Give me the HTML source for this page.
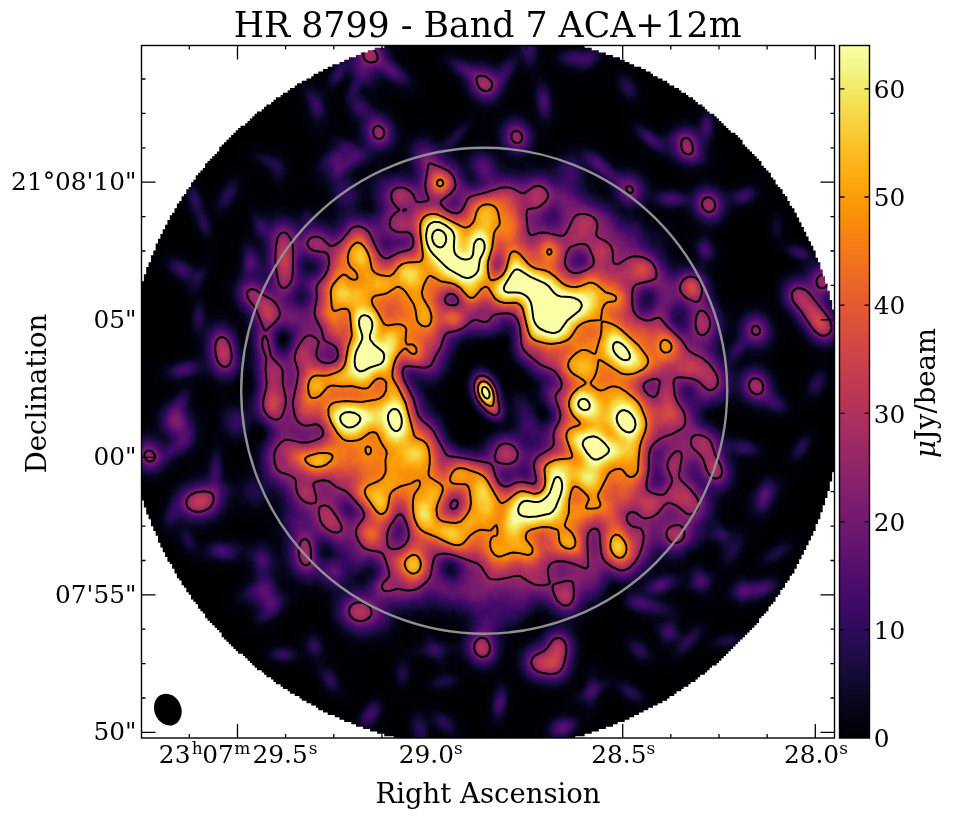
<!DOCTYPE html>
<html><head><meta charset="utf-8"><title>HR 8799 - Band 7 ACA+12m</title>
<style>html,body{margin:0;padding:0;background:#fff}svg{display:block}text{font-family:'DejaVu Serif','Liberation Serif',serif;fill:#000}.b circle{mix-blend-mode:plus-lighter}</style></head><body>
<svg width="953" height="819" viewBox="0 0 953 819">
<defs>
<clipPath id="ax"><rect x="141.5" y="45.5" width="693" height="692.5"/></clipPath>
<clipPath id="disc"><path d="M584.64 45.5L584.64 47.86L591.71 47.86L591.71 50.21L598.79 50.21L598.79 52.57L605.86 52.57L605.86 54.93L612.93 54.93L612.93 57.29L620 57.29L620 59.64L624.71 59.64L624.71 62L629.43 62L629.43 64.36L634.14 64.36L634.14 66.71L641.21 66.71L641.21 69.07L645.93 69.07L645.93 71.43L650.64 71.43L650.64 73.79L653 73.79L653 76.14L657.71 76.14L657.71 78.5L662.43 78.5L662.43 80.86L667.14 80.86L667.14 83.21L669.5 83.21L669.5 85.57L674.21 85.57L674.21 87.93L678.93 87.93L678.93 90.29L681.29 90.29L681.29 92.64L686 92.64L686 95L688.36 95L688.36 97.36L693.07 97.36L693.07 99.71L695.43 99.71L695.43 102.07L697.79 102.07L697.79 104.43L702.5 104.43L702.5 106.79L704.86 106.79L704.86 109.14L707.21 109.14L707.21 111.5L709.57 111.5L709.57 113.86L714.29 113.86L714.29 116.21L716.64 116.21L716.64 118.57L719 118.57L719 120.93L721.36 120.93L721.36 123.29L723.71 123.29L723.71 125.64L726.07 125.64L726.07 128L728.43 128L728.43 130.36L730.79 130.36L730.79 132.71L735.5 132.71L735.5 135.07L737.86 135.07L737.86 137.43L740.21 137.43L740.21 139.79L742.57 139.79L742.57 142.14L742.57 142.14L742.57 144.5L744.93 144.5L744.93 146.86L747.29 146.86L747.29 149.21L749.64 149.21L749.64 151.57L752 151.57L752 153.93L754.36 153.93L754.36 156.29L756.71 156.29L756.71 158.64L759.07 158.64L759.07 161L761.43 161L761.43 163.36L761.43 163.36L761.43 165.71L763.79 165.71L763.79 168.07L766.14 168.07L766.14 170.43L768.5 170.43L768.5 172.79L770.86 172.79L770.86 175.14L770.86 175.14L770.86 177.5L773.21 177.5L773.21 179.86L775.57 179.86L775.57 182.21L775.57 182.21L775.57 184.57L777.93 184.57L777.93 186.93L780.29 186.93L780.29 189.29L782.64 189.29L782.64 191.64L782.64 191.64L782.64 194L785 194L785 196.36L787.36 196.36L787.36 198.71L787.36 198.71L787.36 201.07L789.71 201.07L789.71 203.43L789.71 203.43L789.71 205.79L792.07 205.79L792.07 208.14L794.43 208.14L794.43 210.5L794.43 210.5L794.43 212.86L796.79 212.86L796.79 215.21L796.79 215.21L796.79 217.57L799.14 217.57L799.14 219.93L799.14 219.93L799.14 222.29L801.5 222.29L801.5 224.64L801.5 224.64L801.5 227L803.86 227L803.86 229.36L803.86 229.36L803.86 231.71L806.21 231.71L806.21 234.07L806.21 234.07L806.21 236.43L808.57 236.43L808.57 238.79L808.57 238.79L808.57 241.14L810.93 241.14L810.93 243.5L810.93 243.5L810.93 245.86L813.29 245.86L813.29 248.21L813.29 248.21L813.29 250.57L815.64 250.57L815.64 252.93L815.64 252.93L815.64 255.29L815.64 255.29L815.64 257.64L818 257.64L818 260L818 260L818 262.36L820.36 262.36L820.36 264.71L820.36 264.71L820.36 267.07L820.36 267.07L820.36 269.43L822.71 269.43L822.71 271.79L822.71 271.79L822.71 274.14L822.71 274.14L822.71 276.5L825.07 276.5L825.07 278.86L825.07 278.86L825.07 281.21L825.07 281.21L825.07 283.57L827.43 283.57L827.43 285.93L827.43 285.93L827.43 288.29L827.43 288.29L827.43 290.64L829.79 290.64L829.79 293L829.79 293L829.79 295.36L829.79 295.36L829.79 297.71L829.79 297.71L829.79 300.07L832.14 300.07L832.14 302.43L832.14 302.43L832.14 304.79L832.14 304.79L832.14 307.14L832.14 307.14L832.14 309.5L834.5 309.5L834.5 311.86L834.5 311.86L834.5 314.21L834.5 314.21L834.5 316.57L834.5 316.57L834.5 318.93L834.5 318.93L834.5 321.29L834.5 321.29L834.5 323.64L834.5 323.64L834.5 326L834.5 326L834.5 328.36L834.5 328.36L834.5 330.71L834.5 330.71L834.5 333.07L834.5 333.07L834.5 335.43L834.5 335.43L834.5 337.79L834.5 337.79L834.5 340.14L834.5 340.14L834.5 342.5L834.5 342.5L834.5 344.86L834.5 344.86L834.5 347.21L834.5 347.21L834.5 349.57L834.5 349.57L834.5 351.93L834.5 351.93L834.5 354.29L834.5 354.29L834.5 356.64L834.5 356.64L834.5 359L834.5 359L834.5 361.36L834.5 361.36L834.5 363.71L834.5 363.71L834.5 366.07L834.5 366.07L834.5 368.43L834.5 368.43L834.5 370.79L834.5 370.79L834.5 373.14L834.5 373.14L834.5 375.5L834.5 375.5L834.5 377.86L834.5 377.86L834.5 380.21L834.5 380.21L834.5 382.57L834.5 382.57L834.5 384.93L834.5 384.93L834.5 387.29L834.5 387.29L834.5 389.64L834.5 389.64L834.5 392L834.5 392L834.5 394.36L834.5 394.36L834.5 396.71L834.5 396.71L834.5 399.07L834.5 399.07L834.5 401.43L834.5 401.43L834.5 403.79L834.5 403.79L834.5 406.14L834.5 406.14L834.5 408.5L834.5 408.5L834.5 410.86L834.5 410.86L834.5 413.21L834.5 413.21L834.5 415.57L834.5 415.57L834.5 417.93L834.5 417.93L834.5 420.29L834.5 420.29L834.5 422.64L834.5 422.64L834.5 425L834.5 425L834.5 427.36L834.5 427.36L834.5 429.71L834.5 429.71L834.5 432.07L834.5 432.07L834.5 434.43L834.5 434.43L834.5 436.79L834.5 436.79L834.5 439.14L834.5 439.14L834.5 441.5L834.5 441.5L834.5 443.86L834.5 443.86L834.5 446.21L834.5 446.21L834.5 448.57L834.5 448.57L834.5 450.93L834.5 450.93L834.5 453.29L834.5 453.29L834.5 455.64L834.5 455.64L834.5 458L834.5 458L834.5 460.36L834.5 460.36L834.5 462.71L834.5 462.71L834.5 465.07L834.5 465.07L834.5 467.43L834.5 467.43L834.5 469.79L834.5 469.79L834.5 472.14L832.14 472.14L832.14 474.5L832.14 474.5L832.14 476.86L832.14 476.86L832.14 479.21L832.14 479.21L832.14 481.57L829.79 481.57L829.79 483.93L829.79 483.93L829.79 486.29L829.79 486.29L829.79 488.64L829.79 488.64L829.79 491L827.43 491L827.43 493.36L827.43 493.36L827.43 495.71L827.43 495.71L827.43 498.07L825.07 498.07L825.07 500.43L825.07 500.43L825.07 502.79L825.07 502.79L825.07 505.14L822.71 505.14L822.71 507.5L822.71 507.5L822.71 509.86L822.71 509.86L822.71 512.21L820.36 512.21L820.36 514.57L820.36 514.57L820.36 516.93L820.36 516.93L820.36 519.29L818 519.29L818 521.64L818 521.64L818 524L815.64 524L815.64 526.36L815.64 526.36L815.64 528.71L815.64 528.71L815.64 531.07L813.29 531.07L813.29 533.43L813.29 533.43L813.29 535.79L810.93 535.79L810.93 538.14L810.93 538.14L810.93 540.5L808.57 540.5L808.57 542.86L808.57 542.86L808.57 545.21L806.21 545.21L806.21 547.57L806.21 547.57L806.21 549.93L803.86 549.93L803.86 552.29L803.86 552.29L803.86 554.64L801.5 554.64L801.5 557L801.5 557L801.5 559.36L799.14 559.36L799.14 561.71L799.14 561.71L799.14 564.07L796.79 564.07L796.79 566.43L796.79 566.43L796.79 568.79L794.43 568.79L794.43 571.14L794.43 571.14L794.43 573.5L792.07 573.5L792.07 575.86L789.71 575.86L789.71 578.21L789.71 578.21L789.71 580.57L787.36 580.57L787.36 582.93L785 582.93L785 585.29L785 585.29L785 587.64L782.64 587.64L782.64 590L780.29 590L780.29 592.36L780.29 592.36L780.29 594.71L777.93 594.71L777.93 597.07L775.57 597.07L775.57 599.43L775.57 599.43L775.57 601.79L773.21 601.79L773.21 604.14L770.86 604.14L770.86 606.5L768.5 606.5L768.5 608.86L768.5 608.86L768.5 611.21L766.14 611.21L766.14 613.57L763.79 613.57L763.79 615.93L761.43 615.93L761.43 618.29L759.07 618.29L759.07 620.64L759.07 620.64L759.07 623L756.71 623L756.71 625.36L754.36 625.36L754.36 627.71L752 627.71L752 630.07L749.64 630.07L749.64 632.43L747.29 632.43L747.29 634.79L744.93 634.79L744.93 637.14L742.57 637.14L742.57 639.5L740.21 639.5L740.21 641.86L737.86 641.86L737.86 644.21L735.5 644.21L735.5 646.57L733.14 646.57L733.14 648.93L730.79 648.93L730.79 651.29L728.43 651.29L728.43 653.64L726.07 653.64L726.07 656L723.71 656L723.71 658.36L721.36 658.36L721.36 660.71L719 660.71L719 663.07L716.64 663.07L716.64 665.43L711.93 665.43L711.93 667.79L709.57 667.79L709.57 670.14L707.21 670.14L707.21 672.5L704.86 672.5L704.86 674.86L700.14 674.86L700.14 677.21L697.79 677.21L697.79 679.57L695.43 679.57L695.43 681.93L690.71 681.93L690.71 684.29L688.36 684.29L688.36 686.64L683.64 686.64L683.64 689L681.29 689L681.29 691.36L676.57 691.36L676.57 693.71L674.21 693.71L674.21 696.07L669.5 696.07L669.5 698.43L667.14 698.43L667.14 700.79L662.43 700.79L662.43 703.14L657.71 703.14L657.71 705.5L653 705.5L653 707.86L648.29 707.86L648.29 710.21L643.57 710.21L643.57 712.57L638.86 712.57L638.86 714.93L634.14 714.93L634.14 717.29L629.43 717.29L629.43 719.64L624.71 719.64L624.71 722L617.64 722L617.64 724.36L612.93 724.36L612.93 726.71L605.86 726.71L605.86 729.07L598.79 729.07L598.79 731.43L591.71 731.43L591.71 733.79L584.64 733.79L584.64 736.14L575.21 736.14L575.21 738.5L393.71 738.5L393.71 736.14L384.29 736.14L384.29 733.79L377.21 733.79L377.21 731.43L370.14 731.43L370.14 729.07L363.07 729.07L363.07 726.71L356 726.71L356 724.36L351.29 724.36L351.29 722L344.21 722L344.21 719.64L339.5 719.64L339.5 717.29L334.79 717.29L334.79 714.93L327.71 714.93L327.71 712.57L323 712.57L323 710.21L318.29 710.21L318.29 707.86L315.93 707.86L315.93 705.5L311.21 705.5L311.21 703.14L306.5 703.14L306.5 700.79L301.79 700.79L301.79 698.43L299.43 698.43L299.43 696.07L294.71 696.07L294.71 693.71L290 693.71L290 691.36L287.64 691.36L287.64 689L282.93 689L282.93 686.64L280.57 686.64L280.57 684.29L275.86 684.29L275.86 681.93L273.5 681.93L273.5 679.57L271.14 679.57L271.14 677.21L266.43 677.21L266.43 674.86L264.07 674.86L264.07 672.5L261.71 672.5L261.71 670.14L257 670.14L257 667.79L254.64 667.79L254.64 665.43L252.29 665.43L252.29 663.07L249.93 663.07L249.93 660.71L247.57 660.71L247.57 658.36L245.21 658.36L245.21 656L242.86 656L242.86 653.64L238.14 653.64L238.14 651.29L235.79 651.29L235.79 648.93L233.43 648.93L233.43 646.57L231.07 646.57L231.07 644.21L228.71 644.21L228.71 641.86L226.36 641.86L226.36 639.5L224 639.5L224 637.14L221.64 637.14L221.64 634.79L221.64 634.79L221.64 632.43L219.29 632.43L219.29 630.07L216.93 630.07L216.93 627.71L214.57 627.71L214.57 625.36L212.21 625.36L212.21 623L209.86 623L209.86 620.64L207.5 620.64L207.5 618.29L205.14 618.29L205.14 615.93L205.14 615.93L205.14 613.57L202.79 613.57L202.79 611.21L200.43 611.21L200.43 608.86L198.07 608.86L198.07 606.5L198.07 606.5L198.07 604.14L195.71 604.14L195.71 601.79L193.36 601.79L193.36 599.43L191 599.43L191 597.07L191 597.07L191 594.71L188.64 594.71L188.64 592.36L186.29 592.36L186.29 590L186.29 590L186.29 587.64L183.93 587.64L183.93 585.29L181.57 585.29L181.57 582.93L181.57 582.93L181.57 580.57L179.21 580.57L179.21 578.21L176.86 578.21L176.86 575.86L176.86 575.86L176.86 573.5L174.5 573.5L174.5 571.14L174.5 571.14L174.5 568.79L172.14 568.79L172.14 566.43L172.14 566.43L172.14 564.07L169.79 564.07L169.79 561.71L167.43 561.71L167.43 559.36L167.43 559.36L167.43 557L165.07 557L165.07 554.64L165.07 554.64L165.07 552.29L162.71 552.29L162.71 549.93L162.71 549.93L162.71 547.57L160.36 547.57L160.36 545.21L160.36 545.21L160.36 542.86L158 542.86L158 540.5L158 540.5L158 538.14L158 538.14L158 535.79L155.64 535.79L155.64 533.43L155.64 533.43L155.64 531.07L153.29 531.07L153.29 528.71L153.29 528.71L153.29 526.36L150.93 526.36L150.93 524L150.93 524L150.93 521.64L150.93 521.64L150.93 519.29L148.57 519.29L148.57 516.93L148.57 516.93L148.57 514.57L146.21 514.57L146.21 512.21L146.21 512.21L146.21 509.86L146.21 509.86L146.21 507.5L143.86 507.5L143.86 505.14L143.86 505.14L143.86 502.79L143.86 502.79L143.86 500.43L141.5 500.43L141.5 498.07L141.5 498.07L141.5 495.71L141.5 495.71L141.5 493.36L141.5 493.36L141.5 491L141.5 491L141.5 488.64L141.5 488.64L141.5 486.29L141.5 486.29L141.5 483.93L141.5 483.93L141.5 481.57L141.5 481.57L141.5 479.21L141.5 479.21L141.5 476.86L141.5 476.86L141.5 474.5L141.5 474.5L141.5 472.14L141.5 472.14L141.5 469.79L141.5 469.79L141.5 467.43L141.5 467.43L141.5 465.07L141.5 465.07L141.5 462.71L141.5 462.71L141.5 460.36L141.5 460.36L141.5 458L141.5 458L141.5 455.64L141.5 455.64L141.5 453.29L141.5 453.29L141.5 450.93L141.5 450.93L141.5 448.57L141.5 448.57L141.5 446.21L141.5 446.21L141.5 443.86L141.5 443.86L141.5 441.5L141.5 441.5L141.5 439.14L141.5 439.14L141.5 436.79L141.5 436.79L141.5 434.43L141.5 434.43L141.5 432.07L141.5 432.07L141.5 429.71L141.5 429.71L141.5 427.36L141.5 427.36L141.5 425L141.5 425L141.5 422.64L141.5 422.64L141.5 420.29L141.5 420.29L141.5 417.93L141.5 417.93L141.5 415.57L141.5 415.57L141.5 413.21L141.5 413.21L141.5 410.86L141.5 410.86L141.5 408.5L141.5 408.5L141.5 406.14L141.5 406.14L141.5 403.79L141.5 403.79L141.5 401.43L141.5 401.43L141.5 399.07L141.5 399.07L141.5 396.71L141.5 396.71L141.5 394.36L141.5 394.36L141.5 392L141.5 392L141.5 389.64L141.5 389.64L141.5 387.29L141.5 387.29L141.5 384.93L141.5 384.93L141.5 382.57L141.5 382.57L141.5 380.21L141.5 380.21L141.5 377.86L141.5 377.86L141.5 375.5L141.5 375.5L141.5 373.14L141.5 373.14L141.5 370.79L141.5 370.79L141.5 368.43L141.5 368.43L141.5 366.07L141.5 366.07L141.5 363.71L141.5 363.71L141.5 361.36L141.5 361.36L141.5 359L141.5 359L141.5 356.64L141.5 356.64L141.5 354.29L141.5 354.29L141.5 351.93L141.5 351.93L141.5 349.57L141.5 349.57L141.5 347.21L141.5 347.21L141.5 344.86L141.5 344.86L141.5 342.5L141.5 342.5L141.5 340.14L141.5 340.14L141.5 337.79L141.5 337.79L141.5 335.43L141.5 335.43L141.5 333.07L141.5 333.07L141.5 330.71L141.5 330.71L141.5 328.36L141.5 328.36L141.5 326L141.5 326L141.5 323.64L141.5 323.64L141.5 321.29L141.5 321.29L141.5 318.93L141.5 318.93L141.5 316.57L141.5 316.57L141.5 314.21L141.5 314.21L141.5 311.86L141.5 311.86L141.5 309.5L141.5 309.5L141.5 307.14L141.5 307.14L141.5 304.79L141.5 304.79L141.5 302.43L141.5 302.43L141.5 300.07L141.5 300.07L141.5 297.71L141.5 297.71L141.5 295.36L141.5 295.36L141.5 293L141.5 293L141.5 290.64L141.5 290.64L141.5 288.29L141.5 288.29L141.5 285.93L141.5 285.93L141.5 283.57L141.5 283.57L141.5 281.21L143.86 281.21L143.86 278.86L143.86 278.86L143.86 276.5L143.86 276.5L143.86 274.14L146.21 274.14L146.21 271.79L146.21 271.79L146.21 269.43L146.21 269.43L146.21 267.07L148.57 267.07L148.57 264.71L148.57 264.71L148.57 262.36L150.93 262.36L150.93 260L150.93 260L150.93 257.64L150.93 257.64L150.93 255.29L153.29 255.29L153.29 252.93L153.29 252.93L153.29 250.57L155.64 250.57L155.64 248.21L155.64 248.21L155.64 245.86L155.64 245.86L155.64 243.5L158 243.5L158 241.14L158 241.14L158 238.79L160.36 238.79L160.36 236.43L160.36 236.43L160.36 234.07L162.71 234.07L162.71 231.71L162.71 231.71L162.71 229.36L165.07 229.36L165.07 227L165.07 227L165.07 224.64L167.43 224.64L167.43 222.29L167.43 222.29L167.43 219.93L169.79 219.93L169.79 217.57L169.79 217.57L169.79 215.21L172.14 215.21L172.14 212.86L174.5 212.86L174.5 210.5L174.5 210.5L174.5 208.14L176.86 208.14L176.86 205.79L176.86 205.79L176.86 203.43L179.21 203.43L179.21 201.07L181.57 201.07L181.57 198.71L181.57 198.71L181.57 196.36L183.93 196.36L183.93 194L186.29 194L186.29 191.64L186.29 191.64L186.29 189.29L188.64 189.29L188.64 186.93L191 186.93L191 184.57L191 184.57L191 182.21L193.36 182.21L193.36 179.86L195.71 179.86L195.71 177.5L195.71 177.5L195.71 175.14L198.07 175.14L198.07 172.79L200.43 172.79L200.43 170.43L202.79 170.43L202.79 168.07L205.14 168.07L205.14 165.71L205.14 165.71L205.14 163.36L207.5 163.36L207.5 161L209.86 161L209.86 158.64L212.21 158.64L212.21 156.29L214.57 156.29L214.57 153.93L216.93 153.93L216.93 151.57L219.29 151.57L219.29 149.21L219.29 149.21L219.29 146.86L221.64 146.86L221.64 144.5L224 144.5L224 142.14L226.36 142.14L226.36 139.79L228.71 139.79L228.71 137.43L231.07 137.43L231.07 135.07L233.43 135.07L233.43 132.71L235.79 132.71L235.79 130.36L238.14 130.36L238.14 128L240.5 128L240.5 125.64L245.21 125.64L245.21 123.29L247.57 123.29L247.57 120.93L249.93 120.93L249.93 118.57L252.29 118.57L252.29 116.21L254.64 116.21L254.64 113.86L257 113.86L257 111.5L261.71 111.5L261.71 109.14L264.07 109.14L264.07 106.79L266.43 106.79L266.43 104.43L271.14 104.43L271.14 102.07L273.5 102.07L273.5 99.71L275.86 99.71L275.86 97.36L280.57 97.36L280.57 95L282.93 95L282.93 92.64L287.64 92.64L287.64 90.29L290 90.29L290 87.93L294.71 87.93L294.71 85.57L297.07 85.57L297.07 83.21L301.79 83.21L301.79 80.86L306.5 80.86L306.5 78.5L311.21 78.5L311.21 76.14L313.57 76.14L313.57 73.79L318.29 73.79L318.29 71.43L323 71.43L323 69.07L327.71 69.07L327.71 66.71L332.43 66.71L332.43 64.36L339.5 64.36L339.5 62L344.21 62L344.21 59.64L348.93 59.64L348.93 57.29L356 57.29L356 54.93L360.71 54.93L360.71 52.57L367.79 52.57L367.79 50.21L374.86 50.21L374.86 47.86L384.29 47.86L384.29 45.5Z"/></clipPath>
<linearGradient id="cb" x1="0" y1="1" x2="0" y2="0"><stop offset="0" stop-color="#000004"/><stop offset="0.0312" stop-color="#040312"/><stop offset="0.0625" stop-color="#0b0724"/><stop offset="0.0938" stop-color="#150b37"/><stop offset="0.125" stop-color="#210c4a"/><stop offset="0.1562" stop-color="#2f0a5b"/><stop offset="0.1875" stop-color="#3d0965"/><stop offset="0.2188" stop-color="#4a0c6b"/><stop offset="0.25" stop-color="#57106e"/><stop offset="0.2812" stop-color="#64156e"/><stop offset="0.3125" stop-color="#71196e"/><stop offset="0.3438" stop-color="#7d1e6d"/><stop offset="0.375" stop-color="#8a226a"/><stop offset="0.4062" stop-color="#972766"/><stop offset="0.4375" stop-color="#a32c61"/><stop offset="0.4688" stop-color="#b0315b"/><stop offset="0.5" stop-color="#bc3754"/><stop offset="0.5312" stop-color="#c73e4c"/><stop offset="0.5625" stop-color="#d24644"/><stop offset="0.5938" stop-color="#db503b"/><stop offset="0.625" stop-color="#e45a31"/><stop offset="0.6562" stop-color="#eb6628"/><stop offset="0.6875" stop-color="#f1731d"/><stop offset="0.7188" stop-color="#f68013"/><stop offset="0.75" stop-color="#f98e09"/><stop offset="0.7812" stop-color="#fb9d07"/><stop offset="0.8125" stop-color="#fcac11"/><stop offset="0.8438" stop-color="#fbbc21"/><stop offset="0.875" stop-color="#f9cb35"/><stop offset="0.9062" stop-color="#f5db4c"/><stop offset="0.9375" stop-color="#f2ea69"/><stop offset="0.9688" stop-color="#f3f68a"/><stop offset="1" stop-color="#fcffa4"/></linearGradient>
<radialGradient id="g" cx="0" cy="0" r="1" gradientUnits="userSpaceOnUse"><stop offset="0" stop-color="#f00" stop-opacity="1"/><stop offset=".0833" stop-color="#f00" stop-opacity=".9649"/><stop offset=".1667" stop-color="#f00" stop-opacity=".8666"/><stop offset=".25" stop-color="#f00" stop-opacity=".7245"/><stop offset=".3333" stop-color="#f00" stop-opacity=".5635"/><stop offset=".4167" stop-color="#f00" stop-opacity=".4076"/><stop offset=".5" stop-color="#f00" stop-opacity=".2737"/><stop offset=".5833" stop-color="#f00" stop-opacity=".1702"/><stop offset=".6667" stop-color="#f00" stop-opacity=".0973"/><stop offset=".75" stop-color="#f00" stop-opacity=".0505"/><stop offset=".8333" stop-color="#f00" stop-opacity=".0227"/><stop offset=".9167" stop-color="#f00" stop-opacity=".0076"/><stop offset="1" stop-color="#f00" stop-opacity="0"/></radialGradient>
<radialGradient id="k" cx="0" cy="0" r="1" gradientUnits="userSpaceOnUse"><stop offset="0" stop-color="#00f" stop-opacity="1"/><stop offset=".0833" stop-color="#00f" stop-opacity=".9649"/><stop offset=".1667" stop-color="#00f" stop-opacity=".8666"/><stop offset=".25" stop-color="#00f" stop-opacity=".7245"/><stop offset=".3333" stop-color="#00f" stop-opacity=".5635"/><stop offset=".4167" stop-color="#00f" stop-opacity=".4076"/><stop offset=".5" stop-color="#00f" stop-opacity=".2737"/><stop offset=".5833" stop-color="#00f" stop-opacity=".1702"/><stop offset=".6667" stop-color="#00f" stop-opacity=".0973"/><stop offset=".75" stop-color="#00f" stop-opacity=".0505"/><stop offset=".8333" stop-color="#00f" stop-opacity=".0227"/><stop offset=".9167" stop-color="#00f" stop-opacity=".0076"/><stop offset="1" stop-color="#00f" stop-opacity="0"/></radialGradient>
<filter id="inferno" filterUnits="userSpaceOnUse" x="130" y="30" width="720" height="720" color-interpolation-filters="sRGB"><feColorMatrix type="matrix" values="1 0 -1 0 0 1 0 -1 0 0 1 0 -1 0 0 0 0 0 0 1"/><feGaussianBlur stdDeviation="0.9"/><feComponentTransfer><feFuncR type="table" tableValues=".001 .006 .014 .026 .042 .061 .082 .105 .129 .156 .183 .211 .238 .265 .291 .316 .342 .367 .391 .416 .441 .466 .491 .516 .541 .566 .591 .616 .64 .665 .689 .712 .736 .758 .781 .802 .822 .842 .861 .878 .894 .909 .923 .936 .947 .957 .965 .973 .978 .983 .986 .988 .988 .987 .984 .98 .975 .968 .961 .953 .948 .947 .955 .971 .988 .988 .988 .988 .988 .988 .988 .988 .988 .988 .988 .988 .988 .988 .988 .988 .988 .988 .988 .988 .988 .988 .988 .988 .988 .988 .988 .988 .988 .988 .988 .988 .988 .988 .988 .988 .988 .988 .988 .988 .988 .988 .988 .988 .988 .988 .988 .988 .988 .988 .988 .988 .988 .988 .988 .988 .988 .988 .988 .988 .988 .988 .988 .988 .988"/><feFuncG type="table" tableValues="0 .005 .011 .019 .028 .037 .043 .047 .047 .045 .04 .037 .037 .04 .046 .053 .062 .072 .081 .09 .099 .108 .117 .126 .135 .144 .153 .162 .171 .182 .192 .204 .216 .229 .243 .259 .275 .293 .312 .332 .353 .376 .399 .424 .449 .475 .502 .53 .558 .587 .616 .645 .675 .706 .736 .767 .798 .829 .859 .889 .917 .943 .966 .985 .998 .998 .998 .998 .998 .998 .998 .998 .998 .998 .998 .998 .998 .998 .998 .998 .998 .998 .998 .998 .998 .998 .998 .998 .998 .998 .998 .998 .998 .998 .998 .998 .998 .998 .998 .998 .998 .998 .998 .998 .998 .998 .998 .998 .998 .998 .998 .998 .998 .998 .998 .998 .998 .998 .998 .998 .998 .998 .998 .998 .998 .998 .998 .998 .998"/><feFuncB type="table" tableValues=".014 .039 .072 .106 .141 .178 .215 .253 .291 .325 .355 .379 .396 .409 .419 .425 .429 .432 .433 .433 .432 .429 .426 .421 .415 .408 .4 .391 .381 .37 .358 .344 .33 .315 .3 .283 .266 .249 .231 .212 .194 .175 .155 .135 .115 .095 .074 .053 .035 .025 .026 .04 .065 .096 .13 .166 .206 .25 .298 .351 .411 .475 .54 .602 .645 .645 .645 .645 .645 .645 .645 .645 .645 .645 .645 .645 .645 .645 .645 .645 .645 .645 .645 .645 .645 .645 .645 .645 .645 .645 .645 .645 .645 .645 .645 .645 .645 .645 .645 .645 .645 .645 .645 .645 .645 .645 .645 .645 .645 .645 .645 .645 .645 .645 .645 .645 .645 .645 .645 .645 .645 .645 .645 .645 .645 .645 .645 .645 .645"/></feComponentTransfer></filter>
</defs>
<rect width="953" height="819" fill="#fff"/>
<g clip-path="url(#ax)"><g clip-path="url(#disc)">
<g filter="url(#inferno)"><rect x="130" y="30" width="720" height="720" fill="#000"/>
<g class="b">
<circle r="1" fill="url(#g)" opacity=".578" transform="matrix(21.05 -7.66 12.04 33.08 485.5 392)"/>
<circle r="1" fill="url(#g)" opacity=".172" transform="matrix(16.63 -9.6 13.6 23.56 495 411)"/>
<circle r="1" fill="url(#g)" opacity=".192" transform="matrix(28.57 -10.4 12.04 33.08 284 259)"/>
<circle r="1" fill="url(#g)" opacity=".111" transform="matrix(28.57 -10.4 12.04 33.08 283 241)"/>
<circle r="1" fill="url(#g)" opacity=".142" transform="matrix(28.57 -10.4 12.04 33.08 285 277)"/>
<circle r="1" fill="url(#g)" opacity=".08" transform="matrix(28.57 -10.4 12.04 33.08 284 231)"/>
<circle r="1" fill="url(#g)" opacity=".08" transform="matrix(28.57 -10.4 12.04 33.08 284 290)"/>
<circle r="1" fill="url(#g)" opacity=".105" transform="matrix(28.57 -10.4 12.04 33.08 318 246)"/>
<circle r="1" fill="url(#g)" opacity=".054" transform="matrix(28.57 -10.4 12.04 33.08 335 252)"/>
<circle r="1" fill="url(#g)" opacity=".16" transform="matrix(28.57 -10.4 12.04 33.08 359 241)"/>
<circle r="1" fill="url(#g)" opacity=".072" transform="matrix(28.57 -10.4 12.04 33.08 352.7 227.6)"/>
<circle r="1" fill="url(#g)" opacity=".17" transform="matrix(28.57 -10.4 12.04 33.08 360 259)"/>
<circle r="1" fill="url(#g)" opacity=".13" transform="matrix(28.57 -10.4 12.04 33.08 350 291)"/>
<circle r="1" fill="url(#g)" opacity=".166" transform="matrix(28.57 -10.4 12.04 33.08 366 277)"/>
<circle r="1" fill="url(#g)" opacity=".19" transform="matrix(28.57 -10.4 12.04 33.08 401 195)"/>
<circle r="1" fill="url(#g)" opacity=".175" transform="matrix(28.57 -10.4 12.04 33.08 401 224)"/>
<circle r="1" fill="url(#k)" opacity=".031" transform="matrix(28.57 -10.4 12.04 33.08 403 211.3)"/>
<circle r="1" fill="url(#g)" opacity=".034" transform="matrix(13.92 -1.58 3.54 31.1 337 168)"/>
<circle r="1" fill="url(#g)" opacity=".012" transform="matrix(5.55 -13.4 37.37 15.46 354 158)"/>
<circle r="1" fill="url(#g)" opacity=".05" transform="matrix(12.42 -7.6 18.86 30.83 261 226)"/>
<circle r="1" fill="url(#g)" opacity=".065" transform="matrix(13.86 2.15 -4.06 26.14 249 265)"/>
<circle r="1" fill="url(#g)" opacity=".056" transform="matrix(28.57 -10.4 12.04 33.08 382 189)"/>
<circle r="1" fill="url(#k)" opacity=".034" transform="matrix(28.57 -10.4 12.04 33.08 370 214)"/>
<circle r="1" fill="url(#k)" opacity=".048" transform="matrix(28.57 -10.4 12.04 33.08 311 267)"/>
<circle r="1" fill="url(#k)" opacity=".051" transform="matrix(28.57 -10.4 12.04 33.08 302 296)"/>
<circle r="1" fill="url(#g)" opacity=".125" transform="matrix(28.57 -10.4 12.04 33.08 268 306)"/>
<circle r="1" fill="url(#g)" opacity=".176" transform="matrix(28.57 -10.4 12.04 33.08 251 294)"/>
<circle r="1" fill="url(#g)" opacity=".068" transform="matrix(28.57 -10.4 12.04 33.08 385 303)"/>
<circle r="1" fill="url(#g)" opacity=".145" transform="matrix(28.57 -10.4 12.04 33.08 400.2 266.1)"/>
<circle r="1" fill="url(#g)" opacity=".116" transform="matrix(28.57 -10.4 12.04 33.08 329 284.8)"/>
<circle r="1" fill="url(#g)" opacity=".172" transform="matrix(28.57 -10.4 12.04 33.08 338.8 269.2)"/>
<circle r="1" fill="url(#g)" opacity=".138" transform="matrix(28.57 -10.4 12.04 33.08 348.5 251.6)"/>
<circle r="1" fill="url(#g)" opacity=".128" transform="matrix(28.57 -10.4 12.04 33.08 370 255.5)"/>
<circle r="1" fill="url(#g)" opacity=".086" transform="matrix(28.57 -10.4 12.04 33.08 381.8 275)"/>
<circle r="1" fill="url(#g)" opacity=".108" transform="matrix(28.57 -10.4 12.04 33.08 393.3 278.5)"/>
<circle r="1" fill="url(#g)" opacity=".019" transform="matrix(28.57 -10.4 12.04 33.08 336.8 245.7)"/>
<circle r="1" fill="url(#g)" opacity=".012" transform="matrix(28.57 -10.4 12.04 33.08 389.6 257.4)"/>
<circle r="1" fill="url(#g)" opacity=".087" transform="matrix(28.57 -10.4 12.04 33.08 307.5 245.7)"/>
<circle r="1" fill="url(#g)" opacity=".059" transform="matrix(28.57 -10.4 12.04 33.08 319.2 237.9)"/>
<circle r="1" fill="url(#k)" opacity=".008" transform="matrix(28.57 -10.4 12.04 33.08 327.1 275)"/>
<circle r="1" fill="url(#g)" opacity=".016" transform="matrix(28.57 -10.4 12.04 33.08 319.2 290.7)"/>
<circle r="1" fill="url(#g)" opacity=".183" transform="matrix(28.57 -10.4 12.04 33.08 438 238)"/>
<circle r="1" fill="url(#g)" opacity=".21" transform="matrix(28.57 -10.4 12.04 33.08 454 263)"/>
<circle r="1" fill="url(#g)" opacity=".207" transform="matrix(28.57 -10.4 12.04 33.08 469 268)"/>
<circle r="1" fill="url(#g)" opacity=".203" transform="matrix(28.57 -10.4 12.04 33.08 477 249)"/>
<circle r="1" fill="url(#g)" opacity=".125" transform="matrix(28.57 -10.4 12.04 33.08 458 251)"/>
<circle r="1" fill="url(#g)" opacity=".08" transform="matrix(28.57 -10.4 12.04 33.08 487 210)"/>
<circle r="1" fill="url(#k)" opacity=".093" transform="matrix(28.57 -10.4 12.04 33.08 497.8 263.1)"/>
<circle r="1" fill="url(#g)" opacity=".222" transform="matrix(28.57 -10.4 12.04 33.08 515.4 280.7)"/>
<circle r="1" fill="url(#g)" opacity=".191" transform="matrix(28.57 -10.4 12.04 33.08 542.6 292.5)"/>
<circle r="1" fill="url(#g)" opacity=".305" transform="matrix(28.57 -10.4 12.04 33.08 440 183.5)"/>
<circle r="1" fill="url(#g)" opacity=".11" transform="matrix(28.57 -10.4 12.04 33.08 427.6 161.2)"/>
<circle r="1" fill="url(#g)" opacity=".093" transform="matrix(28.57 -10.4 12.04 33.08 538 196)"/>
<circle r="1" fill="url(#g)" opacity=".133" transform="matrix(28.57 -10.4 12.04 33.08 517 223)"/>
<circle r="1" fill="url(#g)" opacity=".279" transform="matrix(28.57 -10.4 12.04 33.08 550.5 250.6)"/>
<circle r="1" fill="url(#k)" opacity=".068" transform="matrix(28.57 -10.4 12.04 33.08 473 179)"/>
<circle r="1" fill="url(#k)" opacity=".004" transform="matrix(28.57 -10.4 12.04 33.08 514 162)"/>
<circle r="1" fill="url(#k)" opacity=".042" transform="matrix(28.57 -10.4 12.04 33.08 452 205)"/>
<circle r="1" fill="url(#k)" opacity=".033" transform="matrix(28.57 -10.4 12.04 33.08 549.5 216)"/>
<circle r="1" fill="url(#g)" opacity=".213" transform="matrix(28.57 -10.4 12.04 33.08 411 275)"/>
<circle r="1" fill="url(#k)" opacity=".114" transform="matrix(28.57 -10.4 12.04 33.08 453 297.5)"/>
<circle r="1" fill="url(#g)" opacity=".139" transform="matrix(28.57 -10.4 12.04 33.08 483 168)"/>
<circle r="1" fill="url(#g)" opacity=".278" transform="matrix(28.57 -10.4 12.04 33.08 470 296)"/>
<circle r="1" fill="url(#g)" opacity=".153" transform="matrix(28.57 -10.4 12.04 33.08 498.1 300)"/>
<circle r="1" fill="url(#g)" opacity=".13" transform="matrix(28.57 -10.4 12.04 33.08 530 255)"/>
<circle r="1" fill="url(#g)" opacity=".07" transform="matrix(28.57 -10.4 12.04 33.08 520 245)"/>
<circle r="1" fill="url(#g)" opacity=".22" transform="matrix(28.57 -10.4 12.04 33.08 428.4 236.9)"/>
<circle r="1" fill="url(#g)" opacity=".211" transform="matrix(28.57 -10.4 12.04 33.08 438.2 224.7)"/>
<circle r="1" fill="url(#g)" opacity=".166" transform="matrix(28.57 -10.4 12.04 33.08 463.6 277)"/>
<circle r="1" fill="url(#g)" opacity=".143" transform="matrix(28.57 -10.4 12.04 33.08 478.3 238.9)"/>
<circle r="1" fill="url(#g)" opacity=".199" transform="matrix(28.57 -10.4 12.04 33.08 485.1 247.7)"/>
<circle r="1" fill="url(#g)" opacity=".211" transform="matrix(28.57 -10.4 12.04 33.08 480.2 269.2)"/>
<circle r="1" fill="url(#g)" opacity=".191" transform="matrix(28.57 -10.4 12.04 33.08 453.8 232.1)"/>
<circle r="1" fill="url(#g)" opacity=".177" transform="matrix(28.57 -10.4 12.04 33.08 444.1 265.3)"/>
<circle r="1" fill="url(#g)" opacity=".157" transform="matrix(28.57 -10.4 12.04 33.08 503.2 285.8)"/>
<circle r="1" fill="url(#g)" opacity=".211" transform="matrix(28.57 -10.4 12.04 33.08 514.8 268.3)"/>
<circle r="1" fill="url(#g)" opacity=".112" transform="matrix(28.57 -10.4 12.04 33.08 529.3 276.1)"/>
<circle r="1" fill="url(#g)" opacity=".11" transform="matrix(28.57 -10.4 12.04 33.08 542.5 282.5)"/>
<circle r="1" fill="url(#g)" opacity=".088" transform="matrix(28.57 -10.4 12.04 33.08 487.1 203.7)"/>
<circle r="1" fill="url(#g)" opacity=".049" transform="matrix(28.57 -10.4 12.04 33.08 496.8 208.6)"/>
<circle r="1" fill="url(#g)" opacity=".158" transform="matrix(28.57 -10.4 12.04 33.08 506.6 232.1)"/>
<circle r="1" fill="url(#g)" opacity=".022" transform="matrix(28.57 -10.4 12.04 33.08 489 259.4)"/>
<circle r="1" fill="url(#g)" opacity=".053" transform="matrix(28.57 -10.4 12.04 33.08 489.9 277.7)"/>
<circle r="1" fill="url(#g)" opacity=".178" transform="matrix(28.57 -10.4 12.04 33.08 420.6 218.4)"/>
<circle r="1" fill="url(#g)" opacity=".096" transform="matrix(28.57 -10.4 12.04 33.08 434.3 214.5)"/>
<circle r="1" fill="url(#g)" opacity=".082" transform="matrix(28.57 -10.4 12.04 33.08 463.6 228.1)"/>
<circle r="1" fill="url(#g)" opacity=".093" transform="matrix(28.57 -10.4 12.04 33.08 477.3 208.6)"/>
<circle r="1" fill="url(#g)" opacity=".085" transform="matrix(28.57 -10.4 12.04 33.08 422.6 251.6)"/>
<circle r="1" fill="url(#g)" opacity=".066" transform="matrix(28.57 -10.4 12.04 33.08 430.4 277)"/>
<circle r="1" fill="url(#g)" opacity=".107" transform="matrix(28.57 -10.4 12.04 33.08 453.8 284.8)"/>
<circle r="1" fill="url(#g)" opacity=".061" transform="matrix(28.57 -10.4 12.04 33.08 481.6 287.1)"/>
<circle r="1" fill="url(#k)" opacity=".024" transform="matrix(28.57 -10.4 12.04 33.08 501.3 268.1)"/>
<circle r="1" fill="url(#g)" opacity=".081" transform="matrix(28.57 -10.4 12.04 33.08 512.6 255.7)"/>
<circle r="1" fill="url(#k)" opacity=".009" transform="matrix(28.57 -10.4 12.04 33.08 530.2 267.4)"/>
<circle r="1" fill="url(#g)" opacity=".078" transform="matrix(28.57 -10.4 12.04 33.08 553.5 275)"/>
<circle r="1" fill="url(#g)" opacity=".021" transform="matrix(28.57 -10.4 12.04 33.08 453.8 183.2)"/>
<circle r="1" fill="url(#g)" opacity=".024" transform="matrix(28.57 -10.4 12.04 33.08 442.1 202.7)"/>
<circle r="1" fill="url(#g)" opacity=".051" transform="matrix(28.57 -10.4 12.04 33.08 453.8 210.6)"/>
<circle r="1" fill="url(#g)" opacity=".052" transform="matrix(28.57 -10.4 12.04 33.08 469.5 198.8)"/>
<circle r="1" fill="url(#g)" opacity=".036" transform="matrix(28.57 -10.4 12.04 33.08 491 191)"/>
<circle r="1" fill="url(#g)" opacity=".055" transform="matrix(28.57 -10.4 12.04 33.08 522.2 193)"/>
<circle r="1" fill="url(#g)" opacity=".061" transform="matrix(28.57 -10.4 12.04 33.08 537.8 185.2)"/>
<circle r="1" fill="url(#g)" opacity=".04" transform="matrix(28.57 -10.4 12.04 33.08 545.7 191)"/>
<circle r="1" fill="url(#g)" opacity=".085" transform="matrix(28.57 -10.4 12.04 33.08 537.8 208.6)"/>
<circle r="1" fill="url(#g)" opacity=".085" transform="matrix(28.57 -10.4 12.04 33.08 537.8 232.1)"/>
<circle r="1" fill="url(#g)" opacity=".032" transform="matrix(28.57 -10.4 12.04 33.08 549.6 234)"/>
<circle r="1" fill="url(#g)" opacity=".048" transform="matrix(28.57 -10.4 12.04 33.08 426.5 189.1)"/>
<circle r="1" fill="url(#k)" opacity=".023" transform="matrix(28.57 -10.4 12.04 33.08 416.7 208.6)"/>
<circle r="1" fill="url(#g)" opacity=".058" transform="matrix(28.57 -10.4 12.04 33.08 451.9 173.4)"/>
<circle r="1" fill="url(#g)" opacity=".235" transform="matrix(28.57 -10.4 12.04 33.08 438.2 248.7)"/>
<circle r="1" fill="url(#g)" opacity=".159" transform="matrix(28.57 -10.4 12.04 33.08 446 237.9)"/>
<circle r="1" fill="url(#g)" opacity=".174" transform="matrix(28.57 -10.4 12.04 33.08 630.4 190)"/>
<circle r="1" fill="url(#g)" opacity=".217" transform="matrix(28.57 -10.4 12.04 33.08 708.6 204.7)"/>
<circle r="1" fill="url(#g)" opacity=".059" transform="matrix(2.92 -17.13 33.55 5.72 670.5 199)"/>
<circle r="1" fill="url(#g)" opacity=".114" transform="matrix(28.57 -10.4 12.04 33.08 584.5 228)"/>
<circle r="1" fill="url(#g)" opacity=".125" transform="matrix(28.57 -10.4 12.04 33.08 600 253.5)"/>
<circle r="1" fill="url(#g)" opacity=".173" transform="matrix(28.57 -10.4 12.04 33.08 641 271)"/>
<circle r="1" fill="url(#g)" opacity=".273" transform="matrix(28.57 -10.4 12.04 33.08 692 287)"/>
<circle r="1" fill="url(#k)" opacity=".103" transform="matrix(28.57 -10.4 12.04 33.08 580.3 259.7)"/>
<circle r="1" fill="url(#g)" opacity=".089" transform="matrix(11.04 -13.04 25.88 21.9 596 162)"/>
<circle r="1" fill="url(#g)" opacity=".085" transform="matrix(28.57 -10.4 12.04 33.08 571 170)"/>
<circle r="1" fill="url(#g)" opacity=".038" transform="matrix(4.84 -16.18 36.51 10.92 692 156)"/>
<circle r="1" fill="url(#g)" opacity=".054" transform="matrix(11.12 -14.49 21.16 16.23 705.6 249.6)"/>
<circle r="1" fill="url(#g)" opacity=".069" transform="matrix(28.57 -10.4 12.04 33.08 575 303)"/>
<circle r="1" fill="url(#g)" opacity=".102" transform="matrix(28.57 -10.4 12.04 33.08 594 292.6)"/>
<circle r="1" fill="url(#k)" opacity=".012" transform="matrix(28.57 -10.4 12.04 33.08 623.6 214.5)"/>
<circle r="1" fill="url(#g)" opacity=".02" transform="matrix(28.57 -10.4 12.04 33.08 662.7 238)"/>
<circle r="1" fill="url(#k)" opacity=".058" transform="matrix(28.57 -10.4 12.04 33.08 647 302)"/>
<circle r="1" fill="url(#g)" opacity=".061" transform="matrix(28.57 -10.4 12.04 33.08 633 234)"/>
<circle r="1" fill="url(#g)" opacity=".055" transform="matrix(28.57 -10.4 12.04 33.08 615 280)"/>
<circle r="1" fill="url(#g)" opacity=".077" transform="matrix(28.57 -10.4 12.04 33.08 585 275)"/>
<circle r="1" fill="url(#g)" opacity=".072" transform="matrix(28.57 -10.4 12.04 33.08 588.4 214.5)"/>
<circle r="1" fill="url(#g)" opacity=".014" transform="matrix(28.57 -10.4 12.04 33.08 595.3 226.2)"/>
<circle r="1" fill="url(#g)" opacity=".014" transform="matrix(28.57 -10.4 12.04 33.08 594.3 239.9)"/>
<circle r="1" fill="url(#g)" opacity=".034" transform="matrix(28.57 -10.4 12.04 33.08 615.8 265.3)"/>
<circle r="1" fill="url(#g)" opacity=".036" transform="matrix(28.57 -10.4 12.04 33.08 637.3 257.4)"/>
<circle r="1" fill="url(#g)" opacity=".028" transform="matrix(28.57 -10.4 12.04 33.08 652.9 277)"/>
<circle r="1" fill="url(#g)" opacity=".074" transform="matrix(28.57 -10.4 12.04 33.08 633.4 290.7)"/>
<circle r="1" fill="url(#g)" opacity=".083" transform="matrix(28.57 -10.4 12.04 33.08 572.8 241.8)"/>
<circle r="1" fill="url(#g)" opacity=".062" transform="matrix(28.57 -10.4 12.04 33.08 566.8 266.7)"/>
<circle r="1" fill="url(#g)" opacity=".006" transform="matrix(28.57 -10.4 12.04 33.08 575.4 273.8)"/>
<circle r="1" fill="url(#g)" opacity=".031" transform="matrix(28.57 -10.4 12.04 33.08 591.4 267)"/>
<circle r="1" fill="url(#g)" opacity=".02" transform="matrix(28.57 -10.4 12.04 33.08 631.4 302.4)"/>
<circle r="1" fill="url(#g)" opacity=".112" transform="matrix(28.57 -10.4 12.04 33.08 592.5 283.3)"/>
<circle r="1" fill="url(#g)" opacity=".122" transform="matrix(28.57 -10.4 12.04 33.08 610.6 293.6)"/>
<circle r="1" fill="url(#g)" opacity=".063" transform="matrix(28.57 -10.4 12.04 33.08 565 284.8)"/>
<circle r="1" fill="url(#g)" opacity=".179" transform="matrix(28.57 -10.4 12.04 33.08 618.9 301.2)"/>
<circle r="1" fill="url(#g)" opacity=".221" transform="matrix(28.57 -10.4 12.04 33.08 364 322)"/>
<circle r="1" fill="url(#g)" opacity=".359" transform="matrix(28.57 -10.4 12.04 33.08 370 353)"/>
<circle r="1" fill="url(#g)" opacity=".154" transform="matrix(28.57 -10.4 12.04 33.08 350.5 419.4)"/>
<circle r="1" fill="url(#g)" opacity=".13" transform="matrix(28.57 -10.4 12.04 33.08 395.4 419.4)"/>
<circle r="1" fill="url(#g)" opacity=".077" transform="matrix(28.57 -10.4 12.04 33.08 385 313)"/>
<circle r="1" fill="url(#g)" opacity=".118" transform="matrix(28.57 -10.4 12.04 33.08 313 384)"/>
<circle r="1" fill="url(#k)" opacity=".026" transform="matrix(28.57 -10.4 12.04 33.08 328 356)"/>
<circle r="1" fill="url(#k)" opacity=".083" transform="matrix(28.57 -10.4 12.04 33.08 284 339)"/>
<circle r="1" fill="url(#g)" opacity=".134" transform="matrix(28.57 -10.4 12.04 33.08 274 404)"/>
<circle r="1" fill="url(#g)" opacity=".144" transform="matrix(28.57 -10.4 12.04 33.08 303.6 407.7)"/>
<circle r="1" fill="url(#g)" opacity=".095" transform="matrix(28.57 -10.4 12.04 33.08 272 368.6)"/>
<circle r="1" fill="url(#g)" opacity=".12" transform="matrix(28.57 -10.4 12.04 33.08 303.6 355)"/>
<circle r="1" fill="url(#g)" opacity=".147" transform="matrix(28.57 -10.4 12.04 33.08 268 318)"/>
<circle r="1" fill="url(#k)" opacity=".032" transform="matrix(28.57 -10.4 12.04 33.08 294 433)"/>
<circle r="1" fill="url(#k)" opacity=".055" transform="matrix(28.57 -10.4 12.04 33.08 264.5 431)"/>
<circle r="1" fill="url(#g)" opacity=".12" transform="matrix(28.57 -10.4 12.04 33.08 318 460.4)"/>
<circle r="1" fill="url(#g)" opacity=".131" transform="matrix(28.57 -10.4 12.04 33.08 294 452.6)"/>
<circle r="1" fill="url(#g)" opacity=".197" transform="matrix(28.57 -10.4 12.04 33.08 389.5 462)"/>
<circle r="1" fill="url(#k)" opacity=".05" transform="matrix(28.57 -10.4 12.04 33.08 403 374.5)"/>
<circle r="1" fill="url(#g)" opacity=".052" transform="matrix(28.57 -10.4 12.04 33.08 350 394)"/>
<circle r="1" fill="url(#g)" opacity=".038" transform="matrix(28.57 -10.4 12.04 33.08 375 391)"/>
<circle r="1" fill="url(#g)" opacity=".163" transform="matrix(28.57 -10.4 12.04 33.08 335 375)"/>
<circle r="1" fill="url(#g)" opacity=".071" transform="matrix(28.57 -10.4 12.04 33.08 348 376)"/>
<circle r="1" fill="url(#g)" opacity=".154" transform="matrix(28.57 -10.4 12.04 33.08 373 420)"/>
<circle r="1" fill="url(#k)" opacity=".024" transform="matrix(28.57 -10.4 12.04 33.08 252 380)"/>
<circle r="1" fill="url(#k)" opacity=".048" transform="matrix(28.57 -10.4 12.04 33.08 250 345)"/>
<circle r="1" fill="url(#g)" opacity=".266" transform="matrix(28.57 -10.4 12.04 33.08 395 385)"/>
<circle r="1" fill="url(#g)" opacity=".153" transform="matrix(28.57 -10.4 12.04 33.08 385 440)"/>
<circle r="1" fill="url(#g)" opacity=".037" transform="matrix(28.57 -10.4 12.04 33.08 350 438)"/>
<circle r="1" fill="url(#g)" opacity=".243" transform="matrix(28.57 -10.4 12.04 33.08 362.2 372.5)"/>
<circle r="1" fill="url(#g)" opacity=".206" transform="matrix(28.57 -10.4 12.04 33.08 353.4 360.8)"/>
<circle r="1" fill="url(#g)" opacity=".31" transform="matrix(28.57 -10.4 12.04 33.08 389.6 345.2)"/>
<circle r="1" fill="url(#g)" opacity=".117" transform="matrix(28.57 -10.4 12.04 33.08 358.3 321.7)"/>
<circle r="1" fill="url(#g)" opacity=".186" transform="matrix(28.57 -10.4 12.04 33.08 372 321.7)"/>
<circle r="1" fill="url(#g)" opacity=".128" transform="matrix(28.57 -10.4 12.04 33.08 354.4 345.2)"/>
<circle r="1" fill="url(#g)" opacity=".247" transform="matrix(28.57 -10.4 12.04 33.08 381.8 364.7)"/>
<circle r="1" fill="url(#g)" opacity=".182" transform="matrix(28.57 -10.4 12.04 33.08 339.7 419.4)"/>
<circle r="1" fill="url(#g)" opacity=".107" transform="matrix(28.57 -10.4 12.04 33.08 350.5 410.6)"/>
<circle r="1" fill="url(#g)" opacity=".177" transform="matrix(28.57 -10.4 12.04 33.08 361.2 419.4)"/>
<circle r="1" fill="url(#g)" opacity=".106" transform="matrix(28.57 -10.4 12.04 33.08 350.5 428.2)"/>
<circle r="1" fill="url(#g)" opacity=".12" transform="matrix(28.57 -10.4 12.04 33.08 386.6 416.5)"/>
<circle r="1" fill="url(#g)" opacity=".183" transform="matrix(28.57 -10.4 12.04 33.08 395.4 407.7)"/>
<circle r="1" fill="url(#g)" opacity=".115" transform="matrix(28.57 -10.4 12.04 33.08 401.3 421.4)"/>
<circle r="1" fill="url(#g)" opacity=".202" transform="matrix(28.57 -10.4 12.04 33.08 396.4 434.1)"/>
<circle r="1" fill="url(#g)" opacity=".087" transform="matrix(28.57 -10.4 12.04 33.08 309.5 380.3)"/>
<circle r="1" fill="url(#g)" opacity=".145" transform="matrix(28.57 -10.4 12.04 33.08 323.1 374.5)"/>
<circle r="1" fill="url(#g)" opacity=".047" transform="matrix(28.57 -10.4 12.04 33.08 342.7 372.5)"/>
<circle r="1" fill="url(#g)" opacity=".071" transform="matrix(28.57 -10.4 12.04 33.08 350.5 349.1)"/>
<circle r="1" fill="url(#k)" opacity=".039" transform="matrix(28.57 -10.4 12.04 33.08 356.4 335.4)"/>
<circle r="1" fill="url(#g)" opacity=".019" transform="matrix(28.57 -10.4 12.04 33.08 350.5 321.7)"/>
<circle r="1" fill="url(#g)" opacity=".113" transform="matrix(28.57 -10.4 12.04 33.08 309.5 396)"/>
<circle r="1" fill="url(#g)" opacity=".095" transform="matrix(28.57 -10.4 12.04 33.08 323.1 392.1)"/>
<circle r="1" fill="url(#g)" opacity=".091" transform="matrix(28.57 -10.4 12.04 33.08 342.7 384.2)"/>
<circle r="1" fill="url(#g)" opacity=".083" transform="matrix(28.57 -10.4 12.04 33.08 362.2 388.1)"/>
<circle r="1" fill="url(#g)" opacity=".062" transform="matrix(28.57 -10.4 12.04 33.08 372 382.3)"/>
<circle r="1" fill="url(#g)" opacity=".115" transform="matrix(28.57 -10.4 12.04 33.08 393.5 364.7)"/>
<circle r="1" fill="url(#g)" opacity=".087" transform="matrix(28.57 -10.4 12.04 33.08 336.8 401.8)"/>
<circle r="1" fill="url(#g)" opacity=".026" transform="matrix(28.57 -10.4 12.04 33.08 354.4 403.8)"/>
<circle r="1" fill="url(#g)" opacity=".095" transform="matrix(28.57 -10.4 12.04 33.08 381.8 397.9)"/>
<circle r="1" fill="url(#g)" opacity=".082" transform="matrix(28.57 -10.4 12.04 33.08 329 407.7)"/>
<circle r="1" fill="url(#g)" opacity=".1" transform="matrix(28.57 -10.4 12.04 33.08 329 419.4)"/>
<circle r="1" fill="url(#g)" opacity=".067" transform="matrix(28.57 -10.4 12.04 33.08 338.8 435)"/>
<circle r="1" fill="url(#g)" opacity=".051" transform="matrix(28.57 -10.4 12.04 33.08 354.4 440.9)"/>
<circle r="1" fill="url(#g)" opacity=".111" transform="matrix(28.57 -10.4 12.04 33.08 368.1 442.8)"/>
<circle r="1" fill="url(#g)" opacity=".11" transform="matrix(28.57 -10.4 12.04 33.08 370 450.7)"/>
<circle r="1" fill="url(#g)" opacity=".164" transform="matrix(28.57 -10.4 12.04 33.08 303.6 460.4)"/>
<circle r="1" fill="url(#g)" opacity=".077" transform="matrix(28.57 -10.4 12.04 33.08 318.3 452.6)"/>
<circle r="1" fill="url(#g)" opacity=".13" transform="matrix(28.57 -10.4 12.04 33.08 332.9 460.4)"/>
<circle r="1" fill="url(#g)" opacity=".112" transform="matrix(28.57 -10.4 12.04 33.08 318.3 468.2)"/>
<circle r="1" fill="url(#g)" opacity=".095" transform="matrix(28.57 -10.4 12.04 33.08 262.6 347.1)"/>
<circle r="1" fill="url(#g)" opacity=".048" transform="matrix(28.57 -10.4 12.04 33.08 266.5 372.5)"/>
<circle r="1" fill="url(#g)" opacity=".054" transform="matrix(28.57 -10.4 12.04 33.08 263.6 407.7)"/>
<circle r="1" fill="url(#g)" opacity=".094" transform="matrix(28.57 -10.4 12.04 33.08 272.4 419.4)"/>
<circle r="1" fill="url(#g)" opacity=".088" transform="matrix(28.57 -10.4 12.04 33.08 293.8 425.3)"/>
<circle r="1" fill="url(#g)" opacity=".071" transform="matrix(28.57 -10.4 12.04 33.08 309.5 429.2)"/>
<circle r="1" fill="url(#k)" opacity=".014" transform="matrix(28.57 -10.4 12.04 33.08 321.2 425.3)"/>
<circle r="1" fill="url(#g)" opacity=".003" transform="matrix(28.57 -10.4 12.04 33.08 309.5 442.8)"/>
<circle r="1" fill="url(#g)" opacity=".077" transform="matrix(28.57 -10.4 12.04 33.08 284.1 437)"/>
<circle r="1" fill="url(#g)" opacity=".113" transform="matrix(28.57 -10.4 12.04 33.08 274.3 450.7)"/>
<circle r="1" fill="url(#g)" opacity=".082" transform="matrix(28.57 -10.4 12.04 33.08 272.4 349.1)"/>
<circle r="1" fill="url(#g)" opacity=".022" transform="matrix(28.57 -10.4 12.04 33.08 284.1 382.3)"/>
<circle r="1" fill="url(#g)" opacity=".043" transform="matrix(28.57 -10.4 12.04 33.08 291.9 390.1)"/>
<circle r="1" fill="url(#k)" opacity=".01" transform="matrix(28.57 -10.4 12.04 33.08 297.7 378.4)"/>
<circle r="1" fill="url(#g)" opacity=".07" transform="matrix(28.57 -10.4 12.04 33.08 295.8 349.1)"/>
<circle r="1" fill="url(#g)" opacity=".036" transform="matrix(28.57 -10.4 12.04 33.08 303.6 339.3)"/>
<circle r="1" fill="url(#g)" opacity=".048" transform="matrix(28.57 -10.4 12.04 33.08 314.4 339.3)"/>
<circle r="1" fill="url(#g)" opacity=".054" transform="matrix(28.57 -10.4 12.04 33.08 309.5 331.5)"/>
<circle r="1" fill="url(#g)" opacity=".106" transform="matrix(28.57 -10.4 12.04 33.08 289.9 322.7)"/>
<circle r="1" fill="url(#g)" opacity=".079" transform="matrix(28.57 -10.4 12.04 33.08 264.5 336.4)"/>
<circle r="1" fill="url(#g)" opacity=".041" transform="matrix(28.57 -10.4 12.04 33.08 319.2 355.9)"/>
<circle r="1" fill="url(#g)" opacity=".099" transform="matrix(28.57 -10.4 12.04 33.08 328 346.1)"/>
<circle r="1" fill="url(#k)" opacity=".021" transform="matrix(28.57 -10.4 12.04 33.08 336.8 355.9)"/>
<circle r="1" fill="url(#k)" opacity=".042" transform="matrix(28.57 -10.4 12.04 33.08 328 365.7)"/>
<circle r="1" fill="url(#k)" opacity=".008" transform="matrix(28.57 -10.4 12.04 33.08 450 380)"/>
<circle r="1" fill="url(#k)" opacity=".023" transform="matrix(28.57 -10.4 12.04 33.08 520 370)"/>
<circle r="1" fill="url(#k)" opacity=".049" transform="matrix(28.57 -10.4 12.04 33.08 510 345)"/>
<circle r="1" fill="url(#k)" opacity=".012" transform="matrix(28.57 -10.4 12.04 33.08 470 345)"/>
<circle r="1" fill="url(#k)" opacity=".057" transform="matrix(28.57 -10.4 12.04 33.08 545.6 415.5)"/>
<circle r="1" fill="url(#k)" opacity=".018" transform="matrix(28.57 -10.4 12.04 33.08 455 435)"/>
<circle r="1" fill="url(#k)" opacity=".043" transform="matrix(28.57 -10.4 12.04 33.08 500 430)"/>
<circle r="1" fill="url(#k)" opacity=".014" transform="matrix(28.57 -10.4 12.04 33.08 530 395)"/>
<circle r="1" fill="url(#g)" opacity=".099" transform="matrix(28.57 -10.4 12.04 33.08 530 425)"/>
<circle r="1" fill="url(#g)" opacity=".062" transform="matrix(28.57 -10.4 12.04 33.08 522 404)"/>
<circle r="1" fill="url(#g)" opacity=".154" transform="matrix(28.57 -10.4 12.04 33.08 424.5 316)"/>
<circle r="1" fill="url(#g)" opacity=".122" transform="matrix(28.57 -10.4 12.04 33.08 430 339)"/>
<circle r="1" fill="url(#g)" opacity=".072" transform="matrix(28.57 -10.4 12.04 33.08 547.6 319.8)"/>
<circle r="1" fill="url(#g)" opacity=".113" transform="matrix(28.57 -10.4 12.04 33.08 553 360)"/>
<circle r="1" fill="url(#g)" opacity=".228" transform="matrix(28.57 -10.4 12.04 33.08 414.8 454.5)"/>
<circle r="1" fill="url(#g)" opacity=".165" transform="matrix(28.57 -10.4 12.04 33.08 459.7 468)"/>
<circle r="1" fill="url(#g)" opacity=".169" transform="matrix(28.57 -10.4 12.04 33.08 557 462)"/>
<circle r="1" fill="url(#g)" opacity=".121" transform="matrix(28.57 -10.4 12.04 33.08 506.5 459)"/>
<circle r="1" fill="url(#g)" opacity=".035" transform="matrix(28.57 -10.4 12.04 33.08 444.1 335.4)"/>
<circle r="1" fill="url(#g)" opacity=".045" transform="matrix(28.57 -10.4 12.04 33.08 469.5 321.7)"/>
<circle r="1" fill="url(#g)" opacity=".111" transform="matrix(28.57 -10.4 12.04 33.08 489.9 321.9)"/>
<circle r="1" fill="url(#g)" opacity=".036" transform="matrix(28.57 -10.4 12.04 33.08 510.9 314.3)"/>
<circle r="1" fill="url(#k)" opacity=".038" transform="matrix(28.57 -10.4 12.04 33.08 520.3 329.5)"/>
<circle r="1" fill="url(#g)" opacity=".082" transform="matrix(28.57 -10.4 12.04 33.08 522.2 349.1)"/>
<circle r="1" fill="url(#g)" opacity=".052" transform="matrix(28.57 -10.4 12.04 33.08 541.8 364.7)"/>
<circle r="1" fill="url(#k)" opacity=".019" transform="matrix(28.57 -10.4 12.04 33.08 561.3 376.4)"/>
<circle r="1" fill="url(#g)" opacity=".128" transform="matrix(28.57 -10.4 12.04 33.08 553.5 396)"/>
<circle r="1" fill="url(#g)" opacity=".016" transform="matrix(28.57 -10.4 12.04 33.08 561.3 415.5)"/>
<circle r="1" fill="url(#g)" opacity=".081" transform="matrix(28.57 -10.4 12.04 33.08 553.5 435)"/>
<circle r="1" fill="url(#g)" opacity=".047" transform="matrix(28.57 -10.4 12.04 33.08 541.8 454.6)"/>
<circle r="1" fill="url(#g)" opacity=".076" transform="matrix(28.57 -10.4 12.04 33.08 440.2 349.1)"/>
<circle r="1" fill="url(#g)" opacity=".115" transform="matrix(28.57 -10.4 12.04 33.08 430.4 366.7)"/>
<circle r="1" fill="url(#g)" opacity=".047" transform="matrix(28.57 -10.4 12.04 33.08 414.8 401.8)"/>
<circle r="1" fill="url(#g)" opacity=".078" transform="matrix(28.57 -10.4 12.04 33.08 430.4 427.2)"/>
<circle r="1" fill="url(#g)" opacity=".086" transform="matrix(28.57 -10.4 12.04 33.08 444.1 450.7)"/>
<circle r="1" fill="url(#k)" opacity=".022" transform="matrix(28.57 -10.4 12.04 33.08 469.5 460.4)"/>
<circle r="1" fill="url(#g)" opacity=".068" transform="matrix(28.57 -10.4 12.04 33.08 491 462.4)"/>
<circle r="1" fill="url(#g)" opacity=".062" transform="matrix(28.57 -10.4 12.04 33.08 498.8 446.8)"/>
<circle r="1" fill="url(#g)" opacity=".076" transform="matrix(28.57 -10.4 12.04 33.08 506.6 442.8)"/>
<circle r="1" fill="url(#g)" opacity=".083" transform="matrix(28.57 -10.4 12.04 33.08 518.3 454.6)"/>
<circle r="1" fill="url(#g)" opacity=".065" transform="matrix(28.57 -10.4 12.04 33.08 530 335.4)"/>
<circle r="1" fill="url(#g)" opacity=".093" transform="matrix(28.57 -10.4 12.04 33.08 548.1 343.6)"/>
<circle r="1" fill="url(#g)" opacity=".117" transform="matrix(28.57 -10.4 12.04 33.08 405 401.8)"/>
<circle r="1" fill="url(#g)" opacity=".138" transform="matrix(28.57 -10.4 12.04 33.08 412.8 427.2)"/>
<circle r="1" fill="url(#g)" opacity=".185" transform="matrix(28.57 -10.4 12.04 33.08 426.5 442.8)"/>
<circle r="1" fill="url(#g)" opacity=".147" transform="matrix(28.57 -10.4 12.04 33.08 430.4 462.4)"/>
<circle r="1" fill="url(#g)" opacity=".162" transform="matrix(28.57 -10.4 12.04 33.08 410.9 329.5)"/>
<circle r="1" fill="url(#g)" opacity=".128" transform="matrix(28.57 -10.4 12.04 33.08 430.4 322.7)"/>
<circle r="1" fill="url(#g)" opacity=".288" transform="matrix(28.57 -10.4 12.04 33.08 453.8 317.8)"/>
<circle r="1" fill="url(#g)" opacity=".129" transform="matrix(28.57 -10.4 12.04 33.08 414.8 349.1)"/>
<circle r="1" fill="url(#g)" opacity=".175" transform="matrix(28.57 -10.4 12.04 33.08 412.8 355.9)"/>
<circle r="1" fill="url(#g)" opacity=".125" transform="matrix(28.57 -10.4 12.04 33.08 621.6 351)"/>
<circle r="1" fill="url(#g)" opacity=".094" transform="matrix(28.57 -10.4 12.04 33.08 583.6 403.8)"/>
<circle r="1" fill="url(#g)" opacity=".177" transform="matrix(28.57 -10.4 12.04 33.08 625.5 421.3)"/>
<circle r="1" fill="url(#g)" opacity=".306" transform="matrix(28.57 -10.4 12.04 33.08 594.3 448.7)"/>
<circle r="1" fill="url(#g)" opacity=".061" transform="matrix(28.57 -10.4 12.04 33.08 570 312)"/>
<circle r="1" fill="url(#g)" opacity=".216" transform="matrix(28.57 -10.4 12.04 33.08 586.5 368.6)"/>
<circle r="1" fill="url(#g)" opacity=".141" transform="matrix(28.57 -10.4 12.04 33.08 616 333)"/>
<circle r="1" fill="url(#g)" opacity=".168" transform="matrix(28.57 -10.4 12.04 33.08 598 415.5)"/>
<circle r="1" fill="url(#g)" opacity=".096" transform="matrix(28.57 -10.4 12.04 33.08 623.6 398)"/>
<circle r="1" fill="url(#g)" opacity=".176" transform="matrix(28.57 -10.4 12.04 33.08 629.5 452.6)"/>
<circle r="1" fill="url(#g)" opacity=".074" transform="matrix(28.57 -10.4 12.04 33.08 666.6 346)"/>
<circle r="1" fill="url(#g)" opacity=".097" transform="matrix(28.57 -10.4 12.04 33.08 643 329.5)"/>
<circle r="1" fill="url(#g)" opacity=".13" transform="matrix(28.57 -10.4 12.04 33.08 692 366.6)"/>
<circle r="1" fill="url(#g)" opacity=".165" transform="matrix(28.57 -10.4 12.04 33.08 670.5 413.5)"/>
<circle r="1" fill="url(#g)" opacity=".064" transform="matrix(28.57 -10.4 12.04 33.08 705.6 374.5)"/>
<circle r="1" fill="url(#k)" opacity=".048" transform="matrix(28.57 -10.4 12.04 33.08 651 387)"/>
<circle r="1" fill="url(#g)" opacity=".065" transform="matrix(28.57 -10.4 12.04 33.08 702.7 322.7)"/>
<circle r="1" fill="url(#g)" opacity=".068" transform="matrix(28.57 -10.4 12.04 33.08 701.7 444.8)"/>
<circle r="1" fill="url(#g)" opacity=".096" transform="matrix(28.57 -10.4 12.04 33.08 672.4 463)"/>
<circle r="1" fill="url(#k)" opacity=".034" transform="matrix(28.57 -10.4 12.04 33.08 705.6 415.5)"/>
<circle r="1" fill="url(#k)" opacity=".101" transform="matrix(28.57 -10.4 12.04 33.08 686 392)"/>
<circle r="1" fill="url(#k)" opacity=".047" transform="matrix(28.57 -10.4 12.04 33.08 678 320)"/>
<circle r="1" fill="url(#k)" opacity=".023" transform="matrix(28.57 -10.4 12.04 33.08 657 460)"/>
<circle r="1" fill="url(#g)" opacity=".06" transform="matrix(28.57 -10.4 12.04 33.08 613 378)"/>
<circle r="1" fill="url(#g)" opacity=".007" transform="matrix(28.57 -10.4 12.04 33.08 599 375)"/>
<circle r="1" fill="url(#g)" opacity=".051" transform="matrix(28.57 -10.4 12.04 33.08 584.5 335.4)"/>
<circle r="1" fill="url(#g)" opacity=".101" transform="matrix(28.57 -10.4 12.04 33.08 660 365)"/>
<circle r="1" fill="url(#g)" opacity=".08" transform="matrix(28.57 -10.4 12.04 33.08 655 425)"/>
<circle r="1" fill="url(#g)" opacity=".124" transform="matrix(28.57 -10.4 12.04 33.08 647.1 358.8)"/>
<circle r="1" fill="url(#g)" opacity=".151" transform="matrix(28.57 -10.4 12.04 33.08 643.1 370.6)"/>
<circle r="1" fill="url(#g)" opacity=".112" transform="matrix(28.57 -10.4 12.04 33.08 629.5 374.5)"/>
<circle r="1" fill="url(#g)" opacity=".078" transform="matrix(28.57 -10.4 12.04 33.08 609.9 368.6)"/>
<circle r="1" fill="url(#g)" opacity=".118" transform="matrix(28.57 -10.4 12.04 33.08 600.2 360.8)"/>
<circle r="1" fill="url(#g)" opacity=".078" transform="matrix(28.57 -10.4 12.04 33.08 590.4 382.3)"/>
<circle r="1" fill="url(#g)" opacity=".064" transform="matrix(28.57 -10.4 12.04 33.08 596.3 388.1)"/>
<circle r="1" fill="url(#g)" opacity=".074" transform="matrix(28.57 -10.4 12.04 33.08 608 384.2)"/>
<circle r="1" fill="url(#g)" opacity=".095" transform="matrix(28.57 -10.4 12.04 33.08 623.6 388.1)"/>
<circle r="1" fill="url(#g)" opacity=".187" transform="matrix(28.57 -10.4 12.04 33.08 639.2 401.8)"/>
<circle r="1" fill="url(#g)" opacity=".076" transform="matrix(28.57 -10.4 12.04 33.08 645.1 419.4)"/>
<circle r="1" fill="url(#g)" opacity=".096" transform="matrix(28.57 -10.4 12.04 33.08 643.1 437)"/>
<circle r="1" fill="url(#g)" opacity=".118" transform="matrix(28.57 -10.4 12.04 33.08 639.2 450.7)"/>
<circle r="1" fill="url(#g)" opacity=".061" transform="matrix(28.57 -10.4 12.04 33.08 566.6 339.7)"/>
<circle r="1" fill="url(#g)" opacity=".076" transform="matrix(28.57 -10.4 12.04 33.08 578.3 327)"/>
<circle r="1" fill="url(#g)" opacity=".11" transform="matrix(28.57 -10.4 12.04 33.08 594.4 323.1)"/>
<circle r="1" fill="url(#g)" opacity=".041" transform="matrix(28.57 -10.4 12.04 33.08 604.5 324.8)"/>
<circle r="1" fill="url(#g)" opacity=".033" transform="matrix(28.57 -10.4 12.04 33.08 602.1 335.4)"/>
<circle r="1" fill="url(#g)" opacity=".111" transform="matrix(28.57 -10.4 12.04 33.08 595.2 345.1)"/>
<circle r="1" fill="url(#g)" opacity=".114" transform="matrix(28.57 -10.4 12.04 33.08 582.6 347.1)"/>
<circle r="1" fill="url(#g)" opacity=".047" transform="matrix(28.57 -10.4 12.04 33.08 570.9 358.8)"/>
<circle r="1" fill="url(#g)" opacity=".149" transform="matrix(28.57 -10.4 12.04 33.08 568.9 374.5)"/>
<circle r="1" fill="url(#g)" opacity=".063" transform="matrix(28.57 -10.4 12.04 33.08 574.8 392.1)"/>
<circle r="1" fill="url(#g)" opacity=".109" transform="matrix(28.57 -10.4 12.04 33.08 568.9 407.7)"/>
<circle r="1" fill="url(#g)" opacity=".051" transform="matrix(28.57 -10.4 12.04 33.08 576.7 423.3)"/>
<circle r="1" fill="url(#g)" opacity=".146" transform="matrix(28.57 -10.4 12.04 33.08 565 431.1)"/>
<circle r="1" fill="url(#g)" opacity=".088" transform="matrix(28.57 -10.4 12.04 33.08 609.9 321.7)"/>
<circle r="1" fill="url(#g)" opacity=".046" transform="matrix(28.57 -10.4 12.04 33.08 660.7 346.1)"/>
<circle r="1" fill="url(#g)" opacity=".073" transform="matrix(28.57 -10.4 12.04 33.08 666.6 339.3)"/>
<circle r="1" fill="url(#g)" opacity=".095" transform="matrix(28.57 -10.4 12.04 33.08 672.4 346.1)"/>
<circle r="1" fill="url(#g)" opacity=".066" transform="matrix(28.57 -10.4 12.04 33.08 666.6 353)"/>
<circle r="1" fill="url(#g)" opacity=".024" transform="matrix(28.57 -10.4 12.04 33.08 633.4 310)"/>
<circle r="1" fill="url(#g)" opacity=".119" transform="matrix(28.57 -10.4 12.04 33.08 658.8 313.9)"/>
<circle r="1" fill="url(#g)" opacity=".028" transform="matrix(28.57 -10.4 12.04 33.08 670.5 329.5)"/>
<circle r="1" fill="url(#g)" opacity=".061" transform="matrix(28.57 -10.4 12.04 33.08 686.1 347.1)"/>
<circle r="1" fill="url(#g)" opacity=".074" transform="matrix(28.57 -10.4 12.04 33.08 705.7 360.8)"/>
<circle r="1" fill="url(#g)" opacity=".074" transform="matrix(28.57 -10.4 12.04 33.08 717.4 376.4)"/>
<circle r="1" fill="url(#g)" opacity=".054" transform="matrix(28.57 -10.4 12.04 33.08 715.4 388.1)"/>
<circle r="1" fill="url(#g)" opacity=".06" transform="matrix(28.57 -10.4 12.04 33.08 709.6 390.1)"/>
<circle r="1" fill="url(#g)" opacity=".009" transform="matrix(28.57 -10.4 12.04 33.08 697.8 378.4)"/>
<circle r="1" fill="url(#g)" opacity=".058" transform="matrix(28.57 -10.4 12.04 33.08 684.2 380.3)"/>
<circle r="1" fill="url(#g)" opacity=".051" transform="matrix(28.57 -10.4 12.04 33.08 674.4 390.1)"/>
<circle r="1" fill="url(#g)" opacity=".021" transform="matrix(28.57 -10.4 12.04 33.08 676.4 399.9)"/>
<circle r="1" fill="url(#g)" opacity=".066" transform="matrix(28.57 -10.4 12.04 33.08 684.2 413.5)"/>
<circle r="1" fill="url(#g)" opacity=".033" transform="matrix(28.57 -10.4 12.04 33.08 678.3 429.2)"/>
<circle r="1" fill="url(#g)" opacity=".061" transform="matrix(28.57 -10.4 12.04 33.08 668.5 437)"/>
<circle r="1" fill="url(#g)" opacity=".048" transform="matrix(28.57 -10.4 12.04 33.08 656.8 440.9)"/>
<circle r="1" fill="url(#k)" opacity=".004" transform="matrix(28.57 -10.4 12.04 33.08 649 454.6)"/>
<circle r="1" fill="url(#g)" opacity=".012" transform="matrix(28.57 -10.4 12.04 33.08 643.1 387.2)"/>
<circle r="1" fill="url(#g)" opacity=".031" transform="matrix(28.57 -10.4 12.04 33.08 658.8 387.2)"/>
<circle r="1" fill="url(#g)" opacity=".017" transform="matrix(28.57 -10.4 12.04 33.08 651 395)"/>
<circle r="1" fill="url(#g)" opacity=".054" transform="matrix(28.57 -10.4 12.04 33.08 694.9 322.7)"/>
<circle r="1" fill="url(#g)" opacity=".074" transform="matrix(28.57 -10.4 12.04 33.08 702.7 310)"/>
<circle r="1" fill="url(#g)" opacity=".053" transform="matrix(28.57 -10.4 12.04 33.08 710.5 322.7)"/>
<circle r="1" fill="url(#g)" opacity=".084" transform="matrix(28.57 -10.4 12.04 33.08 702.7 336.4)"/>
<circle r="1" fill="url(#g)" opacity=".018" transform="matrix(28.57 -10.4 12.04 33.08 693.9 444.8)"/>
<circle r="1" fill="url(#g)" opacity=".056" transform="matrix(28.57 -10.4 12.04 33.08 700.9 438.5)"/>
<circle r="1" fill="url(#g)" opacity=".075" transform="matrix(28.57 -10.4 12.04 33.08 711.5 442.8)"/>
<circle r="1" fill="url(#g)" opacity=".026" transform="matrix(28.57 -10.4 12.04 33.08 705.7 464.3)"/>
<circle r="1" fill="url(#g)" opacity=".188" transform="matrix(28.57 -10.4 12.04 33.08 611.9 347.1)"/>
<circle r="1" fill="url(#g)" opacity=".088" transform="matrix(28.57 -10.4 12.04 33.08 621.7 343.2)"/>
<circle r="1" fill="url(#g)" opacity=".162" transform="matrix(28.57 -10.4 12.04 33.08 631.4 356.9)"/>
<circle r="1" fill="url(#g)" opacity=".132" transform="matrix(28.57 -10.4 12.04 33.08 623.6 359.8)"/>
<circle r="1" fill="url(#g)" opacity=".105" transform="matrix(28.57 -10.4 12.04 33.08 577.7 403.8)"/>
<circle r="1" fill="url(#g)" opacity=".084" transform="matrix(28.57 -10.4 12.04 33.08 583.6 397.9)"/>
<circle r="1" fill="url(#g)" opacity=".103" transform="matrix(28.57 -10.4 12.04 33.08 589.4 403.8)"/>
<circle r="1" fill="url(#g)" opacity=".1" transform="matrix(28.57 -10.4 12.04 33.08 583.6 409.6)"/>
<circle r="1" fill="url(#g)" opacity=".175" transform="matrix(28.57 -10.4 12.04 33.08 615.8 419.4)"/>
<circle r="1" fill="url(#g)" opacity=".138" transform="matrix(28.57 -10.4 12.04 33.08 623.6 409.6)"/>
<circle r="1" fill="url(#g)" opacity=".154" transform="matrix(28.57 -10.4 12.04 33.08 636.3 423.3)"/>
<circle r="1" fill="url(#g)" opacity=".179" transform="matrix(28.57 -10.4 12.04 33.08 627.5 433.1)"/>
<circle r="1" fill="url(#g)" opacity=".213" transform="matrix(28.57 -10.4 12.04 33.08 577.7 446.8)"/>
<circle r="1" fill="url(#g)" opacity=".198" transform="matrix(28.57 -10.4 12.04 33.08 592.4 436)"/>
<circle r="1" fill="url(#g)" opacity=".304" transform="matrix(28.57 -10.4 12.04 33.08 611.9 450.7)"/>
<circle r="1" fill="url(#g)" opacity=".216" transform="matrix(28.57 -10.4 12.04 33.08 594.3 462.4)"/>
<circle r="1" fill="url(#g)" opacity=".08" transform="matrix(28.57 -10.4 12.04 33.08 305.5 491.5)"/>
<circle r="1" fill="url(#g)" opacity=".138" transform="matrix(28.57 -10.4 12.04 33.08 379.8 499.3)"/>
<circle r="1" fill="url(#k)" opacity=".022" transform="matrix(28.57 -10.4 12.04 33.08 401 534.5)"/>
<circle r="1" fill="url(#g)" opacity=".235" transform="matrix(28.57 -10.4 12.04 33.08 370 534.5)"/>
<circle r="1" fill="url(#g)" opacity=".063" transform="matrix(28.57 -10.4 12.04 33.08 329 518.8)"/>
<circle r="1" fill="url(#g)" opacity=".117" transform="matrix(28.57 -10.4 12.04 33.08 305.5 541.3)"/>
<circle r="1" fill="url(#g)" opacity=".128" transform="matrix(28.57 -10.4 12.04 33.08 305.5 563.8)"/>
<circle r="1" fill="url(#g)" opacity=".09" transform="matrix(28.57 -10.4 12.04 33.08 359.4 611.7)"/>
<circle r="1" fill="url(#g)" opacity=".134" transform="matrix(28.57 -10.4 12.04 33.08 333 571.5)"/>
<circle r="1" fill="url(#g)" opacity=".019" transform="matrix(28.57 -10.4 12.04 33.08 350.5 548)"/>
<circle r="1" fill="url(#g)" opacity=".04" transform="matrix(7.17 -15.44 36.29 16.85 260.6 558)"/>
<circle r="1" fill="url(#g)" opacity=".076" transform="matrix(6.97 17.65 -35.68 14.1 256.7 591)"/>
<circle r="1" fill="url(#g)" opacity=".07" transform="matrix(9.81 12.82 -31.17 23.85 270.4 610.6)"/>
<circle r="1" fill="url(#g)" opacity=".057" transform="matrix(28.57 -10.4 12.04 33.08 254.8 491.5)"/>
<circle r="1" fill="url(#g)" opacity=".069" transform="matrix(28.57 -10.4 12.04 33.08 293.8 520.8)"/>
<circle r="1" fill="url(#g)" opacity=".043" transform="matrix(28.57 -10.4 12.04 33.08 381.7 618.4)"/>
<circle r="1" fill="url(#k)" opacity=".081" transform="matrix(28.57 -10.4 12.04 33.08 323 552)"/>
<circle r="1" fill="url(#k)" opacity=".085" transform="matrix(28.57 -10.4 12.04 33.08 372 571.5)"/>
<circle r="1" fill="url(#k)" opacity=".061" transform="matrix(28.57 -10.4 12.04 33.08 346.6 511)"/>
<circle r="1" fill="url(#g)" opacity=".093" transform="matrix(28.57 -10.4 12.04 33.08 342.7 476)"/>
<circle r="1" fill="url(#g)" opacity=".078" transform="matrix(28.57 -10.4 12.04 33.08 393.4 563.8)"/>
<circle r="1" fill="url(#g)" opacity=".067" transform="matrix(28.57 -10.4 12.04 33.08 385 520)"/>
<circle r="1" fill="url(#g)" opacity=".149" transform="matrix(28.57 -10.4 12.04 33.08 392 482)"/>
<circle r="1" fill="url(#g)" opacity=".109" transform="matrix(28.57 -10.4 12.04 33.08 276.3 470)"/>
<circle r="1" fill="url(#g)" opacity=".072" transform="matrix(28.57 -10.4 12.04 33.08 289.9 475.9)"/>
<circle r="1" fill="url(#g)" opacity=".057" transform="matrix(28.57 -10.4 12.04 33.08 297.7 491.5)"/>
<circle r="1" fill="url(#g)" opacity=".04" transform="matrix(28.57 -10.4 12.04 33.08 305.6 501.3)"/>
<circle r="1" fill="url(#g)" opacity=".027" transform="matrix(28.57 -10.4 12.04 33.08 313.4 504.2)"/>
<circle r="1" fill="url(#g)" opacity=".023" transform="matrix(28.57 -10.4 12.04 33.08 315.3 495.4)"/>
<circle r="1" fill="url(#g)" opacity=".026" transform="matrix(28.57 -10.4 12.04 33.08 311.4 485.6)"/>
<circle r="1" fill="url(#g)" opacity=".035" transform="matrix(28.57 -10.4 12.04 33.08 336.8 482.7)"/>
<circle r="1" fill="url(#g)" opacity=".048" transform="matrix(28.57 -10.4 12.04 33.08 350.5 495.4)"/>
<circle r="1" fill="url(#g)" opacity=".032" transform="matrix(28.57 -10.4 12.04 33.08 362.2 520.8)"/>
<circle r="1" fill="url(#g)" opacity=".012" transform="matrix(28.57 -10.4 12.04 33.08 357.3 530.6)"/>
<circle r="1" fill="url(#g)" opacity=".01" transform="matrix(28.57 -10.4 12.04 33.08 362.2 544.2)"/>
<circle r="1" fill="url(#g)" opacity=".056" transform="matrix(28.57 -10.4 12.04 33.08 377.8 552.1)"/>
<circle r="1" fill="url(#g)" opacity=".051" transform="matrix(28.57 -10.4 12.04 33.08 389.6 559.9)"/>
<circle r="1" fill="url(#g)" opacity=".005" transform="matrix(28.57 -10.4 12.04 33.08 393.5 573.5)"/>
<circle r="1" fill="url(#g)" opacity=".063" transform="matrix(28.57 -10.4 12.04 33.08 381.8 581.4)"/>
<circle r="1" fill="url(#g)" opacity=".1" transform="matrix(28.57 -10.4 12.04 33.08 381.8 587.2)"/>
<circle r="1" fill="url(#g)" opacity=".045" transform="matrix(28.57 -10.4 12.04 33.08 393.5 589.2)"/>
<circle r="1" fill="url(#g)" opacity=".027" transform="matrix(28.57 -10.4 12.04 33.08 385.7 530.6)"/>
<circle r="1" fill="url(#g)" opacity=".056" transform="matrix(28.57 -10.4 12.04 33.08 389.6 542.3)"/>
<circle r="1" fill="url(#g)" opacity=".006" transform="matrix(28.57 -10.4 12.04 33.08 401.3 548.1)"/>
<circle r="1" fill="url(#g)" opacity=".058" transform="matrix(28.57 -10.4 12.04 33.08 319.2 518.8)"/>
<circle r="1" fill="url(#g)" opacity=".053" transform="matrix(28.57 -10.4 12.04 33.08 329 507.1)"/>
<circle r="1" fill="url(#g)" opacity=".057" transform="matrix(28.57 -10.4 12.04 33.08 338.8 518.8)"/>
<circle r="1" fill="url(#g)" opacity=".06" transform="matrix(28.57 -10.4 12.04 33.08 329 530.6)"/>
<circle r="1" fill="url(#g)" opacity=".035" transform="matrix(28.57 -10.4 12.04 33.08 299.7 552.1)"/>
<circle r="1" fill="url(#g)" opacity=".066" transform="matrix(28.57 -10.4 12.04 33.08 311.4 552.1)"/>
<circle r="1" fill="url(#g)" opacity=".084" transform="matrix(28.57 -10.4 12.04 33.08 348.5 611.6)"/>
<circle r="1" fill="url(#g)" opacity=".047" transform="matrix(28.57 -10.4 12.04 33.08 360.3 602.8)"/>
<circle r="1" fill="url(#g)" opacity=".067" transform="matrix(28.57 -10.4 12.04 33.08 372 611.6)"/>
<circle r="1" fill="url(#g)" opacity=".045" transform="matrix(28.57 -10.4 12.04 33.08 360.3 620.4)"/>
<circle r="1" fill="url(#g)" opacity=".183" transform="matrix(28.57 -10.4 12.04 33.08 362.2 493.4)"/>
<circle r="1" fill="url(#g)" opacity=".067" transform="matrix(28.57 -10.4 12.04 33.08 372 487.6)"/>
<circle r="1" fill="url(#g)" opacity=".08" transform="matrix(28.57 -10.4 12.04 33.08 377.8 479.8)"/>
<circle r="1" fill="url(#g)" opacity=".076" transform="matrix(28.57 -10.4 12.04 33.08 390.5 489.5)"/>
<circle r="1" fill="url(#g)" opacity=".096" transform="matrix(28.57 -10.4 12.04 33.08 387.6 507.1)"/>
<circle r="1" fill="url(#g)" opacity=".086" transform="matrix(28.57 -10.4 12.04 33.08 381.8 513)"/>
<circle r="1" fill="url(#g)" opacity=".073" transform="matrix(28.57 -10.4 12.04 33.08 373.9 507.1)"/>
<circle r="1" fill="url(#g)" opacity=".182" transform="matrix(28.57 -10.4 12.04 33.08 532 508)"/>
<circle r="1" fill="url(#g)" opacity=".194" transform="matrix(28.57 -10.4 12.04 33.08 549.5 503)"/>
<circle r="1" fill="url(#g)" opacity=".15" transform="matrix(28.57 -10.4 12.04 33.08 557.9 487.6)"/>
<circle r="1" fill="url(#g)" opacity=".241" transform="matrix(28.57 -10.4 12.04 33.08 424.5 515)"/>
<circle r="1" fill="url(#g)" opacity=".221" transform="matrix(28.57 -10.4 12.04 33.08 448 530.5)"/>
<circle r="1" fill="url(#g)" opacity=".223" transform="matrix(28.57 -10.4 12.04 33.08 479 491.5)"/>
<circle r="1" fill="url(#g)" opacity=".228" transform="matrix(28.57 -10.4 12.04 33.08 510.5 526.6)"/>
<circle r="1" fill="url(#g)" opacity=".1" transform="matrix(28.57 -10.4 12.04 33.08 514.4 544)"/>
<circle r="1" fill="url(#k)" opacity=".016" transform="matrix(28.57 -10.4 12.04 33.08 455.1 504.1)"/>
<circle r="1" fill="url(#k)" opacity=".04" transform="matrix(28.57 -10.4 12.04 33.08 498.8 476)"/>
<circle r="1" fill="url(#k)" opacity=".035" transform="matrix(28.57 -10.4 12.04 33.08 530 476)"/>
<circle r="1" fill="url(#g)" opacity=".116" transform="matrix(28.57 -10.4 12.04 33.08 413.8 564.7)"/>
<circle r="1" fill="url(#g)" opacity=".102" transform="matrix(28.57 -10.4 12.04 33.08 561 597)"/>
<circle r="1" fill="url(#g)" opacity=".067" transform="matrix(28.57 -10.4 12.04 33.08 457.7 587)"/>
<circle r="1" fill="url(#g)" opacity=".037" transform="matrix(28.57 -10.4 12.04 33.08 424.5 595)"/>
<circle r="1" fill="url(#g)" opacity=".024" transform="matrix(28.57 -10.4 12.04 33.08 498.8 597)"/>
<circle r="1" fill="url(#g)" opacity=".059" transform="matrix(28.57 -10.4 12.04 33.08 522 606.7)"/>
<circle r="1" fill="url(#g)" opacity=".082" transform="matrix(28.57 -10.4 12.04 33.08 487 624)"/>
<circle r="1" fill="url(#k)" opacity=".081" transform="matrix(28.57 -10.4 12.04 33.08 452 570)"/>
<circle r="1" fill="url(#k)" opacity=".02" transform="matrix(28.57 -10.4 12.04 33.08 532 618.4)"/>
<circle r="1" fill="url(#g)" opacity=".125" transform="matrix(28.57 -10.4 12.04 33.08 553.4 548)"/>
<circle r="1" fill="url(#g)" opacity=".161" transform="matrix(28.57 -10.4 12.04 33.08 439 490)"/>
<circle r="1" fill="url(#g)" opacity=".211" transform="matrix(28.57 -10.4 12.04 33.08 470 520)"/>
<circle r="1" fill="url(#g)" opacity=".216" transform="matrix(28.57 -10.4 12.04 33.08 516.4 512)"/>
<circle r="1" fill="url(#g)" opacity=".2" transform="matrix(28.57 -10.4 12.04 33.08 556.7 478.4)"/>
<circle r="1" fill="url(#g)" opacity=".158" transform="matrix(28.57 -10.4 12.04 33.08 533.9 517.9)"/>
<circle r="1" fill="url(#g)" opacity=".166" transform="matrix(28.57 -10.4 12.04 33.08 549.6 514.9)"/>
<circle r="1" fill="url(#g)" opacity=".134" transform="matrix(28.57 -10.4 12.04 33.08 526.1 502.2)"/>
<circle r="1" fill="url(#g)" opacity=".133" transform="matrix(28.57 -10.4 12.04 33.08 545.7 499.3)"/>
<circle r="1" fill="url(#g)" opacity=".151" transform="matrix(28.57 -10.4 12.04 33.08 410.9 499.3)"/>
<circle r="1" fill="url(#g)" opacity=".129" transform="matrix(28.57 -10.4 12.04 33.08 416.7 524.7)"/>
<circle r="1" fill="url(#g)" opacity=".165" transform="matrix(28.57 -10.4 12.04 33.08 432.4 536.4)"/>
<circle r="1" fill="url(#g)" opacity=".14" transform="matrix(28.57 -10.4 12.04 33.08 453.8 545.2)"/>
<circle r="1" fill="url(#g)" opacity=".108" transform="matrix(28.57 -10.4 12.04 33.08 463.6 544.2)"/>
<circle r="1" fill="url(#g)" opacity=".073" transform="matrix(28.57 -10.4 12.04 33.08 469.5 534.5)"/>
<circle r="1" fill="url(#g)" opacity=".103" transform="matrix(28.57 -10.4 12.04 33.08 487.1 529.6)"/>
<circle r="1" fill="url(#g)" opacity=".102" transform="matrix(28.57 -10.4 12.04 33.08 496.8 536.4)"/>
<circle r="1" fill="url(#g)" opacity=".118" transform="matrix(28.57 -10.4 12.04 33.08 491 550.1)"/>
<circle r="1" fill="url(#g)" opacity=".119" transform="matrix(28.57 -10.4 12.04 33.08 496.8 557.9)"/>
<circle r="1" fill="url(#g)" opacity=".122" transform="matrix(28.57 -10.4 12.04 33.08 508.5 554)"/>
<circle r="1" fill="url(#g)" opacity=".058" transform="matrix(28.57 -10.4 12.04 33.08 520.3 552.1)"/>
<circle r="1" fill="url(#g)" opacity=".119" transform="matrix(28.57 -10.4 12.04 33.08 530 556)"/>
<circle r="1" fill="url(#g)" opacity=".141" transform="matrix(28.57 -10.4 12.04 33.08 533.9 548.1)"/>
<circle r="1" fill="url(#g)" opacity=".073" transform="matrix(28.57 -10.4 12.04 33.08 533.9 530.6)"/>
<circle r="1" fill="url(#g)" opacity=".011" transform="matrix(28.57 -10.4 12.04 33.08 541.8 524.7)"/>
<circle r="1" fill="url(#g)" opacity=".108" transform="matrix(28.57 -10.4 12.04 33.08 553.5 530.6)"/>
<circle r="1" fill="url(#g)" opacity=".088" transform="matrix(28.57 -10.4 12.04 33.08 565 548.1)"/>
<circle r="1" fill="url(#g)" opacity=".172" transform="matrix(28.57 -10.4 12.04 33.08 473.4 470)"/>
<circle r="1" fill="url(#g)" opacity=".168" transform="matrix(28.57 -10.4 12.04 33.08 487.1 479.8)"/>
<circle r="1" fill="url(#g)" opacity=".112" transform="matrix(28.57 -10.4 12.04 33.08 496.8 495.4)"/>
<circle r="1" fill="url(#g)" opacity=".076" transform="matrix(28.57 -10.4 12.04 33.08 504.6 503.2)"/>
<circle r="1" fill="url(#g)" opacity=".055" transform="matrix(28.57 -10.4 12.04 33.08 514.4 495.4)"/>
<circle r="1" fill="url(#g)" opacity=".159" transform="matrix(28.57 -10.4 12.04 33.08 522.2 489.5)"/>
<circle r="1" fill="url(#k)" opacity=".024" transform="matrix(28.57 -10.4 12.04 33.08 541.8 489.5)"/>
<circle r="1" fill="url(#k)" opacity=".032" transform="matrix(28.57 -10.4 12.04 33.08 547.6 481.7)"/>
<circle r="1" fill="url(#g)" opacity=".203" transform="matrix(28.57 -10.4 12.04 33.08 541.8 470)"/>
<circle r="1" fill="url(#g)" opacity=".099" transform="matrix(28.57 -10.4 12.04 33.08 439.2 499.3)"/>
<circle r="1" fill="url(#g)" opacity=".094" transform="matrix(28.57 -10.4 12.04 33.08 454.8 484.7)"/>
<circle r="1" fill="url(#g)" opacity=".127" transform="matrix(28.57 -10.4 12.04 33.08 470.4 504.2)"/>
<circle r="1" fill="url(#g)" opacity=".085" transform="matrix(28.57 -10.4 12.04 33.08 457.7 523.7)"/>
<circle r="1" fill="url(#g)" opacity=".097" transform="matrix(28.57 -10.4 12.04 33.08 405 564.7)"/>
<circle r="1" fill="url(#g)" opacity=".106" transform="matrix(28.57 -10.4 12.04 33.08 413.8 554)"/>
<circle r="1" fill="url(#g)" opacity=".098" transform="matrix(28.57 -10.4 12.04 33.08 422.6 564.7)"/>
<circle r="1" fill="url(#g)" opacity=".107" transform="matrix(28.57 -10.4 12.04 33.08 413.8 575.5)"/>
<circle r="1" fill="url(#g)" opacity=".083" transform="matrix(28.57 -10.4 12.04 33.08 405 592.1)"/>
<circle r="1" fill="url(#g)" opacity=".034" transform="matrix(28.57 -10.4 12.04 33.08 416.7 587.2)"/>
<circle r="1" fill="url(#k)" opacity=".003" transform="matrix(28.57 -10.4 12.04 33.08 428.4 571.6)"/>
<circle r="1" fill="url(#g)" opacity=".082" transform="matrix(28.57 -10.4 12.04 33.08 438.2 556)"/>
<circle r="1" fill="url(#g)" opacity=".041" transform="matrix(28.57 -10.4 12.04 33.08 469.5 559.9)"/>
<circle r="1" fill="url(#g)" opacity=".039" transform="matrix(28.57 -10.4 12.04 33.08 483.1 569.6)"/>
<circle r="1" fill="url(#g)" opacity=".077" transform="matrix(28.57 -10.4 12.04 33.08 489 581.4)"/>
<circle r="1" fill="url(#g)" opacity=".038" transform="matrix(28.57 -10.4 12.04 33.08 502.7 579.4)"/>
<circle r="1" fill="url(#g)" opacity=".042" transform="matrix(28.57 -10.4 12.04 33.08 518.3 576.5)"/>
<circle r="1" fill="url(#g)" opacity=".039" transform="matrix(28.57 -10.4 12.04 33.08 530 581.4)"/>
<circle r="1" fill="url(#g)" opacity=".079" transform="matrix(28.57 -10.4 12.04 33.08 539.8 587.2)"/>
<circle r="1" fill="url(#g)" opacity=".058" transform="matrix(28.57 -10.4 12.04 33.08 549.6 579.4)"/>
<circle r="1" fill="url(#g)" opacity=".045" transform="matrix(28.57 -10.4 12.04 33.08 553.5 563.8)"/>
<circle r="1" fill="url(#k)" opacity=".012" transform="matrix(28.57 -10.4 12.04 33.08 563.1 559.9)"/>
<circle r="1" fill="url(#k)" opacity=".014" transform="matrix(28.57 -10.4 12.04 33.08 455.4 498.9)"/>
<circle r="1" fill="url(#g)" opacity=".273" transform="matrix(28.57 -10.4 12.04 33.08 588.4 479.8)"/>
<circle r="1" fill="url(#g)" opacity=".084" transform="matrix(28.57 -10.4 12.04 33.08 568 538)"/>
<circle r="1" fill="url(#g)" opacity=".143" transform="matrix(28.57 -10.4 12.04 33.08 618.7 546)"/>
<circle r="1" fill="url(#g)" opacity=".172" transform="matrix(28.57 -10.4 12.04 33.08 623.6 495.4)"/>
<circle r="1" fill="url(#g)" opacity=".146" transform="matrix(28.57 -10.4 12.04 33.08 649 505)"/>
<circle r="1" fill="url(#g)" opacity=".114" transform="matrix(28.57 -10.4 12.04 33.08 682 493.4)"/>
<circle r="1" fill="url(#g)" opacity=".012" transform="matrix(28.57 -10.4 12.04 33.08 633 548)"/>
<circle r="1" fill="url(#k)" opacity=".012" transform="matrix(28.57 -10.4 12.04 33.08 594 550)"/>
<circle r="1" fill="url(#k)" opacity=".091" transform="matrix(28.57 -10.4 12.04 33.08 656.8 481.7)"/>
<circle r="1" fill="url(#g)" opacity=".071" transform="matrix(28.57 -10.4 12.04 33.08 675.4 534.5)"/>
<circle r="1" fill="url(#g)" opacity=".152" transform="matrix(28.57 -10.4 12.04 33.08 717 474)"/>
<circle r="1" fill="url(#g)" opacity=".116" transform="matrix(28.57 -10.4 12.04 33.08 568 600)"/>
<circle r="1" fill="url(#g)" opacity=".073" transform="matrix(28.57 -10.4 12.04 33.08 592 587)"/>
<circle r="1" fill="url(#g)" opacity=".064" transform="matrix(4.57 17.41 -36.67 9.62 662.7 585)"/>
<circle r="1" fill="url(#g)" opacity=".062" transform="matrix(17.83 -5.44 9.34 30.61 700 579)"/>
<circle r="1" fill="url(#g)" opacity=".078" transform="matrix(7.02 -17.69 25.26 10.03 637 603)"/>
<circle r="1" fill="url(#g)" opacity=".038" transform="matrix(12.98 -4.94 12.05 31.64 721 534)"/>
<circle r="1" fill="url(#g)" opacity=".068" transform="matrix(4.2 -16.63 40.86 10.32 655 607)"/>
<circle r="1" fill="url(#k)" opacity=".031" transform="matrix(11.39 -9.58 16.92 20.1 690 554)"/>
<circle r="1" fill="url(#k)" opacity=".025" transform="matrix(28.57 -10.4 12.04 33.08 614 587)"/>
<circle r="1" fill="url(#g)" opacity=".109" transform="matrix(28.57 -10.4 12.04 33.08 612 525)"/>
<circle r="1" fill="url(#g)" opacity=".109" transform="matrix(28.57 -10.4 12.04 33.08 580 520)"/>
<circle r="1" fill="url(#g)" opacity=".164" transform="matrix(28.57 -10.4 12.04 33.08 641.2 470)"/>
<circle r="1" fill="url(#g)" opacity=".161" transform="matrix(28.57 -10.4 12.04 33.08 631.4 477.8)"/>
<circle r="1" fill="url(#g)" opacity=".155" transform="matrix(28.57 -10.4 12.04 33.08 613.8 473.9)"/>
<circle r="1" fill="url(#g)" opacity=".126" transform="matrix(28.57 -10.4 12.04 33.08 604.1 483.7)"/>
<circle r="1" fill="url(#g)" opacity=".155" transform="matrix(28.57 -10.4 12.04 33.08 604.1 505.2)"/>
<circle r="1" fill="url(#g)" opacity=".123" transform="matrix(28.57 -10.4 12.04 33.08 594.3 509.1)"/>
<circle r="1" fill="url(#g)" opacity=".081" transform="matrix(28.57 -10.4 12.04 33.08 584.5 505.2)"/>
<circle r="1" fill="url(#g)" opacity=".028" transform="matrix(28.57 -10.4 12.04 33.08 576.7 487.6)"/>
<circle r="1" fill="url(#g)" opacity=".015" transform="matrix(28.57 -10.4 12.04 33.08 570.9 489.5)"/>
<circle r="1" fill="url(#g)" opacity=".028" transform="matrix(28.57 -10.4 12.04 33.08 568.9 499.3)"/>
<circle r="1" fill="url(#g)" opacity=".09" transform="matrix(28.57 -10.4 12.04 33.08 576.7 511)"/>
<circle r="1" fill="url(#g)" opacity=".071" transform="matrix(28.57 -10.4 12.04 33.08 565 524.7)"/>
<circle r="1" fill="url(#g)" opacity=".082" transform="matrix(28.57 -10.4 12.04 33.08 574.8 538.4)"/>
<circle r="1" fill="url(#g)" opacity=".128" transform="matrix(28.57 -10.4 12.04 33.08 574.8 548.1)"/>
<circle r="1" fill="url(#g)" opacity=".113" transform="matrix(28.57 -10.4 12.04 33.08 609.9 546.2)"/>
<circle r="1" fill="url(#g)" opacity=".096" transform="matrix(28.57 -10.4 12.04 33.08 618.7 534.5)"/>
<circle r="1" fill="url(#g)" opacity=".062" transform="matrix(28.57 -10.4 12.04 33.08 627.5 548.1)"/>
<circle r="1" fill="url(#g)" opacity=".135" transform="matrix(28.57 -10.4 12.04 33.08 618.7 558.9)"/>
<circle r="1" fill="url(#g)" opacity=".047" transform="matrix(28.57 -10.4 12.04 33.08 580.6 567.7)"/>
<circle r="1" fill="url(#g)" opacity=".051" transform="matrix(28.57 -10.4 12.04 33.08 588.4 556)"/>
<circle r="1" fill="url(#g)" opacity=".021" transform="matrix(28.57 -10.4 12.04 33.08 588.4 534.5)"/>
<circle r="1" fill="url(#g)" opacity=".029" transform="matrix(28.57 -10.4 12.04 33.08 594.3 528.6)"/>
<circle r="1" fill="url(#g)" opacity=".011" transform="matrix(28.57 -10.4 12.04 33.08 600.2 534.5)"/>
<circle r="1" fill="url(#g)" opacity=".015" transform="matrix(28.57 -10.4 12.04 33.08 600.2 552.1)"/>
<circle r="1" fill="url(#g)" opacity=".067" transform="matrix(28.57 -10.4 12.04 33.08 623.6 570.6)"/>
<circle r="1" fill="url(#g)" opacity=".063" transform="matrix(28.57 -10.4 12.04 33.08 637.3 559.9)"/>
<circle r="1" fill="url(#g)" opacity=".064" transform="matrix(28.57 -10.4 12.04 33.08 643.1 546.2)"/>
<circle r="1" fill="url(#g)" opacity=".008" transform="matrix(28.57 -10.4 12.04 33.08 629.5 526.7)"/>
<circle r="1" fill="url(#g)" opacity=".03" transform="matrix(28.57 -10.4 12.04 33.08 639.2 514.9)"/>
<circle r="1" fill="url(#g)" opacity=".038" transform="matrix(28.57 -10.4 12.04 33.08 654.9 514)"/>
<circle r="1" fill="url(#g)" opacity=".043" transform="matrix(28.57 -10.4 12.04 33.08 668.5 503.2)"/>
<circle r="1" fill="url(#g)" opacity=".037" transform="matrix(28.57 -10.4 12.04 33.08 682.2 509.1)"/>
<circle r="1" fill="url(#g)" opacity=".079" transform="matrix(28.57 -10.4 12.04 33.08 692 514.9)"/>
<circle r="1" fill="url(#g)" opacity=".1" transform="matrix(28.57 -10.4 12.04 33.08 699.8 503.2)"/>
<circle r="1" fill="url(#g)" opacity=".042" transform="matrix(28.57 -10.4 12.04 33.08 690 489.5)"/>
<circle r="1" fill="url(#g)" opacity=".021" transform="matrix(28.57 -10.4 12.04 33.08 680.3 479.8)"/>
<circle r="1" fill="url(#g)" opacity=".022" transform="matrix(28.57 -10.4 12.04 33.08 678.3 470)"/>
<circle r="1" fill="url(#g)" opacity=".01" transform="matrix(28.57 -10.4 12.04 33.08 647.1 470)"/>
<circle r="1" fill="url(#g)" opacity=".049" transform="matrix(28.57 -10.4 12.04 33.08 647.1 487.6)"/>
<circle r="1" fill="url(#g)" opacity=".05" transform="matrix(28.57 -10.4 12.04 33.08 658.8 495.4)"/>
<circle r="1" fill="url(#g)" opacity=".078" transform="matrix(28.57 -10.4 12.04 33.08 666.6 489.5)"/>
<circle r="1" fill="url(#g)" opacity=".081" transform="matrix(28.57 -10.4 12.04 33.08 666.6 470)"/>
<circle r="1" fill="url(#g)" opacity=".067" transform="matrix(28.57 -10.4 12.04 33.08 665.6 534.5)"/>
<circle r="1" fill="url(#g)" opacity=".024" transform="matrix(28.57 -10.4 12.04 33.08 675.4 525.7)"/>
<circle r="1" fill="url(#g)" opacity=".068" transform="matrix(28.57 -10.4 12.04 33.08 685.1 534.5)"/>
<circle r="1" fill="url(#g)" opacity=".058" transform="matrix(28.57 -10.4 12.04 33.08 675.4 543.3)"/>
<circle r="1" fill="url(#g)" opacity=".052" transform="matrix(13.08 -7.91 21.05 34.8 314.6 102.4)"/>
<circle r="1" fill="url(#g)" opacity=".066" transform="matrix(12.6 -12.89 27.98 27.35 361.5 73)"/>
<circle r="1" fill="url(#g)" opacity=".054" transform="matrix(12.64 -14.29 28.18 24.93 361.5 108)"/>
<circle r="1" fill="url(#g)" opacity=".081" transform="matrix(10.54 15.9 -35.76 23.7 335 158)"/>
<circle r="1" fill="url(#g)" opacity=".072" transform="matrix(15.03 8.41 -18.01 32.19 228 195)"/>
<circle r="1" fill="url(#g)" opacity=".041" transform="matrix(14.6 -5.58 11.86 31.02 196 202)"/>
<circle r="1" fill="url(#g)" opacity=".049" transform="matrix(6.66 -14.05 31.03 14.71 267.7 161)"/>
<circle r="1" fill="url(#g)" opacity=".103" transform="matrix(28.57 -10.4 12.04 33.08 367 55)"/>
<circle r="1" fill="url(#g)" opacity=".069" transform="matrix(16.95 -7.54 16.07 36.14 253 260.6)"/>
<circle r="1" fill="url(#g)" opacity=".066" transform="matrix(7.92 -15.01 29.51 15.57 182.7 269)"/>
<circle r="1" fill="url(#g)" opacity=".086" transform="matrix(28.57 -10.4 12.04 33.08 346 193)"/>
<circle r="1" fill="url(#g)" opacity=".111" transform="matrix(28.57 -10.4 12.04 33.08 372 54.7)"/>
<circle r="1" fill="url(#g)" opacity=".206" transform="matrix(28.57 -10.4 12.04 33.08 484.5 84)"/>
<circle r="1" fill="url(#g)" opacity=".201" transform="matrix(28.57 -10.4 12.04 33.08 378.7 132.5)"/>
<circle r="1" fill="url(#g)" opacity=".203" transform="matrix(28.57 -10.4 12.04 33.08 516.8 137)"/>
<circle r="1" fill="url(#g)" opacity=".048" transform="matrix(8.84 -14.5 32.24 19.65 394 72)"/>
<circle r="1" fill="url(#g)" opacity=".033" transform="matrix(3.82 -16.86 31.99 7.24 464.5 69.4)"/>
<circle r="1" fill="url(#g)" opacity=".08" transform="matrix(14.38 8.84 -22.06 35.88 505.6 72)"/>
<circle r="1" fill="url(#g)" opacity=".054" transform="matrix(17.04 -1.39 3.11 37.98 543.8 101.7)"/>
<circle r="1" fill="url(#g)" opacity=".03" transform="matrix(15.25 6.42 -11.72 27.84 358.8 107.6)"/>
<circle r="1" fill="url(#g)" opacity=".021" transform="matrix(14.75 -1.3 2.9 32.86 314.7 107.6)"/>
<circle r="1" fill="url(#g)" opacity=".086" transform="matrix(17.77 -2.09 4.51 38.33 529 49)"/>
<circle r="1" fill="url(#g)" opacity=".085" transform="matrix(1.67 18.17 -30.12 2.76 573 57.6)"/>
<circle r="1" fill="url(#g)" opacity=".047" transform="matrix(8.09 -11.68 35.02 24.25 350 148.7)"/>
<circle r="1" fill="url(#g)" opacity=".048" transform="matrix(28.57 -10.4 12.04 33.08 423 151.6)"/>
<circle r="1" fill="url(#g)" opacity=".058" transform="matrix(9.67 9.87 -30.44 29.83 455.7 137)"/>
<circle r="1" fill="url(#g)" opacity=".192" transform="matrix(28.57 -10.4 12.04 33.08 687.3 145.4)"/>
<circle r="1" fill="url(#g)" opacity=".096" transform="matrix(13.97 -.21 .46 30.52 707 125.7)"/>
<circle r="1" fill="url(#g)" opacity=".096" transform="matrix(8.98 -10.62 29.37 24.84 650 138.4)"/>
<circle r="1" fill="url(#g)" opacity=".072" transform="matrix(15.19 -9.28 15.08 24.69 627.6 87.6)"/>
<circle r="1" fill="url(#g)" opacity=".072" transform="matrix(10.56 13.34 -24.38 19.3 589.5 59)"/>
<circle r="1" fill="url(#g)" opacity=".046" transform="matrix(11.24 12.09 -21.7 20.19 745 195.5)"/>
<circle r="1" fill="url(#g)" opacity=".086" transform="matrix(5.76 -13.27 24.73 10.73 799 252.7)"/>
<circle r="1" fill="url(#g)" opacity=".2" transform="matrix(28.57 -10.4 12.04 33.08 823 281)"/>
<circle r="1" fill="url(#g)" opacity=".188" transform="matrix(28.57 -10.4 12.04 33.08 756 330.4)"/>
<circle r="1" fill="url(#g)" opacity=".224" transform="matrix(28.57 -10.4 12.04 33.08 756 386)"/>
<circle r="1" fill="url(#g)" opacity=".201" transform="matrix(28.57 -10.4 12.04 33.08 798 295.4)"/>
<circle r="1" fill="url(#g)" opacity=".18" transform="matrix(28.57 -10.4 12.04 33.08 812 312)"/>
<circle r="1" fill="url(#g)" opacity=".226" transform="matrix(28.57 -10.4 12.04 33.08 823.5 327)"/>
<circle r="1" fill="url(#g)" opacity=".044" transform="matrix(7.61 14.5 -31.37 16.46 766 492)"/>
<circle r="1" fill="url(#g)" opacity=".082" transform="matrix(12.72 8.74 -15.64 22.76 737.7 349.4)"/>
<circle r="1" fill="url(#g)" opacity=".078" transform="matrix(9.24 -15.9 24.86 14.45 775.8 403.5)"/>
<circle r="1" fill="url(#g)" opacity=".086" transform="matrix(4.02 -17.07 31.76 7.49 744 448)"/>
<circle r="1" fill="url(#g)" opacity=".072" transform="matrix(15.84 8.33 -14.27 27.11 817 384)"/>
<circle r="1" fill="url(#g)" opacity=".072" transform="matrix(12.01 8.26 -16.7 24.27 801 448)"/>
<circle r="1" fill="url(#g)" opacity=".084" transform="matrix(28.57 -10.4 12.04 33.08 712 462)"/>
<circle r="1" fill="url(#g)" opacity=".045" transform="matrix(16.01 -2.34 4.22 28.8 742 591)"/>
<circle r="1" fill="url(#g)" opacity=".06" transform="matrix(8.72 13.86 -24.74 15.57 765.6 588)"/>
<circle r="1" fill="url(#g)" opacity=".058" transform="matrix(8.45 13.4 -31.46 19.84 777 553)"/>
<circle r="1" fill="url(#g)" opacity=".042" transform="matrix(.34 -14.09 37.31 .9 718.6 535)"/>
<circle r="1" fill="url(#g)" opacity=".033" transform="matrix(10.69 12.43 -29.07 25.01 762.7 503)"/>
<circle r="1" fill="url(#g)" opacity=".049" transform="matrix(14.96 5.66 -11.82 31.25 668.7 632)"/>
<circle r="1" fill="url(#g)" opacity=".068" transform="matrix(11.61 10.04 -28.16 32.55 689 641)"/>
<circle r="1" fill="url(#g)" opacity=".072" transform="matrix(11.97 -13.66 22.32 19.56 639 650)"/>
<circle r="1" fill="url(#g)" opacity=".058" transform="matrix(2.15 13.95 -32.09 4.94 727.5 641)"/>
<circle r="1" fill="url(#g)" opacity=".054" transform="matrix(6.98 13.11 -37.5 19.96 592 691)"/>
<circle r="1" fill="url(#g)" opacity=".072" transform="matrix(7.93 -13.06 26.52 16.1 630.5 692.4)"/>
<circle r="1" fill="url(#g)" opacity=".086" transform="matrix(9.7 13.45 -22.68 16.35 566 729)"/>
<circle r="1" fill="url(#g)" opacity=".055" transform="matrix(15.84 9.51 -19.57 32.6 733 550)"/>
<circle r="1" fill="url(#g)" opacity=".234" transform="matrix(28.57 -10.4 12.04 33.08 482 648.5)"/>
<circle r="1" fill="url(#g)" opacity=".203" transform="matrix(28.57 -10.4 12.04 33.08 559 645)"/>
<circle r="1" fill="url(#g)" opacity=".197" transform="matrix(28.57 -10.4 12.04 33.08 555 665)"/>
<circle r="1" fill="url(#g)" opacity=".191" transform="matrix(28.57 -10.4 12.04 33.08 537 663)"/>
<circle r="1" fill="url(#g)" opacity=".039" transform="matrix(13.22 -11.94 17.52 19.39 314.7 647)"/>
<circle r="1" fill="url(#g)" opacity=".04" transform="matrix(11.7 -10.49 27.63 30.8 329 679)"/>
<circle r="1" fill="url(#g)" opacity=".101" transform="matrix(15.43 9.49 -16.45 26.75 370.5 714.6)"/>
<circle r="1" fill="url(#g)" opacity=".058" transform="matrix(16.77 .91 -1.47 27.18 402.8 673.4)"/>
<circle r="1" fill="url(#g)" opacity=".058" transform="matrix(3.06 14.88 -29.19 6 444 682)"/>
<circle r="1" fill="url(#g)" opacity=".045" transform="matrix(12.76 -7.33 19.96 34.74 435 650)"/>
<circle r="1" fill="url(#g)" opacity=".054" transform="matrix(13.25 5.21 -12.03 30.61 499.8 702.8)"/>
<circle r="1" fill="url(#g)" opacity=".072" transform="matrix(11.69 -13.55 23.05 19.88 444 723)"/>
<circle r="1" fill="url(#g)" opacity=".072" transform="matrix(18.19 -4.53 7.8 31.34 420 729)"/>
<circle r="1" fill="url(#g)" opacity=".074" transform="matrix(9.5 15.48 -23.39 14.35 558.5 726)"/>
<circle r="1" fill="url(#g)" opacity=".048" transform="matrix(28.57 -10.4 12.04 33.08 505.6 614.7)"/>
<circle r="1" fill="url(#g)" opacity=".005" transform="matrix(3.37 -17.57 32.31 6.21 370 629)"/>
<circle r="1" fill="url(#g)" opacity=".105" transform="matrix(28.57 -10.4 12.04 33.08 223.6 352)"/>
<circle r="1" fill="url(#g)" opacity=".132" transform="matrix(28.57 -10.4 12.04 33.08 222 340)"/>
<circle r="1" fill="url(#g)" opacity=".131" transform="matrix(28.57 -10.4 12.04 33.08 225 364)"/>
<circle r="1" fill="url(#g)" opacity=".156" transform="matrix(28.57 -10.4 12.04 33.08 175.8 422)"/>
<circle r="1" fill="url(#g)" opacity=".188" transform="matrix(28.57 -10.4 12.04 33.08 148.8 455.3)"/>
<circle r="1" fill="url(#g)" opacity=".117" transform="matrix(28.57 -10.4 12.04 33.08 200 501.7)"/>
<circle r="1" fill="url(#g)" opacity=".13" transform="matrix(28.57 -10.4 12.04 33.08 190 504)"/>
<circle r="1" fill="url(#g)" opacity=".126" transform="matrix(28.57 -10.4 12.04 33.08 210 499)"/>
<circle r="1" fill="url(#g)" opacity=".054" transform="matrix(.65 16.2 -39.44 1.59 184 369.7)"/>
<circle r="1" fill="url(#g)" opacity=".071" transform="matrix(14.24 1.41 -3.22 32.51 198.6 317)"/>
<circle r="1" fill="url(#g)" opacity=".067" transform="matrix(13.67 7.93 -17.8 30.7 181 402)"/>
<circle r="1" fill="url(#g)" opacity=".019" transform="matrix(15.73 -6.09 14.41 37.18 187 434)"/>
<circle r="1" fill="url(#g)" opacity=".078" transform="matrix(11.6 13.92 -29.53 24.61 178 446)"/>
<circle r="1" fill="url(#g)" opacity=".029" transform="matrix(10.49 15.22 -26.75 18.45 160.5 457.7)"/>
<circle r="1" fill="url(#g)" opacity=".083" transform="matrix(14.4 .54 -1.58 42.17 216 469.4)"/>
<circle r="1" fill="url(#g)" opacity=".088" transform="matrix(28.57 -10.4 12.04 33.08 236.8 422.5)"/>
<circle r="1" fill="url(#g)" opacity=".045" transform="matrix(12.85 7.14 -18.46 33.22 198.6 278.8)"/>
<circle r="1" fill="url(#g)" opacity=".005" transform="matrix(10.56 -10.14 26.33 27.41 219 487)"/>
<circle r="1" fill="url(#g)" opacity=".054" transform="matrix(3.36 18.22 -42.47 7.82 222.5 551.4)"/>
<circle r="1" fill="url(#g)" opacity=".028" transform="matrix(16.28 8.9 -16.73 30.61 263.8 559)"/>
<circle r="1" fill="url(#g)" opacity=".056" transform="matrix(3.36 16.2 -33.13 6.88 267 600.6)"/>
<circle r="1" fill="url(#g)" opacity=".057" transform="matrix(13.74 -7.6 13.26 23.95 187.6 540)"/>
<circle r="1" fill="url(#g)" opacity=".087" transform="matrix(.8 -15.23 28.37 1.48 283 654.6)"/>
<circle r="1" fill="url(#g)" opacity=".062" transform="matrix(16.17 6.34 -11.74 29.96 171.7 515)"/>
<circle r="1" fill="url(#g)" opacity=".034" transform="matrix(3.74 -16.55 28.11 6.35 222.5 489.5)"/>
<circle r="1" fill="url(#g)" opacity=".144" transform="matrix(28.57 -10.4 12.04 33.08 553.5 292.6)"/>
<circle r="1" fill="url(#g)" opacity=".083" transform="matrix(28.57 -10.4 12.04 33.08 574 297)"/>
<circle r="1" fill="url(#g)" opacity=".199" transform="matrix(28.57 -10.4 12.04 33.08 584.3 307.3)"/>
<circle r="1" fill="url(#g)" opacity=".048" transform="matrix(28.57 -10.4 12.04 33.08 574 316.1)"/>
<circle r="1" fill="url(#g)" opacity=".183" transform="matrix(28.57 -10.4 12.04 33.08 562.3 329.3)"/>
<circle r="1" fill="url(#g)" opacity=".144" transform="matrix(28.57 -10.4 12.04 33.08 552 333.7)"/>
<circle r="1" fill="url(#g)" opacity=".142" transform="matrix(28.57 -10.4 12.04 33.08 537.3 327.9)"/>
<circle r="1" fill="url(#g)" opacity=".172" transform="matrix(28.57 -10.4 12.04 33.08 531.4 314.6)"/>
<circle r="1" fill="url(#g)" opacity=".054" transform="matrix(28.57 -10.4 12.04 33.08 532.2 301.4)"/>
<circle r="1" fill="url(#g)" opacity=".065" transform="matrix(28.57 -10.4 12.04 33.08 524.1 294.1)"/>
<circle r="1" fill="url(#g)" opacity=".142" transform="matrix(28.57 -10.4 12.04 33.08 506.4 291.1)"/>
<circle r="1" fill="url(#g)" opacity=".117" transform="matrix(28.57 -10.4 12.04 33.08 546.1 313.2)"/>
<circle r="1" fill="url(#g)" opacity=".21" transform="matrix(28.57 -10.4 12.04 33.08 562.3 308.8)"/>
<circle r="1" fill="url(#g)" opacity=".126" transform="matrix(28.57 -10.4 12.04 33.08 568.1 304.4)"/>
<circle r="1" fill="url(#g)" opacity=".22" transform="matrix(28.57 -10.4 12.04 33.08 528.5 286.7)"/>
<circle r="1" fill="url(#g)" opacity=".167" transform="matrix(28.57 -10.4 12.04 33.08 541.7 305.8)"/>
<circle r="1" fill="url(#g)" opacity=".132" transform="matrix(28.57 -10.4 12.04 33.08 553.5 320.5)"/>
<circle r="1" fill="url(#g)" opacity=".089" transform="matrix(28.57 -10.4 12.04 33.08 543.2 269.1)"/>
<circle r="1" fill="url(#g)" opacity=".05" transform="matrix(28.57 -10.4 12.04 33.08 559.3 280.9)"/>
<circle r="1" fill="url(#g)" opacity=".08" transform="matrix(28.57 -10.4 12.04 33.08 579.9 286.7)"/>
<circle r="1" fill="url(#g)" opacity=".052" transform="matrix(28.57 -10.4 12.04 33.08 488.8 288.2)"/>
<circle r="1" fill="url(#g)" opacity=".06" transform="matrix(28.57 -10.4 12.04 33.08 512.3 302.9)"/>
<circle r="1" fill="url(#g)" opacity=".036" transform="matrix(28.57 -10.4 12.04 33.08 522.6 308.8)"/>
<circle r="1" fill="url(#g)" opacity=".081" transform="matrix(28.57 -10.4 12.04 33.08 527 326.4)"/>
<circle r="1" fill="url(#g)" opacity=".068" transform="matrix(28.57 -10.4 12.04 33.08 534.4 339.6)"/>
<circle r="1" fill="url(#g)" opacity=".065" transform="matrix(28.57 -10.4 12.04 33.08 575.5 352.8)"/>
<circle r="1" fill="url(#g)" opacity=".099" transform="matrix(28.57 -10.4 12.04 33.08 569.6 364.6)"/>
<circle r="1" fill="url(#g)" opacity=".041" transform="matrix(28.57 -10.4 12.04 33.08 487.3 264.7)"/>
<circle r="1" fill="url(#g)" opacity=".099" transform="matrix(28.57 -10.4 12.04 33.08 506.4 257.3)"/>
<circle r="1" fill="url(#g)" opacity=".069" transform="matrix(28.57 -10.4 12.04 33.08 574 250)"/>
<circle r="1" fill="url(#g)" opacity=".056" transform="matrix(28.57 -10.4 12.04 33.08 588.7 250)"/>
<circle r="1" fill="url(#g)" opacity=".061" transform="matrix(28.57 -10.4 12.04 33.08 480 322)"/>
<circle r="1" fill="url(#k)" opacity=".012" transform="matrix(28.57 -10.4 12.04 33.08 518.2 320.5)"/>
<circle r="1" fill="url(#g)" opacity=".046" transform="matrix(28.57 -10.4 12.04 33.08 521.1 344)"/>
<circle r="1" fill="url(#g)" opacity=".062" transform="matrix(28.57 -10.4 12.04 33.08 535.8 361.6)"/>
<circle r="1" fill="url(#g)" opacity=".008" transform="matrix(28.57 -10.4 12.04 33.08 500 345)"/>
<circle r="1" fill="url(#k)" opacity=".027" transform="matrix(28.57 -10.4 12.04 33.08 490 340)"/>
<circle r="1" fill="url(#g)" opacity=".133" transform="matrix(28.57 -10.4 12.04 33.08 490 228)"/>
<circle r="1" fill="url(#g)" opacity=".067" transform="matrix(28.57 -10.4 12.04 33.08 488 218)"/>
<circle r="1" fill="url(#k)" opacity=".013" transform="matrix(28.57 -10.4 12.04 33.08 410 245)"/>
<circle r="1" fill="url(#g)" opacity=".208" transform="matrix(28.57 -10.4 12.04 33.08 366 337)"/>
<circle r="1" fill="url(#g)" opacity=".061" transform="matrix(28.57 -10.4 12.04 33.08 270 385)"/>
<circle r="1" fill="url(#g)" opacity=".072" transform="matrix(28.57 -10.4 12.04 33.08 275 395)"/>
<circle r="1" fill="url(#k)" opacity=".053" transform="matrix(28.57 -10.4 12.04 33.08 280 350)"/>
<circle r="1" fill="url(#k)" opacity=".033" transform="matrix(28.57 -10.4 12.04 33.08 290 330)"/>
<circle r="1" fill="url(#g)" opacity=".011" transform="matrix(28.57 -10.4 12.04 33.08 390 242)"/>
<circle r="1" fill="url(#g)" opacity=".144" transform="matrix(28.57 -10.4 12.04 33.08 382 287)"/>
<circle r="1" fill="url(#g)" opacity=".128" transform="matrix(28.57 -10.4 12.04 33.08 337 290)"/>
<circle r="1" fill="url(#g)" opacity=".098" transform="matrix(28.57 -10.4 12.04 33.08 343 303)"/>
<circle r="1" fill="url(#g)" opacity=".086" transform="matrix(28.57 -10.4 12.04 33.08 335 305)"/>
<circle r="1" fill="url(#g)" opacity=".118" transform="matrix(28.57 -10.4 12.04 33.08 666 390)"/>
<circle r="1" fill="url(#g)" opacity=".16" transform="matrix(28.57 -10.4 12.04 33.08 558 492)"/>
<circle r="1" fill="url(#g)" opacity=".147" transform="matrix(28.57 -10.4 12.04 33.08 455 478)"/>
<circle r="1" fill="url(#g)" opacity=".134" transform="matrix(28.57 -10.4 12.04 33.08 428 500)"/>
<circle r="1" fill="url(#g)" opacity=".163" transform="matrix(28.57 -10.4 12.04 33.08 489 515)"/>
<circle r="1" fill="url(#g)" opacity=".114" transform="matrix(28.57 -10.4 12.04 33.08 488 505)"/>
<circle r="1" fill="url(#g)" opacity=".007" transform="matrix(28.57 -10.4 12.04 33.08 500 362)"/>
<circle r="1" fill="url(#k)" opacity=".013" transform="matrix(28.57 -10.4 12.04 33.08 512 418)"/>
<circle r="1" fill="url(#g)" opacity=".028" transform="matrix(14.18 2.5 -6.67 37.82 318 107)"/>
<circle r="1" fill="url(#g)" opacity=".086" transform="matrix(12.47 7.2 -14.4 24.94 338 74)"/>
<circle r="1" fill="url(#g)" opacity=".017" transform="matrix(12.26 -10.28 22.63 26.96 388 72)"/>
<circle r="1" fill="url(#g)" opacity=".086" transform="matrix(9.18 13.11 -41.94 29.37 348 164)"/>
<circle r="1" fill="url(#g)" opacity=".038" transform="matrix(16 0 0 28.8 278 171)"/>
<circle r="1" fill="url(#g)" opacity=".038" transform="matrix(12.36 -3.31 8.28 30.91 194 198)"/>
<circle r="1" fill="url(#g)" opacity=".062" transform="matrix(12.03 -4.38 9.85 27.06 204 225)"/>
<circle r="1" fill="url(#g)" opacity=".026" transform="matrix(13.86 8 -12.8 22.17 261 228)"/>
<circle r="1" fill="url(#g)" opacity=".03" transform="matrix(12.26 -10.28 18.51 22.06 180 272)"/>
<circle r="1" fill="url(#g)" opacity=".045" transform="matrix(16 0 0 22.4 308 218)"/>
<circle r="1" fill="url(#g)" opacity=".061" transform="matrix(12.03 4.38 -9.85 27.06 355 87)"/>
<circle r="1" fill="url(#g)" opacity=".029" transform="matrix(4.14 15.45 -52.55 14.08 675 138)"/>
<circle r="1" fill="url(#g)" opacity=".056" transform="matrix(.56 15.99 -31.98 1.12 672 199)"/>
<circle r="1" fill="url(#g)" opacity=".049" transform="matrix(.56 15.99 -31.98 1.12 742 196)"/>
<circle r="1" fill="url(#g)" opacity=".072" transform="matrix(10.28 -12.26 29.42 24.68 610 175)"/>
<circle r="1" fill="url(#g)" opacity=".054" transform="matrix(14.4 0 0 28.8 705 250)"/>
<circle r="1" fill="url(#g)" opacity=".043" transform="matrix(12.8 0 0 25.6 777 227)"/>
<circle r="1" fill="url(#g)" opacity=".054" transform="matrix(14.35 1.26 -3.63 41.44 592 691)"/>
<circle r="1" fill="url(#g)" opacity=".054" transform="matrix(14.4 0 0 38.4 499.8 702.8)"/>
<circle r="1" fill="url(#g)" opacity=".047" transform="matrix(1.39 15.94 -47.82 4.18 435 650)"/>
<circle r="1" fill="url(#g)" opacity=".064" transform="matrix(22.06 -3.89 8.89 50.42 267 590)"/>
<circle r="1" fill="url(#g)" opacity=".032" transform="matrix(16 0 0 38.4 262 560)"/>
<circle r="1" fill="url(#g)" opacity=".094" transform="matrix(3.33 18.91 -40.97 7.22 750 590)"/>
<circle r="1" fill="url(#g)" opacity=".05" transform="matrix(5.47 15.04 -27.06 9.85 701 582)"/>
<circle r="1" fill="url(#g)" opacity=".057" transform="matrix(8 13.86 -24.94 14.4 660 585)"/>
<circle r="1" fill="url(#g)" opacity=".051" transform="matrix(15.76 2.78 -6.11 34.67 766 492)"/>
<circle r="1" fill="url(#g)" opacity=".037" transform="matrix(16 0 0 32 762.7 503)"/>
<circle r="1" fill="url(#g)" opacity=".054" transform="matrix(8 -13.86 27.71 16 668.7 632)"/>
<circle r="1" fill="url(#g)" opacity=".038" transform="matrix(14.4 0 0 25.6 330.5 680)"/>
<circle r="1" fill="url(#g)" opacity=".039" transform="matrix(16 0 0 22.4 314.6 645)"/>
<circle r="1" fill="url(#g)" opacity=".053" transform="matrix(8 13.86 -30.48 17.6 184 369.7)"/>
<circle r="1" fill="url(#g)" opacity=".017" transform="matrix(15.04 5.47 -13.13 36.08 187 440)"/>
<circle r="1" fill="url(#g)" opacity=".054" transform="matrix(8 -13.86 27.71 16 222.5 551.4)"/>
<circle r="1" fill="url(#k)" opacity=".013" transform="matrix(13.86 8 -14.4 24.94 160.5 457.7)"/>
<circle r="1" fill="url(#g)" opacity=".054" transform="matrix(14.18 -2.5 6.11 34.67 543.8 101.7)"/>
<circle r="1" fill="url(#g)" opacity=".063" transform="matrix(9.18 -13.11 34.08 23.86 464.5 69.4)"/>
<circle r="1" fill="url(#g)" opacity=".055" transform="matrix(11.31 -11.31 29.42 29.42 394 72)"/>
<circle r="1" fill="url(#g)" opacity=".058" transform="matrix(28.57 -10.4 12.04 33.08 465 188.5)"/>
<circle r="1" fill="url(#g)" opacity=".077" transform="matrix(28.57 -10.4 12.04 33.08 509 188.5)"/>
<circle r="1" fill="url(#g)" opacity=".068" transform="matrix(28.57 -10.4 12.04 33.08 415.5 198.1)"/>
<circle r="1" fill="url(#g)" opacity=".091" transform="matrix(28.57 -10.4 12.04 33.08 503.5 198.1)"/>
<circle r="1" fill="url(#g)" opacity=".063" transform="matrix(28.57 -10.4 12.04 33.08 558.5 198.1)"/>
<circle r="1" fill="url(#g)" opacity=".056" transform="matrix(28.57 -10.4 12.04 33.08 569.5 198.1)"/>
<circle r="1" fill="url(#g)" opacity=".058" transform="matrix(28.57 -10.4 12.04 33.08 388 207.6)"/>
<circle r="1" fill="url(#g)" opacity=".063" transform="matrix(28.57 -10.4 12.04 33.08 509 207.6)"/>
<circle r="1" fill="url(#g)" opacity=".043" transform="matrix(28.57 -10.4 12.04 33.08 520 207.6)"/>
<circle r="1" fill="url(#g)" opacity=".004" transform="matrix(28.57 -10.4 12.04 33.08 564 207.6)"/>
<circle r="1" fill="url(#g)" opacity=".032" transform="matrix(28.57 -10.4 12.04 33.08 575 207.6)"/>
<circle r="1" fill="url(#k)" opacity=".007" transform="matrix(28.57 -10.4 12.04 33.08 382.5 217.1)"/>
<circle r="1" fill="url(#g)" opacity=".078" transform="matrix(28.57 -10.4 12.04 33.08 470.5 217.1)"/>
<circle r="1" fill="url(#g)" opacity=".05" transform="matrix(28.57 -10.4 12.04 33.08 503.5 217.1)"/>
<circle r="1" fill="url(#g)" opacity=".039" transform="matrix(28.57 -10.4 12.04 33.08 569.5 217.1)"/>
<circle r="1" fill="url(#g)" opacity=".055" transform="matrix(28.57 -10.4 12.04 33.08 602.5 217.1)"/>
<circle r="1" fill="url(#g)" opacity=".054" transform="matrix(28.57 -10.4 12.04 33.08 366 226.6)"/>
<circle r="1" fill="url(#g)" opacity=".047" transform="matrix(28.57 -10.4 12.04 33.08 377 226.6)"/>
<circle r="1" fill="url(#g)" opacity=".055" transform="matrix(28.57 -10.4 12.04 33.08 388 226.6)"/>
<circle r="1" fill="url(#g)" opacity=".057" transform="matrix(28.57 -10.4 12.04 33.08 476 226.6)"/>
<circle r="1" fill="url(#g)" opacity=".066" transform="matrix(28.57 -10.4 12.04 33.08 564 226.6)"/>
<circle r="1" fill="url(#g)" opacity=".046" transform="matrix(28.57 -10.4 12.04 33.08 608 226.6)"/>
<circle r="1" fill="url(#g)" opacity=".03" transform="matrix(28.57 -10.4 12.04 33.08 613.5 236.2)"/>
<circle r="1" fill="url(#g)" opacity=".048" transform="matrix(28.57 -10.4 12.04 33.08 509 245.7)"/>
<circle r="1" fill="url(#g)" opacity=".04" transform="matrix(28.57 -10.4 12.04 33.08 608 245.7)"/>
<circle r="1" fill="url(#g)" opacity=".028" transform="matrix(28.57 -10.4 12.04 33.08 619 245.7)"/>
<circle r="1" fill="url(#g)" opacity=".017" transform="matrix(28.57 -10.4 12.04 33.08 630 245.7)"/>
<circle r="1" fill="url(#g)" opacity=".07" transform="matrix(28.57 -10.4 12.04 33.08 404.5 255.2)"/>
<circle r="1" fill="url(#g)" opacity=".045" transform="matrix(28.57 -10.4 12.04 33.08 624.5 255.2)"/>
<circle r="1" fill="url(#g)" opacity=".032" transform="matrix(28.57 -10.4 12.04 33.08 377 264.7)"/>
<circle r="1" fill="url(#g)" opacity=".117" transform="matrix(28.57 -10.4 12.04 33.08 421 264.7)"/>
<circle r="1" fill="url(#g)" opacity=".065" transform="matrix(28.57 -10.4 12.04 33.08 432 264.7)"/>
<circle r="1" fill="url(#g)" opacity=".079" transform="matrix(28.57 -10.4 12.04 33.08 652 264.7)"/>
<circle r="1" fill="url(#g)" opacity=".082" transform="matrix(28.57 -10.4 12.04 33.08 349.5 274.3)"/>
<circle r="1" fill="url(#g)" opacity=".062" transform="matrix(28.57 -10.4 12.04 33.08 602.5 274.3)"/>
<circle r="1" fill="url(#g)" opacity=".071" transform="matrix(28.57 -10.4 12.04 33.08 624.5 274.3)"/>
<circle r="1" fill="url(#g)" opacity=".103" transform="matrix(28.57 -10.4 12.04 33.08 311 283.8)"/>
<circle r="1" fill="url(#g)" opacity=".073" transform="matrix(28.57 -10.4 12.04 33.08 421 283.8)"/>
<circle r="1" fill="url(#g)" opacity=".131" transform="matrix(28.57 -10.4 12.04 33.08 443 283.8)"/>
<circle r="1" fill="url(#g)" opacity=".073" transform="matrix(28.57 -10.4 12.04 33.08 663 283.8)"/>
<circle r="1" fill="url(#g)" opacity=".074" transform="matrix(28.57 -10.4 12.04 33.08 360.5 293.3)"/>
<circle r="1" fill="url(#g)" opacity=".082" transform="matrix(28.57 -10.4 12.04 33.08 371.5 293.3)"/>
<circle r="1" fill="url(#g)" opacity=".058" transform="matrix(28.57 -10.4 12.04 33.08 393.5 293.3)"/>
<circle r="1" fill="url(#g)" opacity=".079" transform="matrix(28.57 -10.4 12.04 33.08 404.5 293.3)"/>
<circle r="1" fill="url(#g)" opacity=".072" transform="matrix(28.57 -10.4 12.04 33.08 415.5 293.3)"/>
<circle r="1" fill="url(#g)" opacity=".027" transform="matrix(28.57 -10.4 12.04 33.08 426.5 293.3)"/>
<circle r="1" fill="url(#g)" opacity=".062" transform="matrix(28.57 -10.4 12.04 33.08 437.5 293.3)"/>
<circle r="1" fill="url(#g)" opacity=".046" transform="matrix(28.57 -10.4 12.04 33.08 668.5 293.3)"/>
<circle r="1" fill="url(#g)" opacity=".038" transform="matrix(28.57 -10.4 12.04 33.08 322 302.8)"/>
<circle r="1" fill="url(#g)" opacity=".079" transform="matrix(28.57 -10.4 12.04 33.08 355 302.8)"/>
<circle r="1" fill="url(#g)" opacity=".082" transform="matrix(28.57 -10.4 12.04 33.08 366 302.8)"/>
<circle r="1" fill="url(#g)" opacity=".037" transform="matrix(28.57 -10.4 12.04 33.08 399 302.8)"/>
<circle r="1" fill="url(#g)" opacity=".065" transform="matrix(28.57 -10.4 12.04 33.08 410 302.8)"/>
<circle r="1" fill="url(#g)" opacity=".065" transform="matrix(28.57 -10.4 12.04 33.08 421 302.8)"/>
<circle r="1" fill="url(#g)" opacity=".08" transform="matrix(28.57 -10.4 12.04 33.08 432 302.8)"/>
<circle r="1" fill="url(#g)" opacity=".028" transform="matrix(28.57 -10.4 12.04 33.08 443 302.8)"/>
<circle r="1" fill="url(#g)" opacity=".101" transform="matrix(28.57 -10.4 12.04 33.08 597 302.8)"/>
<circle r="1" fill="url(#g)" opacity=".018" transform="matrix(28.57 -10.4 12.04 33.08 663 302.8)"/>
<circle r="1" fill="url(#g)" opacity=".043" transform="matrix(28.57 -10.4 12.04 33.08 674 302.8)"/>
<circle r="1" fill="url(#g)" opacity=".06" transform="matrix(28.57 -10.4 12.04 33.08 294.5 312.4)"/>
<circle r="1" fill="url(#g)" opacity=".025" transform="matrix(28.57 -10.4 12.04 33.08 305.5 312.4)"/>
<circle r="1" fill="url(#g)" opacity=".071" transform="matrix(28.57 -10.4 12.04 33.08 316.5 312.4)"/>
<circle r="1" fill="url(#g)" opacity=".086" transform="matrix(28.57 -10.4 12.04 33.08 327.5 312.4)"/>
<circle r="1" fill="url(#g)" opacity=".073" transform="matrix(28.57 -10.4 12.04 33.08 404.5 312.4)"/>
<circle r="1" fill="url(#g)" opacity=".055" transform="matrix(28.57 -10.4 12.04 33.08 602.5 312.4)"/>
<circle r="1" fill="url(#k)" opacity=".015" transform="matrix(28.57 -10.4 12.04 33.08 322 321.9)"/>
<circle r="1" fill="url(#g)" opacity=".116" transform="matrix(28.57 -10.4 12.04 33.08 333 321.9)"/>
<circle r="1" fill="url(#g)" opacity=".07" transform="matrix(28.57 -10.4 12.04 33.08 399 321.9)"/>
<circle r="1" fill="url(#g)" opacity=".113" transform="matrix(28.57 -10.4 12.04 33.08 630 321.9)"/>
<circle r="1" fill="url(#k)" opacity=".011" transform="matrix(28.57 -10.4 12.04 33.08 327.5 331.4)"/>
<circle r="1" fill="url(#g)" opacity=".138" transform="matrix(28.57 -10.4 12.04 33.08 338.5 331.4)"/>
<circle r="1" fill="url(#g)" opacity=".018" transform="matrix(28.57 -10.4 12.04 33.08 382.5 331.4)"/>
<circle r="1" fill="url(#g)" opacity=".15" transform="matrix(28.57 -10.4 12.04 33.08 393.5 331.4)"/>
<circle r="1" fill="url(#g)" opacity=".065" transform="matrix(28.57 -10.4 12.04 33.08 657.5 331.4)"/>
<circle r="1" fill="url(#k)" opacity=".048" transform="matrix(28.57 -10.4 12.04 33.08 377 340.9)"/>
<circle r="1" fill="url(#g)" opacity=".127" transform="matrix(28.57 -10.4 12.04 33.08 641 340.9)"/>
<circle r="1" fill="url(#g)" opacity=".029" transform="matrix(28.57 -10.4 12.04 33.08 289 360)"/>
<circle r="1" fill="url(#g)" opacity=".055" transform="matrix(28.57 -10.4 12.04 33.08 283.5 369.5)"/>
<circle r="1" fill="url(#g)" opacity=".044" transform="matrix(28.57 -10.4 12.04 33.08 305.5 369.5)"/>
<circle r="1" fill="url(#g)" opacity=".078" transform="matrix(28.57 -10.4 12.04 33.08 679.5 369.5)"/>
<circle r="1" fill="url(#g)" opacity=".046" transform="matrix(28.57 -10.4 12.04 33.08 366 398.1)"/>
<circle r="1" fill="url(#g)" opacity=".156" transform="matrix(28.57 -10.4 12.04 33.08 608 398.1)"/>
<circle r="1" fill="url(#g)" opacity=".088" transform="matrix(28.57 -10.4 12.04 33.08 696 398.1)"/>
<circle r="1" fill="url(#g)" opacity=".033" transform="matrix(28.57 -10.4 12.04 33.08 316.5 407.6)"/>
<circle r="1" fill="url(#g)" opacity=".106" transform="matrix(28.57 -10.4 12.04 33.08 371.5 407.6)"/>
<circle r="1" fill="url(#g)" opacity=".062" transform="matrix(28.57 -10.4 12.04 33.08 657.5 407.6)"/>
<circle r="1" fill="url(#g)" opacity=".038" transform="matrix(28.57 -10.4 12.04 33.08 311 417.2)"/>
<circle r="1" fill="url(#g)" opacity=".021" transform="matrix(28.57 -10.4 12.04 33.08 382.5 426.7)"/>
<circle r="1" fill="url(#g)" opacity=".068" transform="matrix(28.57 -10.4 12.04 33.08 602.5 426.7)"/>
<circle r="1" fill="url(#g)" opacity=".053" transform="matrix(28.57 -10.4 12.04 33.08 690.5 426.7)"/>
<circle r="1" fill="url(#g)" opacity=".11" transform="matrix(28.57 -10.4 12.04 33.08 575 436.2)"/>
<circle r="1" fill="url(#g)" opacity=".046" transform="matrix(28.57 -10.4 12.04 33.08 608 436.2)"/>
<circle r="1" fill="url(#g)" opacity=".072" transform="matrix(28.57 -10.4 12.04 33.08 327.5 445.7)"/>
<circle r="1" fill="url(#g)" opacity=".072" transform="matrix(28.57 -10.4 12.04 33.08 338.5 445.7)"/>
<circle r="1" fill="url(#g)" opacity=".083" transform="matrix(28.57 -10.4 12.04 33.08 404.5 445.7)"/>
<circle r="1" fill="url(#g)" opacity=".044" transform="matrix(28.57 -10.4 12.04 33.08 679.5 445.7)"/>
<circle r="1" fill="url(#g)" opacity=".066" transform="matrix(28.57 -10.4 12.04 33.08 344 455.3)"/>
<circle r="1" fill="url(#g)" opacity=".078" transform="matrix(28.57 -10.4 12.04 33.08 355 455.3)"/>
<circle r="1" fill="url(#g)" opacity=".051" transform="matrix(28.57 -10.4 12.04 33.08 399 455.3)"/>
<circle r="1" fill="url(#k)" opacity=".048" transform="matrix(28.57 -10.4 12.04 33.08 586 455.3)"/>
<circle r="1" fill="url(#g)" opacity=".063" transform="matrix(28.57 -10.4 12.04 33.08 685 455.3)"/>
<circle r="1" fill="url(#g)" opacity=".03" transform="matrix(28.57 -10.4 12.04 33.08 349.5 464.8)"/>
<circle r="1" fill="url(#g)" opacity=".052" transform="matrix(28.57 -10.4 12.04 33.08 360.5 464.8)"/>
<circle r="1" fill="url(#g)" opacity=".103" transform="matrix(28.57 -10.4 12.04 33.08 371.5 464.8)"/>
<circle r="1" fill="url(#g)" opacity=".083" transform="matrix(28.57 -10.4 12.04 33.08 404.5 464.8)"/>
<circle r="1" fill="url(#g)" opacity=".138" transform="matrix(28.57 -10.4 12.04 33.08 569.5 464.8)"/>
<circle r="1" fill="url(#g)" opacity=".014" transform="matrix(28.57 -10.4 12.04 33.08 580.5 464.8)"/>
<circle r="1" fill="url(#g)" opacity=".043" transform="matrix(28.57 -10.4 12.04 33.08 624.5 464.8)"/>
<circle r="1" fill="url(#g)" opacity=".039" transform="matrix(28.57 -10.4 12.04 33.08 355 474.3)"/>
<circle r="1" fill="url(#g)" opacity=".05" transform="matrix(28.57 -10.4 12.04 33.08 366 474.3)"/>
<circle r="1" fill="url(#g)" opacity=".072" transform="matrix(28.57 -10.4 12.04 33.08 410 474.3)"/>
<circle r="1" fill="url(#g)" opacity=".058" transform="matrix(28.57 -10.4 12.04 33.08 421 474.3)"/>
<circle r="1" fill="url(#g)" opacity=".078" transform="matrix(28.57 -10.4 12.04 33.08 432 474.3)"/>
<circle r="1" fill="url(#g)" opacity=".1" transform="matrix(28.57 -10.4 12.04 33.08 575 474.3)"/>
<circle r="1" fill="url(#g)" opacity=".084" transform="matrix(28.57 -10.4 12.04 33.08 404.5 483.8)"/>
<circle r="1" fill="url(#g)" opacity=".065" transform="matrix(28.57 -10.4 12.04 33.08 415.5 483.8)"/>
<circle r="1" fill="url(#g)" opacity=".059" transform="matrix(28.57 -10.4 12.04 33.08 426.5 483.8)"/>
<circle r="1" fill="url(#g)" opacity=".07" transform="matrix(28.57 -10.4 12.04 33.08 333 493.4)"/>
<circle r="1" fill="url(#g)" opacity=".026" transform="matrix(28.57 -10.4 12.04 33.08 465 493.4)"/>
<circle r="1" fill="url(#g)" opacity=".045" transform="matrix(28.57 -10.4 12.04 33.08 586 493.4)"/>
<circle r="1" fill="url(#g)" opacity=".024" transform="matrix(28.57 -10.4 12.04 33.08 597 493.4)"/>
<circle r="1" fill="url(#g)" opacity=".036" transform="matrix(28.57 -10.4 12.04 33.08 635.5 502.9)"/>
<circle r="1" fill="url(#g)" opacity=".051" transform="matrix(28.57 -10.4 12.04 33.08 410 512.4)"/>
<circle r="1" fill="url(#g)" opacity=".025" transform="matrix(28.57 -10.4 12.04 33.08 443 512.4)"/>
<circle r="1" fill="url(#g)" opacity=".085" transform="matrix(28.57 -10.4 12.04 33.08 564 512.4)"/>
<circle r="1" fill="url(#g)" opacity=".07" transform="matrix(28.57 -10.4 12.04 33.08 619 512.4)"/>
<circle r="1" fill="url(#g)" opacity=".042" transform="matrix(28.57 -10.4 12.04 33.08 349.5 521.9)"/>
<circle r="1" fill="url(#g)" opacity=".065" transform="matrix(28.57 -10.4 12.04 33.08 437.5 521.9)"/>
<circle r="1" fill="url(#g)" opacity=".04" transform="matrix(28.57 -10.4 12.04 33.08 344 531.5)"/>
<circle r="1" fill="url(#g)" opacity=".073" transform="matrix(28.57 -10.4 12.04 33.08 520 531.5)"/>
<circle r="1" fill="url(#g)" opacity=".106" transform="matrix(28.57 -10.4 12.04 33.08 641 531.5)"/>
<circle r="1" fill="url(#g)" opacity=".049" transform="matrix(28.57 -10.4 12.04 33.08 338.5 541)"/>
<circle r="1" fill="url(#g)" opacity=".1" transform="matrix(28.57 -10.4 12.04 33.08 415.5 541)"/>
<circle r="1" fill="url(#g)" opacity=".06" transform="matrix(28.57 -10.4 12.04 33.08 481.5 541)"/>
<circle r="1" fill="url(#g)" opacity=".01" transform="matrix(28.57 -10.4 12.04 33.08 525.5 541)"/>
<circle r="1" fill="url(#g)" opacity=".046" transform="matrix(28.57 -10.4 12.04 33.08 476 550.5)"/>
<circle r="1" fill="url(#g)" opacity=".098" transform="matrix(28.57 -10.4 12.04 33.08 360.5 560)"/>
<circle r="1" fill="url(#g)" opacity=".052" transform="matrix(28.57 -10.4 12.04 33.08 465 569.6)"/>
<circle r="1" fill="url(#g)" opacity=".029" transform="matrix(28.57 -10.4 12.04 33.08 498 569.6)"/>
<circle r="1" fill="url(#g)" opacity=".034" transform="matrix(28.57 -10.4 12.04 33.08 509 569.6)"/>
<circle r="1" fill="url(#g)" opacity=".04" transform="matrix(28.57 -10.4 12.04 33.08 531 569.6)"/>
<circle r="1" fill="url(#g)" opacity=".04" transform="matrix(28.57 -10.4 12.04 33.08 542 569.6)"/>
<circle r="1" fill="url(#g)" opacity=".089" transform="matrix(28.57 -10.4 12.04 33.08 597 569.6)"/>
<circle r="1" fill="url(#g)" opacity=".067" transform="matrix(28.57 -10.4 12.04 33.08 437.5 579.1)"/>
<circle r="1" fill="url(#g)" opacity=".032" transform="matrix(28.57 -10.4 12.04 33.08 470.5 579.1)"/>
<circle r="1" fill="url(#g)" opacity=".084" transform="matrix(28.57 -10.4 12.04 33.08 569.5 579.1)"/>
<circle r="1" fill="url(#g)" opacity=".036" transform="matrix(28.57 -10.4 12.04 33.08 580.5 579.1)"/>
<circle r="1" fill="url(#g)" opacity=".048" transform="matrix(28.57 -10.4 12.04 33.08 443 588.6)"/>
<circle r="1" fill="url(#g)" opacity=".015" transform="matrix(28.57 -10.4 12.04 33.08 476 588.6)"/>
<circle r="1" fill="url(#g)" opacity=".027" transform="matrix(28.57 -10.4 12.04 33.08 509 588.6)"/>
<circle r="1" fill="url(#g)" opacity=".043" transform="matrix(28.57 -10.4 12.04 33.08 520 588.6)"/>
<circle r="1" fill="url(#g)" opacity=".033" transform="matrix(28.57 -10.4 12.04 33.08 448.5 598.1)"/>
<circle r="1" fill="url(#g)" opacity=".053" transform="matrix(28.57 -10.4 12.04 33.08 470.5 598.1)"/>
<circle r="1" fill="url(#g)" opacity=".046" transform="matrix(28.57 -10.4 12.04 33.08 481.5 598.1)"/>
<circle r="1" fill="url(#g)" opacity=".007" transform="matrix(28.57 -10.4 12.04 33.08 514.5 598.1)"/>
</g></g>
<path d="M367.5 48.3L369.5 48L372.5 48.9L374.5 50.4L376.1 52.5L377.4 55.5L377.7 58.5L376.8 60.5L375.5 61.5L372.5 62.4L369.5 62.4L367.5 61.8L365.5 60.4L363.7 57.5L363.3 54.5L363.9 51.5L365.4 49.5M488.5 90.6L486.5 91.1L483.5 90.8L481.5 89.7L479.5 87.9L477.6 84.5L476.7 81.5L476.5 78.5L477.5 76.7L480.5 75.7L484.5 76.2L487.5 77.7L490.7 80.5L491.9 82.5L492.4 85.5L491.1 88.5ZM380.5 138.7L378.5 138.9L376.5 138.2L374.7 136.5L373.5 134.2L373.1 131.5L373.5 129.2L374.5 127.4L376.5 126L378.5 125.8L380.5 126.5L382.5 128.2L383.8 130.5L384.2 133.5L383.8 135.5L382.5 137.5ZM519.5 142.6L517.5 143.1L515.5 142.8L513.5 141.5L512 139.5L511.4 137.5L511.5 134.5L512.6 132.5L514.5 131.1L516.5 130.8L518.5 131.3L520.2 132.5L521.6 134.5L522.3 137.5L522 139.5L520.9 141.5ZM690.5 154L688.5 154.4L685.5 153.6L683.5 152L682 149.5L681.2 145.5L681.5 141.5L682.5 139.4L684.5 138.1L686.5 138L688.5 138.7L690.5 140.6L692.1 143.5L692.9 147.5L692.8 150.5L692.1 152.5ZM410.5 590.5L406.5 590.5L397.5 588.8L389.5 591L386.5 591.3L383.9 590.5L382.5 589.1L381.9 586.5L382.4 584.5L383.7 582.5L388.5 577.5L389.4 574.5L388.5 569.5L385.1 558.5L383.5 554.9L381.5 552.8L378.5 551.7L369.5 550.2L365.5 548.9L362.3 546.5L358.7 541.5L356.2 535.5L355.9 530.5L357.5 526.5L363.3 518.5L363.9 516.5L363.9 513.5L362.8 510.5L360.2 506.5L348.5 493.5L344.5 490.5L336.5 487.2L329.3 481.5L324.5 480.3L319.5 480.7L315.5 481.9L313.7 483.5L313.4 484.5L313.6 486.5L316.2 496.5L316.3 500.5L315.5 502.4L313.5 503.4L310.5 503.5L307.5 502.9L304.5 501.7L300.5 498.3L297.6 493.5L296.3 488.5L295.6 480.5L294.6 478.5L290.5 475.6L280.5 472.1L278.5 470.7L276.6 468.5L274.6 462.5L274.1 455.5L274.8 451.5L276.8 447.5L280.5 442.9L284.5 440L288.5 439.6L300.5 442.4L307.5 442.5L313.5 440.9L319.3 438.5L321.9 436.5L323 434.5L323.2 432.5L322.5 429.5L319.5 425.8L317.5 424.7L315.5 424.3L307.5 425.7L304.5 425.4L301.8 424.5L298.9 422.5L297.1 420.5L295.5 417.5L294.3 413.5L293 405.5L293 400.5L297 382.5L298.1 373.5L297.5 368.5L294.9 360.5L294.8 356.5L296.2 350.5L299.5 344.2L302.5 340L305.5 336.8L308.5 335.4L311.5 335.6L316.5 338.5L318.6 341.5L318.4 344.5L316.7 350.5L316.4 354.5L317.1 357.5L319.4 360.5L321.5 361.7L324.5 362.7L328.5 363.1L331.5 362.6L335.5 360.5L337 358.5L337.9 355.5L337.5 350.5L335.5 347L332.5 344.6L326.2 341.5L323.8 339.5L321.4 329.5L315.8 318.5L314.5 313.5L314.7 309.5L316.8 298.5L316.4 289.5L316.7 286.5L318.8 282.5L324.8 275.5L327.5 270.5L329 263.5L328.5 256.6L327.5 254.2L325.5 252.5L315.5 251.1L312.5 250.1L309.9 248.5L307.7 245.5L307.3 243.5L307.8 241.5L309.5 239.1L311.9 237.5L314.5 236.7L317.5 236.7L320 237.5L322.5 239L329.5 245.5L331.5 245.9L333.5 245.5L337.5 243.5L341.5 240.3L351.5 228.4L354.5 226.8L358.5 226.3L361.5 226.9L364.5 228.3L368.5 231.8L370.5 235L377.5 250.3L380.5 254.9L383.5 257.6L385.5 258.3L388.5 258L398.5 252.7L409.9 249.5L412.5 246.8L413.5 242.5L412.7 237.5L410.5 233.8L407.5 232.2L399.5 232.3L395.5 231.4L392.3 229.5L390.6 227.5L389.7 225.5L389.7 221.5L391.5 217.2L394.5 213.6L398.9 210.5L399.2 209.5L395.5 206L392.5 201.6L391.2 197.5L391.4 193.5L393 190.5L395.5 188.5L398.5 187.4L402.8 187.5L406.5 188.8L410.5 191.5L413 194.5L415.5 200.2L416.7 201.5L418.5 202.1L421.5 202.1L424.8 201.5L427.5 200.5L428.5 199.5L428.6 198.5L425.7 190.5L425.3 183.5L428.2 165.5L429.5 163.6L430.5 163.4L442.5 167.8L447.5 170.3L451.5 173.8L454.4 178.5L455.6 184.5L455.1 187.5L454.2 189.5L450.5 193.7L441.5 200.5L440.5 202.5L441.1 204.5L443.7 207.5L447.6 210.5L451.5 212.4L456.5 213.2L458.5 212.7L460.5 211.6L463 208.5L467.5 199L469.5 197.2L472.5 195.9L484.5 192.9L499.5 188.1L504.5 187.2L510.5 187.8L514.5 189.4L520.5 192.6L523.5 193.2L525.5 192.5L533.5 186.9L536.5 185.9L538.5 185.8L542.5 187L545.6 189.5L547.9 193.5L548.1 196.5L547.4 198.5L545.4 201.5L540.5 206L536.5 207.9L528.5 208.9L527 210.5L526.4 215.5L527.5 226.7L528.5 231.8L529.5 233.8L530.5 234.7L532.5 235.1L539.5 232.8L543.5 232.5L548.5 233.1L559.5 235.7L562.5 235.7L564.5 234.8L566.5 232.5L572.8 219.5L574.5 217L576.5 215.2L579.5 214.1L584.5 213.9L589.5 215.2L593.5 217.5L596.2 220.5L597.3 223.5L597.4 226.5L596.3 232.5L596.5 235.5L598.5 237.7L606.5 241.6L610.5 245.5L612.6 250.5L612.9 260.5L614.2 263.5L616.5 264.1L619.5 263.5L627.2 258.5L630.5 257.1L634.5 256.3L638.5 256.4L643.5 257.5L648.5 259.8L652.5 263.3L655.1 267.5L656.3 271.5L656.6 274.5L656 277.5L655.4 278.5L651.5 280.5L637.5 284L634.5 285.9L632.9 288.5L632.1 294.5L632.4 305.5L633.4 310.5L635.5 314.3L637.7 316.5L640.5 318.4L643.5 319.8L646.5 320.5L650.5 320.3L657.5 317.8L659.5 317.8L660.5 318.3L667.4 326.5L680.1 338.5L683.3 342.5L687.5 349L689.5 351.2L692.5 353.2L702.5 358.2L708.6 363.5L712.5 368.2L715.5 372.7L717.5 377.5L717.9 381.5L717.4 384.5L715.5 387.8L713.5 389.4L710.5 390.2L708.5 389.9L706.5 389L698.6 381.5L693.5 379.1L687.5 377.9L680.5 377.3L676.5 377.8L674.1 379.5L673.4 383.5L674.8 395.5L677.1 401.5L682.3 409.5L684.3 413.5L685.4 418.5L685.1 423.5L683.8 426.5L680.6 429.5L672.5 433.9L664.5 436.8L659.5 439.1L654.5 443L651.5 446.9L649.9 450.5L648.9 455.5L648.7 469.5L646.6 482.5L646.6 487.5L647.5 489.6L649.5 491.5L652.5 493.1L657.5 494.6L662.5 494.8L664.5 493.9L666.5 492L670.1 486.5L671.4 483.5L672 480.5L671.6 477.5L667.7 468.5L667.4 464.5L668 461.5L669.9 457.5L673.5 453.2L676.5 451.2L679.5 451.2L681.4 453.5L681.8 457.5L679 474.5L679.3 477.5L681.2 480.5L690.5 489.4L696.2 496.5L698.6 501.5L699 504.5L698.7 506.5L697.5 509.5L695.5 511.8L693.5 513.3L690.5 514.3L688.5 514.2L686.5 513.5L676.5 505.6L672.5 503.8L669.5 503.1L666.5 503.6L664.5 505L658.5 512.4L655.5 515L652.5 516.8L648.5 518.1L645.5 518.5L642.5 517.7L636.5 513.2L633.5 512L630.5 512.3L628.6 513.5L627.1 515.5L626.7 517.5L627.1 520.5L628.1 522.5L630.5 525.2L632.5 526.5L638.5 527.7L640.5 528.5L642.7 531.5L643.7 536.5L643.4 540.5L642.4 545.5L639.1 555.5L634.8 562.5L629.5 567.9L624.5 570.2L621.5 570.4L618.5 569.9L611.2 566.5L605 561.5L602.5 557.5L601 552.5L599.3 532.5L597.5 529.4L594.5 528.5L592.5 529L590.4 530.5L588.5 533.3L587.6 536.5L587.4 542.5L588.1 564.5L587.5 567.5L586.5 568.2L584.5 568.3L572.6 563.5L564.5 561.4L557.5 561.3L552.7 562.5L550 564.5L548 568.5L547.8 572.5L549.7 582.5L549.4 583.5L548.1 584.5L541.5 585.6L534.5 584.5L529.5 582.2L521.5 576.8L518.5 575.8L515.5 575.9L506.5 578.1L499.5 579.3L494.5 579.6L491.5 579.2L489.5 578.4L487.5 576.8L481.5 567.1L477.5 563.5L454.5 555.4L448.5 553.9L443.5 553.5L438.1 554.5L436.3 555.5L434.5 557.5L433.1 561.5L430.8 574.5L429.5 577.8L426.7 581.5L422.5 585.4L418.5 588.1L414.5 589.8ZM631.5 192.8L629.5 192.9L627.3 191.5L626 188.5L626.9 186.5L629.5 186L632 187.5L632.7 188.5L633 190.5L632.5 191.9ZM711.5 211.6L709.5 212.1L706.5 211.5L704.5 210L702.7 207.5L701.9 204.5L702.3 201.5L703.5 199.4L705.5 197.9L707.5 197.3L710.5 197.8L712.9 199.5L714.5 201.9L715.2 204.5L714.9 207.5L713.5 210.1ZM405.9 210.5L406.1 209.5L405.5 209.3L403.6 209.5L403 210.5L404.5 210.8ZM285.5 287.7L283.5 288L281.5 287.2L280 285.5L278.6 282.5L276.9 274.5L275.2 259.5L275.9 246.5L277.4 238.5L279.5 234.5L281.5 232.9L283.5 232.4L285.5 232.9L287.5 234.2L290.5 238.5L292.5 244.5L293.2 251.5L292.9 271.5L292.3 277.5L291 281.5L289.5 284.1L287.5 286.4ZM580 272.5L585.5 270.4L590.5 267.5L592.6 265.5L593.8 262.5L593.6 259.5L592.8 256.5L589.5 248.5L587.5 245.6L585.5 244.5L583.5 244L580.5 244.1L575.5 245.1L571.5 246.6L569.5 247.9L566.7 252.5L565 259.5L564.9 262.5L565.5 265.5L566.5 267.7L568.8 270.5L570.5 271.7L573.5 272.9L576.5 273.1ZM824.5 287.7L821.5 288.1L819.5 287.6L818 286.5L816.8 284.5L816.5 281.5L817.2 278.5L818.6 276.5L820.5 275.3L822.5 275L824.7 275.5L826.5 276.9L828 279.5L828.4 282.5L827.8 284.5L826.5 286.4ZM697.5 301.6L695.5 301.9L693.5 301.4L687.5 298.6L683.4 295.5L680.5 291.5L679.8 287.5L681 283.5L683.8 279.5L687.5 277.1L691.5 276.5L695.2 277.5L698.5 280.1L700.7 283.5L702 288.5L701.8 293.5L700.2 298.5L698.9 300.5ZM825.5 335.6L822.5 335.7L819.5 334.8L814.5 330.9L810.4 325.5L801.5 311.7L794.1 302.5L792.5 299.4L791.8 295.5L792.5 291.9L794.5 289.4L797.5 288.1L800.5 288.2L804.4 289.5L807.4 291.5L810.2 294.5L827.6 316.5L830.7 322.5L831.4 325.5L831.4 328.5L830.9 330.5L829.5 333L827.5 334.7ZM266.5 330.2L265.5 330.5L264.5 329.8L263.5 328.1L255.7 308.5L249.5 300.5L247.7 297.5L247.1 294.5L247.3 292.5L248.4 290.5L249.8 289.5L252.5 289.1L255.5 289.9L263.5 295.1L271.5 299.3L275.5 302.9L278.7 308.5L280.1 313.5L279 317.5L274.9 322.5ZM456.8 304.5L458.2 302.5L458.2 300.5L457 297.5L454.5 294.9L452.5 294L449.5 294L447.5 295L446 296.5L445.1 298.5L445 300.5L445.7 302.5L446.6 303.5L448.5 304.6L451.5 305.3L454.5 305.2ZM704.5 334.7L701.5 335.3L698.5 333.6L696.7 330.5L695.7 326.5L695.5 321.5L696.5 316.1L698.5 311.9L700.5 310.5L703.5 311.1L706.5 313.6L708.9 317.5L710.1 321.5L710.1 325.5L709 329.5L707.1 332.5ZM506.6 486.5L509.5 485.7L515.5 482.7L518.5 481.9L522.5 481.8L532.5 483.7L534.5 483.2L535.5 482.1L536 480.5L536 478.5L533.8 466.5L534 463.5L534.9 460.5L536.5 458L539.2 455.5L550.6 448.5L552.6 446.5L553.5 444.5L553.8 441.5L553.4 435.5L553.8 432.5L555.2 428.5L559.4 420.5L560.5 415.5L560 411.5L556 400.5L555.4 396.5L556.5 393.6L560.6 388.5L561.8 384.5L561.3 381.5L559.5 377.5L554.8 371.5L551.5 369.2L543.5 366.1L539.5 363.9L527.5 354L524.5 351L522.5 347.7L521.5 344.5L520 328.5L519.1 324.5L517.5 320.1L515.5 316.9L512.5 314.5L509.5 313.6L505.5 313.3L499.5 313.7L494.5 314.8L491.8 316.5L488.8 320.5L486.5 321.8L483.5 322L476.5 319.9L473.5 320.3L470.5 322.1L464.5 327L460.5 329.3L456.5 330.8L448.7 332.5L446.6 333.5L444.1 336.5L440 348.5L435.8 355.5L432.5 362.6L430.4 365.5L427.5 367.2L423.5 367.7L409.5 366.2L406.5 366.3L404.5 367.3L403.4 368.5L402.4 372.5L403 376.5L404.4 380.5L413.8 399.5L416.6 410.5L418.5 415.6L422.1 420.5L429.5 426.6L433.5 431.2L445.5 453.6L447.5 455.4L449.5 456.2L463.5 458.1L486.5 462.4L490.5 463.8L492.5 466.2L495.7 476.5L498.5 482L500.5 484.3L502.5 485.8L504.5 486.5ZM757.5 334.8L755.5 335L754.1 334.5L752.5 333L751.9 331.5L751.8 329.5L752.5 327.5L754.5 326L756.5 326L757.7 326.5L758.9 327.5L759.9 329.5L759.8 332.5L758.5 334.3ZM277.5 419.7L273.5 419.3L268.5 416.3L264.7 411.5L263.1 406.5L263.2 400.5L266.3 387.5L266.7 382.5L265.6 370.5L266.1 357.5L262.9 348.5L262.2 344.5L262.5 339.8L263.5 337.1L264.5 335.9L265.5 336L267.5 340.2L270.8 355.5L272.8 358.5L280.5 366.5L281.7 368.5L282.7 371.5L282.7 383.5L285.6 396.5L285.8 403.5L284.2 410.5L282.5 415L280.5 418ZM226.5 366.8L223.5 366.8L220 364.5L217.5 360.6L215.9 355.5L215.1 349.5L215.6 343.5L217.5 339.2L220.5 337.1L223.5 337.2L226.8 339.5L229.3 343.5L231 349.5L231.7 355.5L231.3 360.5L229.5 364.6ZM497.5 414.5L495.5 415.3L493.5 415.2L488.5 412.7L480.9 405.5L476.4 398.5L474.1 391.5L473.9 384.5L475.5 379.5L477.5 377.1L479.5 375.9L483.5 375.6L487.5 377.2L491.5 380.7L495.1 386.5L497.4 393.5L499.5 407.5L499.3 411.5ZM760.5 393.5L757.5 394.3L754.5 393.7L751.5 391.6L750 389.5L749 386.5L749.1 383.5L750.5 380.5L752.5 378.8L754.5 378.2L757.5 378.5L760.5 380.4L762 382.5L763.1 385.5L763.2 388.5L762.4 391.5ZM655.1 396.5L656.5 395.2L657.9 392.5L659.8 383.5L659.6 381.5L658.5 379.9L656.5 379L654.5 378.9L650.5 379.8L646.5 381.7L644.5 383.5L643.3 386.5L644.6 390.5L648.5 394.8L652.5 396.9ZM716.5 478.6L714.5 478.4L712.5 477.6L709.2 474.5L706.5 469.6L703.6 460.5L702.1 457.5L699.8 454.5L693.3 448.5L691.8 446.5L690.8 443.5L690.9 440.5L692 437.5L694.2 435.5L698.5 434.8L703.5 435.9L708 438.5L711.2 442.5L715 454.5L720.3 464.5L721.9 469.5L722 472.5L721.1 475.5L719.4 477.5ZM510.5 463.6L506.5 464.1L501.8 463.5L497.5 462.2L495.5 460.5L494.9 456.5L496.2 450.5L498.5 446.7L501.5 444.4L505.5 443.4L510.5 444.3L514.5 447.1L516.9 450.5L518 454.5L517 458.5L514.5 461.6ZM150.5 461.6L148.5 461.3L146.5 460L144.5 456.5L144.4 454.5L145.1 452.5L147.5 450.5L149.5 450.4L151.9 451.5L153.9 453.5L154.8 455.5L155 457.5L154.2 459.5L152.5 461ZM200.5 511.7L196.5 511.8L193.5 511.3L191.5 510.4L188.9 508.5L187.3 506.5L186.4 503.5L186.6 500.5L187.4 498.5L188.9 496.5L191.3 494.5L197.5 491.9L204.5 491.3L210.6 492.5L212.5 494.1L213.6 497.5L213.4 501.5L212.3 504.5L210.5 506.9L207.5 509.2L204.5 510.6ZM455.1 508.5L457.1 506.5L457.8 503.5L457.5 501.8L456.6 500.5L454.5 500L453.2 500.5L451.5 502.2L450.5 504.5L450.4 506.5L451.5 508.4L452.5 508.9ZM337.5 532.6L333.5 532.2L329.5 530.6L325.5 527.9L322.4 524.5L320.3 520.5L319 514.5L319.2 508.5L320.5 506.3L324.5 505.3L328.5 506.6L331.5 509.4L336.5 516.6L340.5 523.5L341.8 527.5L341.5 529.5L340.5 531.1ZM398.6 548.5L402.5 546.5L405.5 543.7L407.7 540.5L408.8 536.5L408.5 530.5L406.5 523.5L403.5 517L402.5 515.6L400.5 514.3L398.5 514.7L396.5 516.5L390.3 525.5L388 530.5L386.9 536.5L387.4 544.5L389.1 547.5L390.6 548.5L393.5 549.2ZM678.5 542.5L674.5 543.2L671.5 542.3L668.5 539.8L666.6 536.5L666.4 532.5L667.5 529.6L669.6 527.5L673.5 525.6L677.5 525L680.5 525.6L682.5 527.1L683.9 529.5L684.6 533.5L683.7 537.5L681.5 540.5ZM307.5 565L304.5 565L302.3 563.5L300.3 560.5L298.9 555.5L298.8 549.5L299.9 543.5L301.6 540.5L302.9 539.5L304.5 539L306.5 539.5L308.5 541.5L309.8 544.5L310.8 549.5L311.2 555.5L310.8 560.5L309.5 563.5ZM566.5 605.5L564.5 605.5L561.5 604.4L557.3 600.5L553.8 593.5L552.7 589.5L552.5 586.5L553.6 584.5L556.1 583.5L564.5 581.2L569.5 580.7L571.9 581.5L573.2 583.5L573.9 590.5L573.6 596.5L573 599.5L571.5 602.5L569.3 604.5ZM364.5 620.5L360.5 621.2L356.5 620.6L353.5 619L350.8 616.5L349.3 613.5L349 610.5L349.8 607.5L352.5 604.3L356.5 602.5L361.5 602.4L366.5 604.3L370 607.5L371.6 611.5L371.5 613.5L370.9 615.5L368.3 618.5ZM484.5 656.8L480.5 656.7L477.5 654.9L475.5 652.5L474.2 648.5L474.5 644.5L475.9 641.5L478.5 638.9L481.5 637.7L484.5 638.1L486.5 639.4L488.6 642.5L489.9 646.5L489.8 650.5L488.7 653.5L487 655.5ZM555.5 673.6L551.5 674L547.5 673.8L541.5 672.7L537.5 671.3L534.7 669.5L533 667.5L531.6 664.5L531.4 661.5L532.3 658.5L534.5 655.9L544.5 650.6L547.5 647.6L552.5 640.5L555.5 638.4L558.5 637.9L560.5 638.4L562.5 639.5L565 642.5L566.3 646.5L566.4 651.5L564.6 661.5L562.6 667.5L559.6 671.5ZM441.5 186.1L439.5 186.4L437.9 185.5L437.2 184.5L437.2 181.5L438.5 180L440.5 179.6L442.2 180.5L442.9 181.5L443.3 183.5L443 184.5ZM500.5 556.6L497.5 556.4L494.3 554.5L491.5 550.7L490.2 546.5L490.2 541.5L491.5 537.7L493.5 536.3L496.5 535.6L497.5 533.6L497.4 528.5L496.5 525.2L495.5 525.5L490.5 530.5L488.5 530.6L481.5 529.7L478.5 530.3L475.5 531.6L470.5 535.2L463.5 543.2L460.5 544.8L457.5 545.2L453.5 544.7L448.5 543L436.5 537.1L424.5 532.2L420.5 529.4L417.5 525.5L414.7 519.5L413.4 513.5L412.8 506.5L413 500.5L413.9 495.5L414.8 493.5L419 487.5L420 484.5L419.7 481.5L418.9 480.5L416.5 480.4L410.5 483.6L401.5 486L395.5 488.9L392.5 491.1L390.6 493.5L389.8 495.5L388.1 505.5L386.9 509.5L384.9 512.5L382.5 513.9L379.5 513.7L376.5 511.4L367.5 498.5L365.7 495.5L364.8 492.5L364.8 490.5L365.6 488.5L367.2 486.5L369.5 484.8L377.5 481.5L380.5 479.7L382.8 477.5L385.1 473.5L385.8 469.5L385.4 460.5L386.7 453.5L386.2 450.5L381.1 442.5L377.5 434.6L376.5 433.4L374.5 432.3L372.5 432.1L369.5 432.9L361.5 438.8L357.5 440.3L352.5 441L348.5 441L345.5 440.4L342.5 438.9L337.5 433.2L331.1 422.5L328.6 415.5L328.3 409.5L329.3 406.5L330.9 404.5L333.5 402.9L336.5 402L345.5 401L361.5 402L376.5 399.4L379.5 398.5L383.5 395.4L386 390.5L386.3 383.5L386.2 382.5L384.5 380.1L382.5 378.9L380.5 378.4L378.5 378.5L376.5 379.2L373.7 381.5L369.5 386.7L367.5 388.1L365.5 388.6L362.5 388.4L351.5 385.9L341.5 386.4L333.5 385.6L330.5 385.8L327.3 387.5L320.2 395.5L317.5 397.1L314.5 398.1L311.5 397.7L310.2 396.5L308.8 393.5L308.1 388.5L308.3 384.5L309.1 381.5L310.5 378.7L312.5 376.8L316.5 375.4L324.5 375.7L328.5 375.3L335.5 372.9L339.5 370.9L342.4 368.5L344.3 365.5L345.4 362.5L348 347.5L351.3 337.5L351.8 334.5L349.8 313.5L348.5 310.4L347.5 309.5L345.5 308.7L341.5 308.9L335.5 311L333.5 310.5L332.5 308.9L331.6 305.5L330.7 292.5L331.5 287.8L333.5 284L338.5 278.1L342.5 274.9L343.5 274.6L345.5 274.9L350.1 278.5L352.5 279.6L355.5 279.8L357.2 278.5L357.5 276.5L356.7 273.5L355.3 271.5L350.2 266.5L348.6 263.5L347.9 260.5L347.8 256.5L348.6 252.5L350.3 248.5L352.5 245.5L355.5 243.1L358.5 242.6L360.8 243.5L363.5 245.9L366.5 250.3L368.1 253.5L369.8 258.5L371.8 268.5L372.9 270.5L374.8 272.5L377.5 274.1L381.5 275.3L386.5 276L390.5 275.7L393.5 273.7L398.5 266.9L402.5 263.9L407.5 262.6L418.5 262.1L420.5 261.3L422.1 259.5L422.8 256.5L422.8 253.5L420.4 234.5L420.1 226.5L420.5 223.5L421.5 220.5L422.7 218.5L424.7 216.5L427.5 214.9L430.5 214.1L434.5 214L437.5 214.6L442.5 216.6L461.5 226.4L464.5 227.4L466.5 227.4L469.5 226.2L473.1 222.5L474.5 219.5L476.7 211.5L479.2 207.5L482.5 205.2L486.5 204.3L489.5 204.5L492.5 205.4L494.5 206.6L496.4 208.5L498.2 212.5L499.7 221.5L499.7 223.5L499.1 225.5L495.5 230.1L494 233.5L492.2 247.5L488.1 261.5L487.7 266.5L488.2 272.5L489.2 277.5L490.5 279.8L492.5 280.3L496.5 279.3L500.5 276.9L503 274.5L505 271.5L506.3 268.5L510 254.5L511.5 252.3L512.5 251.6L514.5 251.2L517.5 252.4L520.3 254.5L528.1 263.5L531.5 266.4L535.8 268.5L545.5 270.6L549.5 272.4L554.5 276.1L561.5 282.6L565.5 285.2L570.5 286.8L576.5 287L580.5 286.1L588.5 282.8L592.5 282.7L596.5 284.6L605.5 292.2L612.5 294.3L614.5 295.4L615.7 296.5L616.3 298.5L615.6 300.5L614.5 301.2L607.5 302.2L604.5 304.5L602.1 309.5L600.9 319.5L600.5 320L590.5 320.8L586.5 321.7L582.5 323.4L579.5 325.3L577.1 327.5L571.5 336.3L568.3 339.5L565.5 341L560.5 342.7L551.5 344.1L546.5 343.6L537.5 341.3L533.7 339.5L531.4 337.5L529.5 334.5L528 330.5L522.9 309.5L521.5 306.5L519.6 304.5L517.5 303.3L515.5 302.8L504.5 303L499.2 301.5L496.5 299.7L494.3 297.5L488.5 288.2L486.5 286.7L484.5 287L481.5 288.9L474.5 296.9L472.5 297.8L470.5 297.8L467.5 296.1L460.5 288.2L455.5 284.8L450.5 283L440.5 281.2L431.5 276.1L429.5 276.1L428.5 276.6L426.5 279.2L423.5 285.5L421.8 292.5L422.8 297.5L429.2 308.5L430.7 312.5L431.5 316.5L431.3 320.5L430.2 323.5L428.5 325.6L425.5 326.6L421.4 325.5L418.1 322.5L416.9 319.5L415.4 309.5L413.5 303.7L406.2 292.5L403.5 289.6L400.5 287.5L398.5 286.8L396.5 287L387.5 292.9L384.5 294L375.5 295.7L372.8 297.5L371.7 300.5L372.6 304.5L378.4 313.5L382.5 321.5L384.5 324.4L387.5 325.4L395.5 324.3L399.5 324.3L402.5 325.1L404.5 326.3L405.5 327.5L406.3 329.5L405.5 340.5L406.5 343.8L407.5 344.5L411.5 344.3L413.5 345L415.2 346.5L416.4 348.5L416.5 352L415.5 353.4L414.5 353.9L411.4 353.5L408.8 351.5L406.5 348.9L405.5 348.5L403.5 349.2L399.5 353.2L396.5 357.6L394.1 363.5L392.6 370.5L392.4 376.5L393.4 379.5L398.5 388.2L405.8 403.5L414.2 435.5L416.5 437.9L422.5 440.5L424.5 441.8L426.5 444L428.2 447.5L429.2 451.5L429.8 457.5L429.7 463.5L428.5 472.5L428.8 475.5L430.2 477.5L439.8 483.5L442.5 486.5L442.8 489.5L442.2 492.5L437.4 504.5L436.4 509.5L437.1 515.5L437.9 517.5L439.5 519.5L442.5 521.2L449.5 522.5L455.5 522.9L459.5 522.1L461.5 520.9L464.7 517.5L468.2 512.5L470.1 508.5L470.9 503.5L470.6 497.5L469.5 490.2L468.1 486.5L466.5 484.8L464.5 484.2L457.5 484.1L453.4 483.5L451.4 482.5L450.1 480.5L450.2 477.5L451.8 473.5L454.1 470.5L456.5 468.8L460.5 467.9L464.4 468.5L478.5 473.4L482.5 475.6L485.5 478.3L487.5 481L498.5 500.2L500.5 502.6L502.5 503.2L506.5 501.1L515.8 493.5L519.5 491.6L521.5 491.1L524.5 491.2L532.5 493.4L535.5 493.7L538.5 493.1L540.5 492.1L543 489.5L544.8 485.5L545.3 480.5L544.4 469.5L545.3 466.5L546.5 464.9L549.5 462.5L554.5 460.3L559.5 459.3L569.1 458.5L571.7 457.5L572.2 456.5L572.1 454.5L566.8 439.5L566.3 436.5L566.5 433.5L567.5 431.1L569.5 428.9L572.5 427.3L578.2 425.5L579.6 424.5L580 423.5L578.9 421.5L573.5 416L571.3 412.5L569.1 406.5L569.1 401.5L570.9 396.5L573.6 392.5L578.5 388L584.4 384.5L585.4 383.5L585.7 382.5L582.6 379.5L574.5 374.7L571.5 372.3L568.9 368.5L568.1 365.5L568.2 363.5L569.5 360.1L572.5 356.4L576.5 352.8L580.5 350.5L582.5 349.9L585.5 350L588.5 350.9L593.5 353.6L594.5 353.9L595.5 353.4L600.7 335.5L601.4 330.5L601.6 322.5L602 321.5L605.5 321.7L611.5 323.7L616.5 326.3L621.5 329.9L638.7 345.5L646.2 355.5L647.8 358.5L648.2 360.5L648.1 362.5L646.9 365.5L642.9 369.5L635.5 373.1L631.5 374.1L627.5 374.6L623.5 374.1L620.5 373L601.5 360.7L599.5 360L598.5 360.4L597.2 368.5L595.9 373.5L594.1 377.5L590.7 382.5L591.2 384.5L593.4 386.5L597.5 389.5L600.5 390.6L603.5 390.1L608.5 387.5L611.5 386.6L615.5 386.5L619.5 387.6L625.5 391.3L634.5 398.6L638.2 402.5L640.8 406.5L645.2 417.5L646.1 421.5L646.4 425.5L645.2 431.5L641.6 440.5L639.9 446.5L638.6 458.5L638.1 468.5L637.5 471.5L636.5 473.7L633.5 476.5L631.5 477L629.5 476.8L627.1 475.5L622.5 469.9L619.5 468.8L614.5 469.6L610.5 471.9L608.3 474.5L598.6 493.5L598 495.5L598.1 497.5L600.1 502.5L600.5 504.5L599.5 506.8L596.5 508.3L590.5 508.8L587.5 508.6L586.5 508.1L585.9 507.5L586 506.5L588.9 499.5L588 496.5L583.4 491.5L578.5 487.5L575.5 486.4L573.2 487.5L571.2 491.5L569.4 499.5L568.7 513.5L564.8 524.5L565.2 526.5L566 527.5L570.5 531.3L572.5 533.7L574.8 538.5L575.4 541.5L575.3 544.5L574.4 546.5L572.5 548.1L570.5 548.7L567.2 548.5L564.4 547.5L561.5 545.3L559.4 541.5L558.5 532.2L557.9 530.5L556.8 529.5L549.5 527.3L541.5 527.1L531.2 529.5L527.9 531.5L526.4 533.5L525.7 536.5L526.2 539.5L531.5 546.4L532.5 548.5L532.5 551.7L531.5 553.5L530.5 554.3L528.5 554.9L526.5 554.8L518.5 552.9L513.5 552.6L509.5 553.3ZM549.5 254.7L548.5 254.5L547.5 253.5L547.1 251.5L548.2 249.5L549.5 249.1L550.6 249.5L551.6 251.5L551.2 253.5ZM666.5 352.6L664.5 352.5L662.5 351.4L661 349.5L660.4 347.5L660.3 344.5L660.9 342.5L662.5 340.6L664.5 339.8L666.5 340L668.5 341.1L670.5 343.2L671.5 345.5L671.5 348.5L670.5 350.5L668.5 352.1ZM492.5 405.8L490.5 406.4L486.5 404.7L482.5 401.1L479.5 396.4L478 391.5L477.8 387.5L479.2 383.5L481.5 381.5L484.5 381.3L487.1 382.5L489.5 384.7L491.9 388.5L493.2 392.5L493.9 397.5L493.7 402.5ZM369.5 454.1L368.5 454.5L367.5 454.2L366.5 453.5L365.5 451.5L365.5 448.5L366.5 446.9L367.5 446.5L369.5 446.9L370.5 447.9L371.1 449.5L370.8 452.5ZM321.5 466.6L316.5 467.1L310.9 465.5L307.8 463.5L305.9 461.5L305.1 459.5L305.3 458.5L306.5 457.1L309.7 455.5L318.5 453.1L326.5 453L329.2 453.5L331.4 454.5L332.3 455.5L332.6 457.5L331.1 460.5L326.4 464.5ZM621.5 557.6L618.5 557.8L615.5 556.3L612.5 553L610.6 548.5L610.2 544.5L611.1 539.5L612.7 536.5L615.5 534.6L618.5 535.1L621.5 537.3L624.5 541.3L626.2 545.5L626.6 549.5L625.6 553.5L623.5 556.5ZM414.5 573.6L411.5 573.4L408.3 571.5L405.9 568.5L404.6 564.5L405.1 561.5L407 558.5L410.5 555.7L413.5 554.7L416.5 555.4L418.5 557.2L420.2 560.5L420.8 563.5L420.6 566.5L419.5 569.6L417.5 572.1ZM469.5 277.7L466.5 278L462.5 276.9L449.4 269.5L445.5 266.4L433.5 254.5L431 251.5L429.2 248.5L427.5 244.5L426.5 240.5L426 235.5L427.1 228.5L428.5 225.5L430.5 223.4L434.5 221.7L439.5 222.2L445.5 225.1L451.1 229.5L453.2 232.5L454.4 236.5L453.8 247.5L454.5 252.1L455.7 254.5L457.5 256.4L461.5 258.8L464.5 259.4L467.5 259.4L470.3 258.5L471.5 257.5L473 254.5L474 244.5L474.8 242.5L476.5 240.1L478.5 239L480.5 239L482.5 240.1L483.5 241.4L484.6 244.5L484.6 248.5L483.5 252.1L479.9 259.5L478.2 270.5L475.4 274.5L472.5 276.5ZM555.5 332.7L551.5 332.9L545.9 331.5L539.7 328.5L536.6 325.5L534.8 322.5L533.4 318.5L531.8 306.5L530.8 302.5L528.7 298.5L526.5 296.2L523.5 294.3L520.5 293.1L516.5 292.4L507.5 292.4L505.5 291.6L504.4 290.5L503.8 288.5L504.6 285.5L511.5 273.9L514.5 270.2L516.5 269.3L519.5 269.9L530.5 276.9L544.5 283.1L548.5 286L554.5 293.3L557.5 295.5L560.5 296.4L569.5 297.1L574.5 298.1L578.5 300L580.9 302.5L581.7 304.5L581.6 306.5L579.5 310.5L567.5 320.2L560.5 330L558.5 331.6ZM363.5 370.8L361.5 371.3L359.5 371.2L356.9 369.5L355.2 366.5L354.6 361.5L355 356.5L356.2 351.5L361.2 341.5L362.3 338.5L362.3 335.5L359.2 325.5L359.1 320.5L359.7 318.5L361.1 316.5L362.5 315.6L364.5 315.1L367.5 315.9L369.5 317.4L371.1 319.5L372.2 322.5L372.4 325.5L372 328.5L369.8 335.5L370.2 339.5L374 344.5L382.5 351.5L383.7 353.5L384.2 356.5L384 358.5L383 361.5L380.5 364.1L370 367.5ZM628.5 359.6L625.5 360.3L622.5 359.6L619 357.5L616 354.5L614 351.5L613.1 348.5L613.1 345.5L614.5 342.8L616.5 341.9L619.5 342.5L622.5 344.4L625.7 347.5L628.5 351.5L629.8 354.5L629.9 357.5ZM487.5 398.5L486.5 398.4L484.5 397.1L482.3 393.5L481.9 389.5L482.5 388L483.5 387.1L484.5 386.9L486.5 387.6L488.1 389.5L489.1 391.5L489.6 393.5L489.5 396.2L488.5 398.1ZM587.5 409.6L585.5 410.1L583.5 409.9L581.5 409.1L579.5 407.3L578.5 405.5L578.3 403.5L578.8 401.5L580.5 399.6L582.5 398.9L584.5 399L586.5 399.8L588.5 401.8L589.7 404.5L589.7 406.5L588.9 408.5ZM397.5 430.9L394.5 430.8L391.8 428.5L389.5 424.4L388 419.5L388 415.5L389.2 412.5L391.5 409.9L393.5 409L396.5 409.3L398.5 410.9L400.5 414.5L401.6 418.5L401.8 422.5L401.2 426.5L399.5 429.5ZM629.5 432.5L626.5 432.1L622.5 429.6L619.5 426.3L617.4 422.5L616.6 418.5L617.1 415.5L618.9 412.5L621.5 410.6L624.5 410.1L628.5 411.7L631.6 414.5L634.7 419.5L635.6 424.5L634.6 428.5L632.5 431.3ZM353.5 426.7L350.5 427.4L347.5 427.2L345.5 426.4L343 424.5L341.4 422.5L340.2 419.5L340.4 416.5L341.7 414.5L345 412.5L349.5 411.9L354.5 412.9L358.9 415.5L360.5 418.5L359.7 421.5L357.1 424.5ZM597.5 459.5L594.5 459.5L591.5 457.9L586.8 452.5L583.3 446.5L582.6 443.5L583.7 440.5L585.9 438.5L588.5 437.2L593.5 436.3L597.5 437.5L600.5 439.5L604.9 443.5L608.8 448.5L608.8 451.5L607.5 453.5L602.1 457.5ZM536.5 516.6L528.5 517.1L523.5 516.3L520.5 515.1L519 513.5L518.3 511.5L518.3 508.5L519.5 505.1L521.6 502.5L524.5 501L527.5 500.8L534.5 502L537.5 502.1L540.5 501.3L543.5 499.6L547 496.5L549.9 492.5L554.5 478.9L556.5 477L558.5 477L560.5 478.8L561.5 481.1L562.1 484.5L562.1 488.5L560.5 495.2L555.5 507.5L552.8 511.5L549.5 513.8ZM442.5 246.7L440.5 247.4L437.5 246.8L434.6 244.5L432.9 241.5L432.1 237.5L432.5 234.3L434.1 231.5L436.5 230L438.5 229.8L441.5 230.7L443.8 232.5L445.7 235.5L446.2 238.5L445.9 241.5L444.5 244.6Z" fill="none" stroke="#000" stroke-width="2" stroke-linejoin="round"/>
</g>
<circle cx="484.2" cy="390.7" r="243" fill="none" stroke="#909090" stroke-width="2.4"/>
<ellipse cx="167.8" cy="709.6" rx="13.4" ry="16.3" transform="rotate(-22 167.8 709.6)" fill="#000"/>
</g>
<path d="M189.3 738v-4M189.3 45.5v4M237.5 738v-14M237.5 45.5v14M285.6 738v-4M285.6 45.5v4M333.8 738v-4M333.8 45.5v4M381.9 738v-4M381.9 45.5v4M430.1 738v-14M430.1 45.5v14M478.2 738v-4M478.2 45.5v4M526.4 738v-4M526.4 45.5v4M574.5 738v-4M574.5 45.5v4M622.7 738v-14M622.7 45.5v14M670.8 738v-4M670.8 45.5v4M719 738v-4M719 45.5v4M767.1 738v-4M767.1 45.5v4M815.3 738v-14M815.3 45.5v14M141.5 79h4M834.5 79h-4M141.5 113.4h4M834.5 113.4h-4M141.5 147.8h4M834.5 147.8h-4M141.5 182.2h14M834.5 182.2h-14M141.5 216.6h4M834.5 216.6h-4M141.5 251h4M834.5 251h-4M141.5 285.4h4M834.5 285.4h-4M141.5 319.8h14M834.5 319.8h-14M141.5 354.1h4M834.5 354.1h-4M141.5 388.5h4M834.5 388.5h-4M141.5 422.9h4M834.5 422.9h-4M141.5 457.3h14M834.5 457.3h-14M141.5 491.7h4M834.5 491.7h-4M141.5 526.1h4M834.5 526.1h-4M141.5 560.5h4M834.5 560.5h-4M141.5 594.9h14M834.5 594.9h-14M141.5 629.2h4M834.5 629.2h-4M141.5 663.6h4M834.5 663.6h-4M141.5 698h4M834.5 698h-4M141.5 732.4h14M834.5 732.4h-14" stroke="#000" stroke-width="1.3" fill="none"/>
<rect x="141.5" y="45.5" width="693" height="692.5" fill="none" stroke="#000" stroke-width="1.4"/>
<rect x="839.5" y="45.5" width="30" height="692.5" fill="url(#cb)" stroke="#000" stroke-width="1.4"/>
<text x="873.8" y="747.2" font-size="24.8">0</text>
<text x="873.8" y="639" font-size="24.8">10</text>
<text x="873.8" y="530.8" font-size="24.8">20</text>
<text x="873.8" y="422.6" font-size="24.8">30</text>
<text x="873.8" y="314.4" font-size="24.8">40</text>
<text x="873.8" y="206.2" font-size="24.8">50</text>
<text x="873.8" y="98" font-size="24.8">60</text>
<path d="M839.5 629.8h5M869.5 629.8h-5M839.5 521.6h5M869.5 521.6h-5M839.5 413.4h5M869.5 413.4h-5M839.5 305.2h5M869.5 305.2h-5M839.5 197h5M869.5 197h-5M839.5 88.8h5M869.5 88.8h-5" stroke="#000" stroke-width="1.3" fill="none"/>
<text x="136.4" y="190" font-size="24.8" text-anchor="end">21°08'10"</text>
<text x="136.4" y="327.6" font-size="24.8" text-anchor="end">05"</text>
<text x="136.4" y="465.1" font-size="24.8" text-anchor="end">00"</text>
<text x="136.4" y="602.6" font-size="24.8" text-anchor="end">07'55"</text>
<text x="136.4" y="740.2" font-size="24.8" text-anchor="end">50"</text>
<text x="238.2" y="763.3" font-size="24.8" text-anchor="middle">23<tspan font-size="17" dy="-9.2" dx="1.2">h</tspan><tspan dy="9.2" dx="-0.3">07</tspan><tspan font-size="17" dy="-9.2" dx="0.4">m</tspan><tspan dy="9.2" dx="2.2">29.5</tspan><tspan font-size="17" dy="-9.2" dx="1.0">s</tspan></text>
<text x="430.7" y="763.3" font-size="24.8" text-anchor="middle">29.0<tspan font-size="17" dy="-9.2">s</tspan></text>
<text x="623.3" y="763.3" font-size="24.8" text-anchor="middle">28.5<tspan font-size="17" dy="-9.2">s</tspan></text>
<text x="815.9" y="763.3" font-size="24.8" text-anchor="middle">28.0<tspan font-size="17" dy="-9.2">s</tspan></text>
<text x="488" y="802.6" font-size="27.5" text-anchor="middle">Right Ascension</text>
<text transform="translate(46 393.5) rotate(-90)" font-size="27.5" text-anchor="middle">Declination</text>
<text transform="translate(935 393) rotate(-90)" font-size="27.5" text-anchor="middle"><tspan font-style="italic">μ</tspan>Jy/beam</text>
<text x="487.7" y="37.3" font-size="34.75" text-anchor="middle">HR 8799 - Band 7 ACA+12m</text>
</svg></body></html>
